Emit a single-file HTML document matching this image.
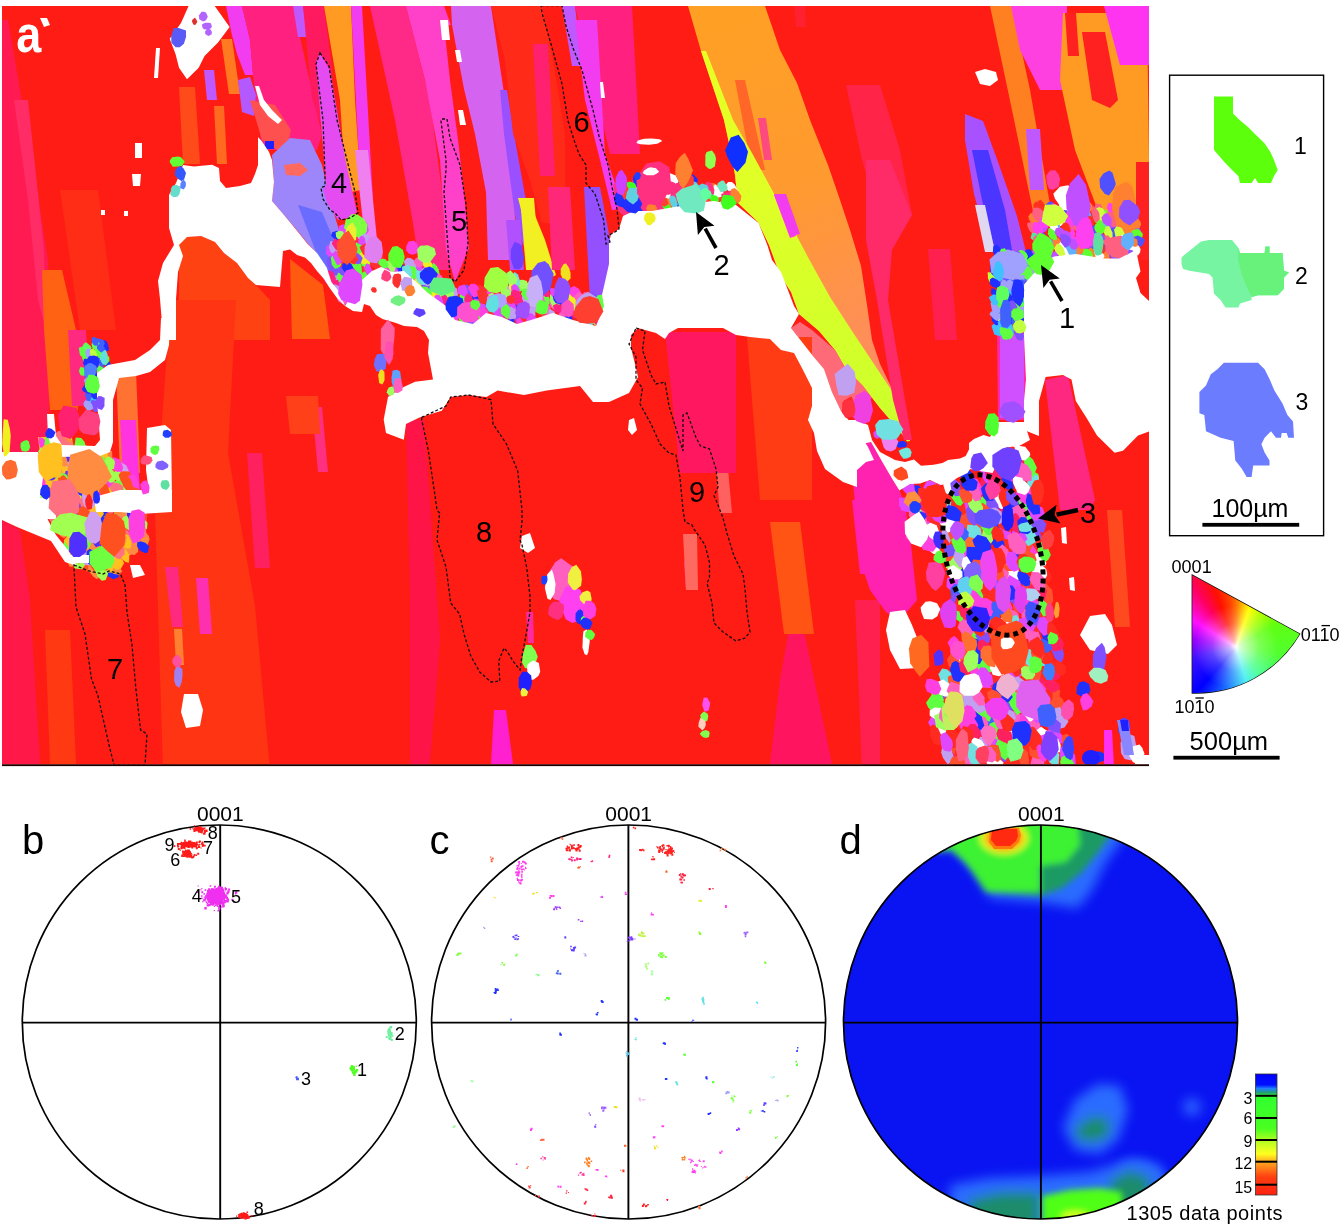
<!DOCTYPE html><html><head><meta charset="utf-8"><title>EBSD figure</title><style>
html,body{margin:0;padding:0;background:#fff;}body{width:1344px;height:1227px;overflow:hidden;position:relative;}
svg{position:absolute;left:0;top:0;}
.t{font-family:"Liberation Sans",Arial,sans-serif;fill:#000;}
#ipf{position:absolute;left:1190px;top:573px;width:112px;height:122px;clip-path:url(#ipfclip);}
</style></head><body>
<svg width="1344" height="1227" viewBox="0 0 1344 1227">
<defs><clipPath id="mapclip"><rect x="2" y="6" width="1147" height="758.5"/></clipPath>
<clipPath id="dclip"><circle cx="1040.5" cy="1022" r="197"/></clipPath>
<filter id="bl6" x="-20%" y="-20%" width="140%" height="140%"><feGaussianBlur stdDeviation="6"/></filter>
<filter id="bl3" x="-20%" y="-20%" width="140%" height="140%"><feGaussianBlur stdDeviation="3"/></filter>
<linearGradient id="gor" gradientUnits="userSpaceOnUse" x1="720" y1="20" x2="880" y2="400"><stop offset="0" stop-color="#ffa024"/><stop offset="0.45" stop-color="#ff9a30"/><stop offset="1" stop-color="#ff8a68"/></linearGradient>
<linearGradient id="gyg" gradientUnits="userSpaceOnUse" x1="710" y1="60" x2="900" y2="440"><stop offset="0" stop-color="#e8ff24"/><stop offset="1" stop-color="#ccff2c"/></linearGradient>
<filter id="bl1"><feGaussianBlur stdDeviation="0.6"/></filter>
</defs>
<g clip-path="url(#mapclip)">
<rect x="2" y="6" width="1147" height="759" fill="#ff1c14"/>
<polygon points="2,20 8,20 20,90 34,170 48,260 50,330 48,470 2,470" fill="#ff1a52"/>
<polygon points="14,100 28,100 44,250 46,330 38,300 28,200" fill="#ff2c66"/>
<polygon points="60,190 98,190 116,330 80,330" fill="#ff2c16"/>
<polygon points="42,270 62,270 76,330 78,410 50,410 44,330" fill="#ff6212"/>
<polygon points="68,330 86,330 90,406 72,406" fill="#ff2a80"/>
<polygon points="116,370 136,370 140,473 120,473" fill="#ff7232"/>
<polygon points="120,420 136,420 140,495 124,495" fill="#ff34e0"/>
<polygon points="38,437 72,437 76,480 44,486" fill="#ffc024"/>
<polygon points="45,473 76,473 80,510 48,512" fill="#ff7080"/>
<polygon points="74,451 112,451 116,510 78,510" fill="#ff8040"/>
<polygon points="179,87 195,87 200,164 183,164" fill="#ff4a1a"/>
<polygon points="214,106 224,106 227,164 217,164" fill="#ff6a20"/>
<polygon points="226,6 242,6 250,40 253,75 245,75 237,54 231.6,33.5" fill="#f23cf0"/>
<polygon points="242,6 293,6 322,135 317,150 262,150 253,75 250,40" fill="#ff2080"/>
<polygon points="293,6 303,6 308,37 298,37" fill="#c058ff"/>
<polygon points="303,6 324,6 332,70 325,135 312,100" fill="#ff1a60"/>
<polygon points="204,70 214,70 217,100 207,100" fill="#c058ff"/>
<polygon points="221,39 232,39 240,94 229,94" fill="#ff7a20"/>
<polygon points="238,80 250,77 256,95 254,116 242,112" fill="#b458ff"/>
<polygon points="250,100 275,105 291,130 285,155 262,140" fill="#ff5050"/>
<polygon points="272,155 290,138 310,140 322,165 330,200 342,240 352,280 345,306 338,291 331,282 327,268 317,253 308,244 296,229 284,215 272,201 274,182" fill="#9c86fa"/>
<polygon points="284,165 300,163 308,170 300,176 286,175" fill="#ff6a60"/>
<polygon points="265,141 274,141 274,149 265,149" fill="#2020ff"/>
<polygon points="298,205 322,212 338,250 346,290 334,285 316,252" fill="#6a6cff"/>
<polygon points="324,6 351,6 355,100 361,190 346,193 340,100" fill="#ff9a22"/>
<polygon points="351,6 362,6 373,200 361,200" fill="#f23cf0"/>
<polygon points="320,53 316,62 326,185 323,190 327,203 338,220 349,218 357,212 346,163 330,70" fill="#e44cf2"/>
<polygon points="355,150 368,150 378,250 366,250" fill="#f080f0"/>
<polygon points="370,6 406,6 430,100 446,223 450,270 420,270 413,223 395,120" fill="#ff2a88"/>
<polygon points="406,6 444,6 451,25 464,89 475,134 486,192 484,223 468,250 455,282 446,250 440,160 425,80" fill="#ff40c8"/>
<polygon points="444,25 452,25 470,100 486,192 488,260 470,260 464,192 458,140 450,80" fill="#ff1c14"/>
<polygon points="451,6 491,6 505,100 513,134 515,223 513,260 488,260 486,192 475,134 464,89 452,25" fill="#d464f0"/>
<polygon points="500,90 507,90 514,134 530,223 542,260 528,260 516,223 504,134" fill="#9a50ff"/>
<polygon points="491,6 542,6 553,60 565,134 565,223 542,223 530,180 513,134 505,60" fill="#ff2a18"/>
<polygon points="518,198 528,198 545,240 556,275 546,280 530,245" fill="#f2f022"/>
<polygon points="533,44 548,44 555,176 540,176" fill="#ff2070"/>
<polygon points="562,6 575,6 582,66 572,66" fill="#c058ff"/>
<polygon points="575,6 632,6 640,154 610,154" fill="#ff2080"/>
<polygon points="575,20 597,20 605,154 624,209 612,210 600,160 585,100" fill="#f23cf0"/>
<polygon points="584,187 600,187 612,250 605,300 590,300" fill="#9450ff"/>
<polygon points="548,187 570,187 575,270 552,270" fill="#ff2878"/>
<polygon points="520,198 534,198 540,270 526,270" fill="#f2f022"/>
<polygon points="506,220 520,220 524,270 510,270" fill="#b050ff"/>
<polygon points="688,6 765,6 780,50 797,83 810,120 828,165 840,200 850,230 861,266 867,305 872,340 880,364 896,397 910,441 899,430 880,408 863,386 846,369 835,350 819,331 799,314 791,292 780,275 769,245 758,222 738,203 735,175 730,148 724,120 701,51" fill="url(#gor)"/>
<polygon points="735,80 745,80 765,170 752,170" fill="#ff6628"/>
<polygon points="758,118 766,118 772,160 764,160" fill="#ff4a80"/>
<polygon points="701,51 706,51 733,120 752,153 771.5,189 791,225 810,261 830,297 852,331 874,364 896,397 907,425 910,441 907,441.5 899,430 880,408 863,386 846,369 835,350 819,331 799,314 791,292 780,275 769,245 758,222 738,203 735,175 730,148 724,120" fill="url(#gyg)"/>
<polygon points="774,195 782,195 796,236 790,238" fill="#ff40e0"/>
<polygon points="846,85 880,85 900,150 912,215 880,222 862,160" fill="#ff2448"/>
<polygon points="866,160 890,160 912,215 892,250 888,300 905,400 912,440 904,440 893,400 877,300 866,240" fill="#ff2a68"/>
<polygon points="928,249 950,249 957,340 935,340" fill="#ff2050"/>
<polygon points="791,328 800,322 812,330 835,350 846,369 863,386 872,398 856,405 841,411 832,392 824,369 813,356 802,342" fill="#ff6a78"/>
<polygon points="794,6 805,6 806,27 796,27" fill="#ff2030"/>
<polygon points="774,194 786,194 800,234 790,236" fill="#f23cf0"/>
<polygon points="990,6 1012,6 1030,90 1052,216 1034,216 1012,110" fill="#ff8020"/>
<polygon points="1011,6 1067,6 1067,90 1040,90 1020,50" fill="#ff40e0"/>
<polygon points="1063,13 1147,13 1149,160 1140,216 1100,216 1075,150 1060,80" fill="#ff9a22"/>
<polygon points="1082,32 1105,32 1118,100 1110,108 1092,100" fill="#ff2020"/>
<polygon points="1065,13 1076,13 1079,56 1068,56" fill="#ff2020"/>
<polygon points="1104,6 1149,6 1149,65 1120,65" fill="#ff34f0"/>
<polygon points="1136,162 1149,162 1149,260 1136,260" fill="#ff2020"/>
<polygon points="1026,129 1040,129 1044,190 1030,190" fill="#c058ff"/>
<polygon points="965,114 983,121 998,162 1017,216 1026,252 990,252 974,194 965,140" fill="#a852ff"/>
<polygon points="972,150 988,150 1005,210 1012,250 995,250 982,200" fill="#4a36ff"/>
<polygon points="975,205 985,205 995,252 985,252" fill="#e0d8f0"/>
<polygon points="997,330 1026,330 1026,420 998,420" fill="#ff26a8"/>
<polygon points="1000,334 1024,334 1024,418 1000,418" fill="#d050ff"/>
<polygon points="2,520 20,530 30,600 40,764 2,764" fill="#ff1848"/>
<polygon points="179,245 187,237 201,236 215,242 224,253 237,263 248,278 256,285 270,300 270,340 179,340" fill="#ff4212"/>
<polygon points="171,300 236,300 228,453 255,606 270,770 163,770 155,511" fill="#ff3412"/>
<polygon points="247,453 262,453 270,568 255,568" fill="#ff2060"/>
<polygon points="312,407 322,407 328,472 318,472" fill="#ff3080"/>
<polygon points="286,396 318,396 320,434 290,434" fill="#ff4018"/>
<polygon points="716,469 728,469 732,513 720,513" fill="#ff6060"/>
<polygon points="684,561 695,561 697,590 686,590" fill="#ff40a0"/>
<polygon points="855,600 880,600 880,770 862,770" fill="#ff2050"/>
<polygon points="45,630 70,630 76,764 50,764" fill="#ff3a12"/>
<polygon points="165,567 178,567 183,627 172,627" fill="#ff2a80"/>
<polygon points="196,578 208,578 212,634 200,634" fill="#ff30b0"/>
<polygon points="174,629 182,629 184,665 176,665" fill="#ff8030"/>
<polygon points="406,420 424,420 440,640 430,764 410,764 410,600" fill="#ff1448"/>
<polygon points="494,710 506,710 513,764 491,764" fill="#ff20d0"/>
<polygon points="526,612 533,612 534,643 528,643" fill="#ff2aa0"/>
<polygon points="683,534 697,534 698,590 686,590" fill="#ff6a60"/>
<polygon points="792,612 800,612 832,764 770,764 780,680" fill="#ff1460"/>
<polygon points="770,522 800,522 814,634 784,634" fill="#ff5414"/>
<polygon points="852,500 880,500 880,574 860,574" fill="#ff22b0"/>
<polygon points="665,332 736,332 736,473 680,473" fill="#ff1860"/>
<polygon points="747,337 812,337 812,500 760,500" fill="#ff3c14"/>
<polygon points="854,459 863.4,443.8 871,442 880.6,459 891.6,478 899.4,490.6 905.6,506 907,520 911,545 917,600 900,620 886,612 870,590 860,560 852,470" fill="#ff22b0"/>
<polygon points="1045,380 1068,375 1095,500 1090,510 1060,510" fill="#ff2880"/>
<polygon points="1107,510 1122,510 1130,627 1115,627" fill="#ff4a20"/>
<polygon points="290,259 323,285 330,339 292,339" fill="#ff5a10"/>
<polygon points="438.647,296.705 436.254,292.106 437.089,286.81 440.084,287.502 443.743,289.007 447.183,294.324 445.916,296.696 441.695,299.403" fill="#a0ff60"/>
<polygon points="462.131,293.036 466.237,296.15 467.569,298.128 467.216,303.012 464.92,303.377 461.493,301.871 459.581,297.311 459.986,293.52" fill="#60ff40"/>
<polygon points="544.799,291.503 548.583,294.853 549.77,299.473 549.753,304.445 545.395,304.565 541.185,300.999 540.22,296.677 541.232,293.476" fill="#60ff40"/>
<polygon points="342.463,261.028 340.661,258.894 338.397,251.854 340.404,249.872 346.136,250.441 347.681,253.156 349.063,258.27 347.045,262.038" fill="#ff2080"/>
<polygon points="492.397,305.258 494.999,300.006 499.764,300.821 501.66,302.687 503.148,308.381 500.73,312.636 497.388,312.054 493.368,309.667" fill="#c0a0f0"/>
<polygon points="350.236,289.834 349.816,285.032 352.332,283.961 358.129,286.211 360.449,290.596 360.107,293.483 357.327,296.287 352.192,294.343" fill="#8050ff"/>
<polygon points="430.443,282.737 427.871,279.619 428.228,274.679 430.454,273.014 434.981,275.064 436.674,278.114 437.578,281.27 434.161,283.44" fill="#60ff40"/>
<polygon points="411.161,286.465 405.756,280.057 404.854,276.733 407.015,272.143 413.624,271.503 416.793,277.46 418.416,284.127 414.815,284.986" fill="#e048ff"/>
<polygon points="534.684,288.381 536.832,287.087 541.903,287.132 545.347,292.449 544.707,294.729 542.033,298.107 537.835,297.306 534.996,292.722" fill="#e048ff"/>
<polygon points="455.317,316.446 452.81,313.701 456.767,308.563 460.719,309.284 464.662,312.633 466.017,315.639 463.695,319.603 460.205,319.49" fill="#ff60c0"/>
<polygon points="413.618,273.213 413.806,265.444 416.642,263.426 421.477,267.51 423.296,270.893 424.172,275.017 420.219,279.76 417.921,277.388" fill="#e048ff"/>
<polygon points="410.237,272.932 406.855,269.549 403.596,261.247 407.35,257.718 410.901,258.216 414.643,260.841 416.462,265.257 415.499,271.289" fill="#c0a0f0"/>
<polygon points="605.476,315.372 603.621,316.78 598.115,315.495 595.653,313.143 594.888,309.989 598.419,306.013 601.312,306.979 604.458,311.722" fill="#c0a0f0"/>
<polygon points="505.528,319.541 507.012,314.826 510.289,314.797 513.304,318.591 514.905,323.288 512.211,326.746 508.396,326.941 506.468,324.585" fill="#2030ff"/>
<polygon points="522.98,290.105 518.989,292.488 514.776,290.538 512.638,283.235 511.809,278.108 515.783,277.457 519.957,280.336 522.273,283.001" fill="#60ff40"/>
<polygon points="602.144,319.308 599.998,322.359 595.959,320.583 590.305,314.183 592.037,309.196 593.869,305.846 600.126,308.304 601.399,311.936" fill="#c0a0f0"/>
<polygon points="400.254,276.57 395.234,270.032 394.431,265.683 396.987,262.549 401.15,261.762 405.42,268.169 405.994,272.934 404.972,276.91" fill="#2030ff"/>
<polygon points="572.442,315.402 571.253,319.331 565.708,317.286 562.889,313.743 562.991,312.078 564.943,308.538 567.613,308.636 570.825,310.952" fill="#ff3030"/>
<polygon points="535.378,315.155 532.733,317.906 530.052,316.153 528.1,313.174 526.293,309.463 529.146,307.395 533.47,308.287 535.452,311.558" fill="#c0a0f0"/>
<polygon points="563.565,321.117 562.905,313.79 563.943,311.465 568.141,312.615 571.819,315.022 573.075,323.083 570.559,325.547 565.502,322.757" fill="#2030ff"/>
<polygon points="350.649,238.128 354.935,236.32 358.793,238.232 360.888,242.903 360.371,249.017 357.602,250.284 353.514,245.927 350.958,242.48" fill="#e048ff"/>
<polygon points="432.327,271.497 431.628,277.059 429.255,278.045 424.109,276.161 420.988,273.49 421.549,269.34 424.894,267.19 428.265,268.788" fill="#c0a0f0"/>
<polygon points="326.487,246.34 328.303,244.824 332.42,247.415 335.26,252.231 334.742,256.437 331.739,259.999 328.755,256.908 325.966,253.398" fill="#e048ff"/>
<polygon points="505.706,292.277 501.807,289.709 499.87,285.818 498.498,280.621 501.131,275.891 504.327,277.224 507.622,284.771 507.8,290.16" fill="#e048ff"/>
<polygon points="343.552,250.658 345.085,246.514 348.346,247.045 351.551,247.865 352.3,250.781 352.436,256.059 350.261,256.505 346.213,255.42" fill="#ff40e0"/>
<polygon points="520.472,302.696 523.733,306.932 523.08,311.025 517.989,313.009 515.51,312.593 513.076,308.251 513.218,302.657 515.012,301.899" fill="#2030ff"/>
<polygon points="582.678,325.811 578.58,321.832 579.376,317.826 580.365,316.523 584.087,315.292 587.737,318.968 587.892,322.359 585.003,325.558" fill="#c0a0f0"/>
<polygon points="374.25,252.123 371.7,255.094 366.006,253.265 363.668,251.019 362.438,247.066 366.373,244.724 372.533,246.422 375.224,248.535" fill="#c0a0f0"/>
<polygon points="344.934,234.923 341.989,233.307 338.577,230.579 338.86,225.919 343.271,224.153 349.54,226.989 351.869,230.25 349.888,232.838" fill="#e048ff"/>
<polygon points="514.434,292.312 518.31,299.827 516.545,303.006 513.308,304.442 510.303,300.829 507.645,295.586 508.063,291.063 510.369,288.328" fill="#60ff40"/>
<polygon points="449.813,318.194 451.232,313.254 453.733,312.564 456.516,314.552 458.531,317.678 458.188,322.465 454.238,322.766 452.289,321.117" fill="#ff40e0"/>
<polygon points="519.94,279.922 522.743,279.735 526.899,280.988 528.244,288.135 528.311,290.486 524.526,293.014 522.082,291.328 518.521,284.693" fill="#a0ff60"/>
<polygon points="563.179,308.458 561.069,302.586 563.514,298.874 567.497,299.129 570.098,301.97 572.604,307.721 571.61,311.958 567.671,312.309" fill="#c0a0f0"/>
<polygon points="559.494,300.765 559.978,295.619 562.365,292.001 567.472,296.12 571.14,301.112 570.949,305.483 566.28,307.67 561.863,305.382" fill="#e048ff"/>
<polygon points="458.935,315.463 456.79,316.901 452.484,312.546 450.947,310.02 452.484,306.8 455.99,305.826 459.676,309.347 460.308,313.054" fill="#e048ff"/>
<polygon points="373.948,258.806 371.93,264.892 368.85,262.64 365.482,258.921 364.88,254.581 367.767,251.813 369.591,251.152 372.757,254.382" fill="#8050ff"/>
<polygon points="550.499,307.026 549.234,301.547 550.078,299.347 553.548,298.61 558.219,303.374 558.451,307.519 556.984,310.344 554.76,310.64" fill="#ff60c0"/>
<polygon points="583.689,310.871 588.045,307.799 591.179,309.458 594.884,315.351 592.843,320.135 591.552,321.411 585.502,320.338 584.021,316.779" fill="#e048ff"/>
<polygon points="564.902,309.404 566.577,315.18 564.897,316.912 561.097,316.469 558.886,314.753 557.451,307.014 560.326,305.87 562.391,305.72" fill="#ff60c0"/>
<polygon points="378.889,268.379 375.687,269.002 369.539,264.931 367.796,261.244 368.774,256.499 370.29,252.63 377.561,257.438 378.595,261.665" fill="#ff3030"/>
<polygon points="513.594,294.521 512.995,298.231 510.017,298.531 504.867,293.343 504.821,289.647 506.537,285.213 509.936,285.93 512.438,289.035" fill="#c0a0f0"/>
<polygon points="348.805,295.675 352.389,298.331 354.198,302.556 351.635,306.479 347.38,306.273 344.392,302.706 343.368,299.085 346.6,296.559" fill="#ff40e0"/>
<polygon points="390.476,273.225 388.565,267.732 389.302,263.114 392.195,262.794 396.103,266.145 398.078,270.481 396.674,275.582 393.447,275.152" fill="#e048ff"/>
<polygon points="349.034,274.308 352.207,271.238 357.513,271.768 360.758,274.783 362.207,280.947 360.232,285.051 356.952,286.423 352.132,282.267" fill="#70e0e0"/>
<polygon points="600.328,321.493 600.307,324.536 597.848,327.288 594.753,324.94 591.436,321.416 592.587,314.141 594.617,314.941 599.083,318.25" fill="#a0ff60"/>
<polygon points="499.769,315.911 501.208,310.029 503.806,309.706 507.08,313.179 509.002,318.64 508.264,322.778 504.19,324.782 502.173,320.946" fill="#ff2080"/>
<polygon points="512.365,313.687 507.604,311.24 505.919,306.099 507.266,302.153 511.862,301.252 514.991,303.142 516.662,309.377 516.225,313.191" fill="#e048ff"/>
<polygon points="517.837,308.814 520.63,312.381 522.129,314.776 521.631,318.657 518.074,318.497 514.525,316.563 512.436,314.166 513.879,309.569" fill="#ff3030"/>
<polygon points="413.748,279.546 408.164,277.211 406.132,272.488 408.164,268.33 411.371,265.937 414.689,266.8 418.637,271.996 417.313,277.253" fill="#60ff40"/>
<polygon points="474.695,327.587 471.582,325.144 468.445,320.33 470.36,317.903 471.761,316.158 477.085,317.118 480.129,323.09 480.033,325.553" fill="#e048ff"/>
<polygon points="349.165,299.287 345.435,295.731 344.703,293.221 347.211,290.235 350.528,288.924 353.927,291.273 356.79,297.074 354.208,298.1" fill="#f0f020"/>
<polygon points="551.621,293.89 557.636,294.787 560.668,301.847 560.229,304.406 556.484,308.154 553.214,307.769 549.665,300.699 550.102,294.309" fill="#a0ff60"/>
<polygon points="421.496,288.334 417.733,289.051 414.364,285.167 414.225,280.619 414.926,279.124 417.534,277.291 421.611,282.22 421.982,284.528" fill="#f0f020"/>
<polygon points="335.962,273.241 338.265,275.549 340.895,279.623 337.115,285.088 334.939,284.149 329.559,280.912 327.945,277.559 330.346,273.683" fill="#c0a0f0"/>
<polygon points="573.824,304.901 578.886,309.716 579.784,314.33 578.648,316.802 574.796,318.557 569.774,315.275 567.599,308.619 570.572,304.972" fill="#ff2080"/>
<polygon points="496.517,302.816 494.768,307.213 491.433,306.844 485.396,303.677 483.92,298.164 484.739,292.822 490.241,291.687 494.667,294.926" fill="#ff3030"/>
<polygon points="548.698,313.866 549.294,317.879 545.446,318.917 540.961,314.159 539.828,309.354 540.84,303.964 544.022,302.862 546.538,306.074" fill="#ff60c0"/>
<polygon points="374.852,267.177 373.596,265.401 373.181,259.692 374.678,256.607 381.304,258.068 384.266,262.456 385.067,265.918 381.811,269.057" fill="#ff3030"/>
<polygon points="464.702,286.062 466.33,284.191 470.266,286.793 472.169,291.092 473.243,296.03 470.488,297.108 465.471,295.163 464.728,292.54" fill="#8050ff"/>
<polygon points="343.369,279.379 347.54,281.668 349.517,285.591 349.455,288.501 345.913,289.02 342.143,288.078 339.936,283.293 340.127,280.84" fill="#f0f020"/>
<polygon points="571.917,310.446 567.019,307.056 566.175,301.722 569.204,298.464 573.537,299.6 577.721,303.331 578.478,308.133 576.254,310.639" fill="#a0ff60"/>
<polygon points="345.298,242.808 345.486,239.891 349.967,237.471 354.012,241.038 356.809,246.452 355.742,250.565 351.875,251.266 348.492,248.309" fill="#c0a0f0"/>
<polygon points="592.625,319.575 592.861,325.506 590.645,326.521 587.541,324.782 585.723,321.682 584.615,317.127 586.782,315.403 590.755,315.08" fill="#70e0e0"/>
<polygon points="564.182,292.66 565.063,295.218 562.058,299.511 559.927,299.243 555.451,297.295 553.007,291.12 554.751,289.7 558.915,289.484" fill="#60ff40"/>
<polygon points="352.759,275.3 354.587,277.493 355.467,281.182 355.22,285.879 350.978,285.581 349.256,283.201 347.887,279.19 348.086,275.021" fill="#ff60c0"/>
<polygon points="355.333,226.406 356.829,234.75 355.011,236.318 353.136,238.68 348.812,234.288 346.755,228.315 349.07,224.188 351.287,223.087" fill="#2030ff"/>
<polygon points="394.099,264.6 392.759,260.106 393.765,256.469 395.898,256.965 399.481,258.782 400.903,263.754 399.125,267.464 397.35,267.806" fill="#c0a0f0"/>
<polygon points="550.682,294.596 549.934,289.942 550.579,287.903 554.917,288.564 559.863,291.759 560.69,296.911 558.21,297.477 553.518,298.124" fill="#e048ff"/>
<polygon points="598.514,328.062 593.662,322.121 593.504,316.413 596.963,313.646 601.467,313.084 604.716,318.686 607.42,323.979 603.64,327.957" fill="#ff2080"/>
<polygon points="578.251,306.563 571.063,306.935 568.669,302.611 567.828,299.658 569.57,294.906 575.035,296.33 576.888,298.201 578.047,302.103" fill="#f0f020"/>
<polygon points="470.615,314.104 471.752,308.879 474.331,306.594 478.97,310.137 481.389,315.87 479.527,318.475 475.263,318.865 472.278,317.225" fill="#60ff40"/>
<polygon points="496.486,309.692 495.729,305.645 497.535,299.69 501.775,300.233 507.337,305.146 508.428,312.285 506.884,315.827 500.713,314.002" fill="#e048ff"/>
<polygon points="605.911,306.867 606.061,310.817 604.267,313.097 600.005,312.996 596.453,310.485 594.26,306.243 597.189,302.284 602.414,302.019" fill="#f0f020"/>
<polygon points="467.778,299.575 474.257,301.658 476.394,305.945 474.989,309.422 470.393,310.266 466.815,308.631 464.139,304.422 464.278,300.067" fill="#e048ff"/>
<polygon points="341.156,239.512 336.914,240.847 334.749,239.724 331.175,235.691 332.257,232.141 337.081,230.712 340.634,233.674 342.318,236.597" fill="#2030ff"/>
<polygon points="377.357,260.161 374.596,256.494 373.679,250.727 375.52,249.164 379.516,249.46 383.006,254.382 383.932,259.16 380.709,262.8" fill="#ff3030"/>
<polygon points="364.994,265.375 368.144,269.995 368.218,272.232 363.209,275.252 359.038,274.618 354.49,268.601 355.622,265.436 361.027,264.433" fill="#ff3030"/>
<polygon points="388.352,276.086 384.462,275.32 382.246,271.248 381.994,266.414 384.649,263.453 386.194,264.017 389.646,269.637 390.148,274.486" fill="#ff40e0"/>
<polygon points="545.319,307.913 546.111,311.175 546.32,315.063 539.667,316.011 537.645,313.084 535.729,308.961 537.94,306.047 541.649,306.607" fill="#ff3030"/>
<polygon points="453.788,303.871 451.079,301.856 449.872,295.954 450.638,292.322 457.319,292.341 458.488,294.909 460.324,301.051 459.152,304.829" fill="#ff3030"/>
<polygon points="367.052,223.333 368.836,230.627 366.454,234.488 361.891,233.508 355.641,227.665 355.963,222.057 359.619,218.741 363.523,220.05" fill="#e048ff"/>
<polygon points="467.353,289.363 467.975,293.661 465.044,296.971 460.809,294.711 458.024,293.746 457.393,288.805 459.112,285.913 464.454,284.6" fill="#e048ff"/>
<polygon points="334.365,269.577 331.869,269.107 327.716,266.822 326.642,262.121 327.871,256.911 331.921,256.215 334.361,260.382 336.704,265.292" fill="#8050ff"/>
<polygon points="415.24,258.565 418.451,257.054 421.971,258.66 424.266,264.246 421.801,266.554 419.258,267.478 416.227,265.967 413.796,262.175" fill="#ff60c0"/>
<polygon points="429.77,291.243 431.249,288.233 434.745,288.171 438.695,290.088 439.457,294.318 437.37,298.602 434.278,298.05 429.778,294.265" fill="#f0f020"/>
<polygon points="507.9,285.145 502.933,283.199 500.711,279.149 500.488,274.518 504.418,272.396 509.077,273.893 511.787,280.829 511.217,286.007" fill="#2030ff"/>
<polygon points="361.214,240.799 361.039,244.536 358.057,243.739 353.932,240.219 352.57,233.062 354.777,230.018 358.011,232.098 359.859,233.586" fill="#ff3030"/>
<polygon points="357.656,235.117 359.534,228.897 362.254,228.995 367.806,235.795 367.974,239.842 366.702,244.069 362.589,242.938 358.149,238.441" fill="#c0a0f0"/>
<polygon points="351.306,290.236 345.355,289.241 342.675,284.928 342.309,282.436 346.293,280.21 351.637,279.943 354.26,284.18 354.503,290.036" fill="#2030ff"/>
<polygon points="349.038,287.185 350.413,293.55 349.321,296.818 343.778,296.135 341.437,293.424 340.893,287.565 342.465,283.388 346.114,282.901" fill="#8050ff"/>
<polygon points="368.04,245.785 364.955,248.583 360.419,246.629 358.056,242.005 359.127,238.821 360.598,235.952 363.126,236.099 366.464,240.514" fill="#e048ff"/>
<polygon points="394.488,271.443 391.507,272.259 388.378,268.096 386.916,265.551 386.545,261.412 390.293,259.516 394.023,263.143 395.85,266.773" fill="#a0ff60"/>
<polygon points="508.899,288.572 508.747,282.035 511.949,280.316 514.357,280.641 517.241,285.069 517.442,289.003 515.6,292.876 510.397,290.422" fill="#f0f020"/>
<polygon points="344.147,271.539 341.089,268.565 338.636,262.035 338.755,258.784 341.076,256.52 345.555,262.29 347.4,265.571 346.995,270.376" fill="#ff3030"/>
<polygon points="338.866,240.334 336.078,236.663 335.668,232.566 339.411,230.818 342.978,231.612 344.134,233.796 345.534,239.899 343.139,241.613" fill="#a0ff60"/>
<polygon points="588.812,295.979 590.767,293.042 592.408,291.89 595.897,294.299 598.029,298.639 596.857,303.186 595.459,306.03 590.285,301.257" fill="#8050ff"/>
<polygon points="364.455,267.326 361.805,265.235 360.062,261.611 362.162,258.684 365.265,257.441 370.15,261.518 370.16,263.625 368.343,266.909" fill="#60ff40"/>
<polygon points="430.789,266.747 433.585,262.654 436.603,265.679 438.651,269.398 439.812,274.821 437.704,279.351 433.966,276.992 430.322,271.66" fill="#60ff40"/>
<polygon points="528.558,281.74 532.874,281.967 535.654,283.518 536.203,287.96 533.091,291.428 529.853,290.284 526.133,287.719 526.33,284.107" fill="#a0ff60"/>
<polygon points="556.506,303.693 559.975,305.022 562.477,306.715 561.551,311.349 559.564,313.471 555.339,311.757 553.907,309.114 552.813,305.452" fill="#ff2080"/>
<polygon points="454.874,310.207 452.892,312.125 449.455,312.326 446.821,310.395 444.869,305.48 446.561,300.894 450.767,301.636 452.568,303.815" fill="#ff40e0"/>
<polygon points="336.856,267.887 338.894,269.778 338.277,274.825 335.125,275.801 331.388,274.233 328.837,271.592 329.412,266.033 332.651,265.428" fill="#8050ff"/>
<polygon points="533.677,309.997 532.079,301.368 533.575,299.325 537.898,299.329 540.793,304.905 541.197,309.737 540.852,312.528 537.403,313.324" fill="#60ff40"/>
<polygon points="360.176,276.118 357.397,274.296 354.641,268.988 354.526,263.813 356.013,261.596 359.728,263.893 361.681,267.828 362.186,275.382" fill="#60ff40"/>
<polygon points="346.952,299.986 345.434,302.995 343.093,304.187 338.03,301.193 337.069,298.348 337.822,292.199 339.598,290.991 344.441,292.865" fill="#ff60c0"/>
<polygon points="495.359,293.681 488.501,288.209 489.148,282.959 491.746,279.56 496.764,278.855 501.09,283.614 502.287,289.307 498.717,292.972" fill="#e048ff"/>
<polygon points="447.41,295.329 448.836,297.205 451.666,302.933 448.782,307.699 447.016,307.314 443.154,304.17 441.204,296.581 443.015,293.989" fill="#ff2080"/>
<polygon points="346.283,256.909 349.623,255.854 354.172,259.579 355.041,264.712 353.312,267.341 350.043,267.8 346.046,266.195 343.8,260.16" fill="#ff3030"/>
<polygon points="536.591,310.481 533.835,310.744 529.766,307.008 529.493,301.663 531.501,299.32 533.77,300.159 536.275,301.51 537.248,305.824" fill="#c0a0f0"/>
<polygon points="356.381,242.544 362.411,245.679 363.691,249.327 362.581,254.571 357.607,254.837 353.37,252.251 351.152,246.86 352.876,242.404" fill="#60ff40"/>
<polygon points="358.636,260.821 357.288,255.495 361.544,251.92 366.331,253.273 371.429,257.762 370.209,262.05 368.681,264.068 362.929,264.127" fill="#f0f020"/>
<polygon points="590.363,313.012 584.396,311.282 581.674,307.553 583.514,303.101 587.916,302.817 590.669,303.428 594.431,308.111 591.792,311.229" fill="#2030ff"/>
<polygon points="340.98,283.824 338.829,281.276 336.851,277.474 337.818,272.626 341.476,273.197 344.214,276.423 345.653,281.544 344.889,284.064" fill="#60ff40"/>
<polygon points="496.841,292.951 500.464,291.242 502.898,293.018 506.965,296.852 506.846,301.832 503.268,304.09 501.802,303.308 497.465,300.366" fill="#ff60c0"/>
<polygon points="520.004,284.376 517.499,287.346 514.577,284.643 512.609,280.567 511.41,277.059 514.49,272.061 517.966,274.433 519.437,279.267" fill="#70e0e0"/>
<polygon points="585.153,311.466 581.072,310.713 578.799,310.741 575.864,304.627 575.979,296.312 579.555,295.185 582.123,297.601 584.959,302.645" fill="#2030ff"/>
<polygon points="441.489,287.933 439.859,281.303 443.94,278.582 446.552,279.791 450.279,284.425 451.201,289.896 449.494,292.236 444.277,290.715" fill="#2030ff"/>
<polygon points="500.08,296.246 498.302,293.9 500.322,288.124 504.083,287.671 510.809,290.725 512.281,294.34 509.41,298.992 505.441,299.625" fill="#a0ff60"/>
<polygon points="339.218,267.669 334.806,268.635 331.907,264.854 330.759,257.564 332.241,256.001 337.298,256.029 339.353,258.716 341.488,263.913" fill="#60ff40"/>
<polygon points="496.869,305.437 490.827,300.74 488.243,294.953 488.851,292.919 493.39,291.269 499.929,294.14 500.458,297.428 500.305,303.336" fill="#a0ff60"/>
<polygon points="540.012,281.794 542.689,287.862 542.117,291.1 538.856,292.606 534.718,290.43 532.306,286.961 533.207,282.245 537.427,280.908" fill="#ff3030"/>
<polygon points="354.699,244.974 350.483,243.687 347.472,240.693 346.209,232.062 348.579,230.146 352.354,230.274 356.483,236.754 357.113,239.418" fill="#ff2080"/>
<polygon points="473.065,322.95 469.623,326.875 463.747,323.025 463.487,319.681 462.579,313.329 465.01,311.296 469.911,311.624 472.913,317.747" fill="#8050ff"/>
<polygon points="539.468,309.456 539.51,305.267 541.323,299.531 546.44,302.012 549.805,306.06 551.638,311.722 549.642,314.811 544.001,314.294" fill="#ff60c0"/>
<polygon points="484.261,311.966 480.618,311.992 477.21,308.751 476.84,304.381 479.099,302.126 482.228,301.923 485.157,304.768 486.751,310.817" fill="#e048ff"/>
<polygon points="364.032,282.658 360.553,279.053 359.955,276.576 362.432,272.415 364.765,271.217 367.471,274.78 368.439,279.406 367.112,283.449" fill="#60ff40"/>
<polygon points="366.559,246.743 365.228,241.398 365.839,235.711 368.103,234.759 371.322,239.234 373.129,244.033 373.805,249.591 370.457,251.542" fill="#c0a0f0"/>
<polygon points="515.456,275.872 517.587,278.629 516.248,284.571 512.504,285.004 507.84,282.275 506.096,274.889 507.775,272.325 510.41,270.342" fill="#a0ff60"/>
<polygon points="434.7,290.372 430.528,287.564 429.231,284.07 430.809,281.619 435.182,281.301 437.352,283.365 438.34,287.25 436.07,290.228" fill="#ff3030"/>
<polygon points="471.835,308.165 469.731,308.515 465.199,302.437 464.099,298.382 466.952,293.337 468.708,294.063 472.626,298.124 474.278,306.499" fill="#ff2080"/>
<polygon points="523.981,290.763 526.11,291.607 529.995,297.741 529.803,300.999 528.503,305.244 525.755,304.564 522.069,300.057 521.485,292.404" fill="#c0a0f0"/>
<polygon points="456.753,288.538 457.946,294.419 456.87,297.089 452.191,297.261 450.487,294.75 448.954,288.861 450.145,284.921 452.394,285.456" fill="#c0a0f0"/>
<polygon points="480.496,301.722 475.567,301.932 472.157,298.071 472.773,294.289 475.847,291.213 479.67,292.264 481.963,295.587 482.857,299.797" fill="#2030ff"/>
<polygon points="589.277,302.604 584.364,299.25 582.541,295.813 583.816,292.175 589.034,292.569 592.329,294.724 595.046,298.234 593.277,301.452" fill="#ff60c0"/>
<polygon points="491.494,317.215 487.773,318.504 484.942,316.353 483.898,311.103 486.102,307.088 488.683,307.22 492.016,311.537 493.333,314.09" fill="#ff3030"/>
<polygon points="432.925,274.577 438.205,273.473 441.249,275.309 443.904,280.021 444.94,283.758 442.134,286.007 436.002,284.17 434.057,280.326" fill="#ff60c0"/>
<polygon points="362.762,254.026 359.417,247.269 362.173,245.071 365.247,243.549 370.405,245.912 371.654,251.181 371.482,256.669 365.641,256.725" fill="#ff3030"/>
<polygon points="517.243,324.582 513.526,317.65 514.594,315.184 519.668,313.302 522.432,313.185 526.538,320.824 525.357,323.891 520.53,324.963" fill="#8050ff"/>
<polygon points="356.104,277.72 361.218,280.191 363.051,284.78 361.589,287.491 356.762,288.295 351.99,284.922 349.803,282.515 352.847,276.709" fill="#8050ff"/>
<polygon points="528.613,315.845 532.2,320.663 531.807,327.547 526.18,328.407 521.103,324.524 520.51,319.995 520.526,316.138 523.165,313.347" fill="#ff3030"/>
<polygon points="565.958,287.132 568.657,287.54 573.191,293.412 572.896,297.706 570.671,299.481 565.404,297.929 563.799,295.701 563.062,288.602" fill="#f0f020"/>
<polygon points="361.663,265.795 360.274,270.207 356.851,269.704 353.174,268.611 350.259,262.75 350.646,258.442 353.927,256.633 359.55,260.631" fill="#60ff40"/>
<polygon points="325.059,282.482 322.259,276.455 323.823,273.488 328.254,270.191 333.22,271.919 335.803,278.365 335.626,283.66 330.187,285.22" fill="#ff2080"/>
<polygon points="553.087,296.426 556.657,293.049 560.692,295.501 562.329,298.299 562.694,302.545 560.372,304.704 555.608,303.078 553.365,299.862" fill="#2030ff"/>
<polygon points="333.407,253.462 330.643,252.272 328.996,247.318 330.243,240.984 333.295,241.834 337.623,244.013 338.673,249.424 337.522,254.65" fill="#c0a0f0"/>
<polygon points="335.617,246.38 336.158,242.251 338.517,238.637 341.812,239.837 346.299,244.696 346.105,247.406 343.075,250.161 337.61,249.89" fill="#ff3030"/>
<polygon points="354.216,233.374 352.359,232.374 349.573,226.722 349.761,222.919 354.595,221.79 358.983,222.935 361.334,230.651 359.369,233.816" fill="#ff3030"/>
<polygon points="408.881,277.032 405.34,274.882 402.151,271.148 402.013,266.67 405.965,265.329 408.955,265.096 411.592,270.729 412.259,275.743" fill="#70e0e0"/>
<polygon points="339.596,264.764 336.953,265.112 333.096,257.301 333.185,253.16 335.139,250.625 338.855,252.205 342.445,256.759 342.179,261.305" fill="#e048ff"/>
<polygon points="549.697,294.352 549.033,296.702 545.009,297.012 542.703,293.089 540.997,288.39 543.268,286.548 547.317,286.565 548.514,288.821" fill="#ff2080"/>
<polygon points="492.838,292.123 489.977,293.989 488.5,294.558 485.013,292.464 482.498,288.906 484.134,285.973 487.967,284.891 490.817,286.372" fill="#ff40e0"/>
<polygon points="484.561,298.972 479.957,298.523 476.917,293.804 475.343,287.239 479.567,284.805 484.87,287.258 486.989,289.861 486.626,295.061" fill="#ff3030"/>
<polygon points="340.661,274.725 339.277,272.266 338.421,267.057 344.126,267.004 347.627,268.315 349.761,272.001 348.904,276.855 346.743,277.195" fill="#8050ff"/>
<polygon points="498.963,308.107 501.553,310.091 503.297,315.437 502.888,317.527 496.774,318.598 494.879,316.283 491.863,310.748 495.096,308.861" fill="#e048ff"/>
<polygon points="335.402,238.142 338.111,240.642 340.286,244.197 340.922,249.966 338.018,250.771 335.626,249.611 331.685,243.385 333.81,240.104" fill="#ff2080"/>
<polygon points="442.954,289.39 445.882,286.315 448.034,287.296 453.554,291.576 453.858,294.864 451.768,298.917 447.642,297.426 444.99,294.021" fill="#a0ff60"/>
<polygon points="478.659,299.534 481.759,303.832 481.897,308.741 479.19,310.346 476.572,310.295 471.532,304.57 471.958,301.566 474.735,298.55" fill="#e048ff"/>
<polygon points="434.366,296.578 436.534,294.416 439.799,295.145 442.807,300.063 443.491,303.374 441.778,308.208 439.325,308.862 434.66,301.223" fill="#e048ff"/>
<polygon points="489.292,318.513 486.168,320.99 482.359,320.152 479.757,316.908 478.06,309.878 479.033,307.789 485.153,308.31 487.729,310.647" fill="#ff40e0"/>
<polygon points="387.031,268.17 382.84,268.218 378.109,263.514 379.099,260.149 380.928,258.801 385.317,258.895 387.255,261.424 388.625,264.916" fill="#60ff40"/>
<polygon points="464.044,313.356 467.153,317.707 467.719,321.813 465.02,324.728 462.392,324.355 459.716,321.38 458.353,316.921 460.029,314.254" fill="#60ff40"/>
<polygon points="421.962,279.396 423.532,277.049 430.592,280.567 433.38,283.942 433.015,286.321 430.972,290.52 425.967,288.725 421.237,285.915" fill="#8050ff"/>
<polygon points="523.096,321.803 523.822,327.258 522.376,331.778 519.263,329.693 517.518,327.779 516.347,321.162 516.505,318.882 519.982,317.443" fill="#ff40e0"/>
<polygon points="424.947,267.427 423.195,265.399 422.794,261.661 425.364,258.105 428.722,259.406 432.45,264.093 431.958,267.119 429.599,268.651" fill="#f0f020"/>
<polygon points="357.362,253.122 360.04,254.66 362.693,257.961 360.608,263.378 357.281,264.322 354.059,263.033 352.013,257.603 352.383,255.263" fill="#8050ff"/>
<polygon points="462.565,314.124 462.973,310.399 464.464,305.939 470.478,310.936 472.167,316.821 470.642,319.698 468.527,321.836 464.62,319.253" fill="#ff3030"/>
<polygon points="535.948,317.229 536.05,320.192 534.145,324.78 530.421,324.14 526.487,321.208 526.394,317.466 529.099,313.19 531.879,313.279" fill="#e048ff"/>
<polygon points="339.116,282.844 341.406,290.447 339.477,290.458 335.05,290.888 332.798,287.199 331.815,281.174 333.56,280.617 338.095,279.68" fill="#ff2080"/>
<polygon points="536.995,292.977 539.526,291.554 543.207,295.729 544.926,300.948 544.931,303.163 543.293,308.158 539.598,304.727 537.153,298.954" fill="#ff60c0"/>
<polygon points="577.303,308.306 582.975,308.453 585.449,309.728 588.664,315.106 585.65,319.199 583.204,321.181 577.683,318.304 576.377,312.957" fill="#a0ff60"/>
<polygon points="515.71,309.175 516.292,316.362 515.682,318.443 509.506,319.619 505.554,315.179 505.565,309.625 507.592,306.398 510.743,306.696" fill="#c0a0f0"/>
<polygon points="352.43,250.258 355.796,254.325 358.199,259.618 354.639,264.551 350.845,263.163 348.662,260.432 346.002,253.917 347.85,250.631" fill="#ff3030"/>
<polygon points="510.42,311.051 508.714,317.209 507.35,319.326 500.877,313.444 500.816,308.868 501.25,303.167 505.207,302.739 508.642,305.795" fill="#60ff40"/>
<polygon points="345.574,259.086 340.022,254.01 339.992,250.632 341.17,245.982 344.73,245.327 348.227,247.931 350.407,255.689 348.248,259.411" fill="#ff40e0"/>
<polygon points="470.67,284.079 475.001,283.653 477.587,285.718 480.688,292.721 479.163,295.981 473.681,297.564 471.547,294.898 467.973,288.112" fill="#ff40e0"/>
<polygon points="570.246,287.933 574.212,286.057 578.852,288.656 582.349,294.655 580.421,298.385 576.366,298.99 572.091,296.578 568.59,292.905" fill="#ff40e0"/>
<polygon points="480.12,302.744 478.32,298.863 476.918,290.95 478.939,289.487 482.755,291.478 485.681,297.137 485.422,303.03 483.021,304.22" fill="#ff3030"/>
<polygon points="420.938,283.306 419.126,279.844 422.315,276.143 426.008,274.946 431.651,277.453 432.74,281.672 431.066,285.295 427.24,286.265" fill="#c0a0f0"/>
<polygon points="446.669,285.537 447,290.996 444.812,292.526 440.857,290.458 439.23,288.779 438.537,282.937 440.798,279.389 444.612,281.91" fill="#ff40e0"/>
<polygon points="499.81,296.675 496.016,297.151 493.936,294.211 493.252,287.804 493.621,284.791 496.893,284.657 500.268,290.566 501.163,293.466" fill="#ff3030"/>
<polygon points="599.291,300.914 602.573,304.855 603.085,309.703 600.288,311.878 596.289,311.065 591.241,306.71 590.735,301.432 594.917,298.65" fill="#60ff40"/>
<polygon points="582.424,294.055 585.693,295.463 585.933,301.762 583.439,303.923 578.61,304.102 575.625,299.635 573.671,296.533 578.627,291.92" fill="#ff60c0"/>
<polygon points="528.219,305.757 524.838,301.09 523.615,295.577 527.611,293.756 533.015,295.402 536.273,300.998 534.391,304.223 531.868,307.904" fill="#c0a0f0"/>
<polygon points="556.24,315.658 556.724,319.205 553.27,320.865 549.862,318.748 548.269,314.071 548.737,309.698 550.499,309.193 554.597,311.85" fill="#c0a0f0"/>
<polygon points="519.671,289.612 519.46,293.502 517.445,295.761 512.317,293.631 511.229,290.085 511.212,286.131 514.42,283.823 517.77,286.029" fill="#e048ff"/>
<polygon points="536.458,291.631 535.58,295.376 532.7,294.241 528.965,291.401 528.493,286.565 529.736,283.933 533.502,284.124 535.884,286.874" fill="#60ff40"/>
<polygon points="427.295,281.954 424.12,284.9 420.224,284.44 416.863,281.132 415.716,273.892 415.924,270.128 422.845,270.925 425.159,274.292" fill="#70e0e0"/>
<polygon points="456.919,298.466 461.57,299.777 465.314,305.159 465.261,312.911 462.425,315.154 457.247,311.307 454.44,305.99 454.837,302.807" fill="#2030ff"/>
<polygon points="421.115,286.528 427.082,286.627 429.233,289.056 432.283,293.465 428.852,296.806 425.657,295.707 421.388,294.334 420.28,290.019" fill="#60ff40"/>
<polygon points="519.643,291.376 521.561,296.444 523.252,303.093 518.49,304.29 516.254,305.473 510.262,299.573 511.018,292.107 513.732,289.565" fill="#ff2080"/>
<polygon points="526.556,317.767 523.186,319.098 520.138,317.082 517.735,312.856 518.557,308.997 522.997,307.405 526.475,309.812 528.199,315.908" fill="#ff3030"/>
<polygon points="352.976,272.96 350.164,276.676 346.161,274.522 341.612,267.708 342.584,264.127 346.147,260.133 351.692,264.574 354.025,269.292" fill="#2030ff"/>
<polygon points="341.963,289.471 342.102,293.985 338.418,297.612 335.591,295.731 332.333,290.399 333.108,285.998 334.885,284.333 339.374,286.337" fill="#c0a0f0"/>
<polygon points="531.409,295.163 530.052,299.332 525.987,300.271 523.877,297.663 521.044,294.343 522.811,288.957 526.378,288.382 529.536,291.467" fill="#60ff40"/>
<polygon points="486.317,308.223 484.999,304.84 488.216,300.25 492.03,301.035 493.541,303.771 495.517,306.978 493.578,312.25 489.689,311.485" fill="#8050ff"/>
<polygon points="529.512,308.893 527.239,312.824 523.892,312.188 520.82,308.966 520.62,306.698 522.288,303.735 526.177,303.418 527.873,304.857" fill="#e048ff"/>
<polygon points="492.485,279.375 496.296,284.384 497.524,289.375 497.28,292.984 493.051,293.54 487.034,290.624 484.456,283.755 488.135,279.403" fill="#ff2080"/>
<polygon points="605.403,307.387 601.555,309.503 596.343,302.971 595.184,298.715 597.75,295.135 602.956,294.511 607.451,300.426 607.093,303.838" fill="#60ff40"/>
<polygon points="366.85,263.306 369.527,264.714 372.409,270.644 373.019,274.239 369.547,275.8 366.764,274.214 363.941,268.176 365.718,264.786" fill="#e048ff"/>
<polygon points="460.079,311.759 454.1,310.485 452.888,308.275 451.408,304.033 455.007,301.784 457.095,302.292 461.028,303.464 461.219,309.199" fill="#70e0e0"/>
<polygon points="623.64,215.664 618.239,210.908 617.554,204.295 619.742,202.446 626.526,202.817 628.669,207.778 630.34,213.114 626.372,216.323" fill="#ff3080"/>
<polygon points="692.718,189.57 695.975,187.789 700.501,191.798 701.085,195.547 701.497,199.602 697.956,201.465 693.365,198.582 691.223,192.908" fill="#70e8c0"/>
<polygon points="689.956,202.055 685.316,205.808 681.496,204.976 678.461,203.629 675.643,197.131 678.3,191.429 683.418,191.268 687.511,197.238" fill="#ff4030"/>
<polygon points="640.515,190.141 634.627,190.437 632.44,188.776 630.95,182.999 633.068,179.634 638.368,180.397 641.502,183.617 642.114,187.981" fill="#ff3080"/>
<polygon points="682.033,187.113 679.424,186.25 676.966,181.012 676.226,176.215 679.84,174.901 684.604,177.49 685.617,181.869 685.62,185.946" fill="#2030ff"/>
<polygon points="618.617,181.573 623.101,187.631 624.037,193.142 620.638,196.348 617.279,194.61 614.088,189.806 613.42,185.156 615.342,182.457" fill="#ff3080"/>
<polygon points="632.479,192.447 632.271,186.11 638.751,186.776 642.343,187.408 643.41,192.89 643.977,199.125 639.318,200.548 634.655,197.946" fill="#70e8c0"/>
<polygon points="720.866,196.21 722.847,196.406 728.395,199.659 728.923,203.051 728.713,208.5 726.012,208.22 723.036,206.794 720.011,201.219" fill="#70e8c0"/>
<polygon points="673.023,209.848 671.545,205.731 672.15,202.649 675.688,202.693 678.843,204.232 680.167,209.2 678.448,212.25 675.311,211.741" fill="#70e8c0"/>
<polygon points="658.24,188.543 659.635,187.271 662.517,188.415 664.729,191.309 664.582,195.223 663.462,198.391 658.35,196.349 656.43,191.577" fill="#ff3080"/>
<polygon points="690.05,183.951 688.864,180.069 688.703,175.443 693.403,174.479 697.05,178.191 697.995,179.962 696.755,184.37 693.166,185.388" fill="#2030ff"/>
<polygon points="734.708,184.603 738.179,190.983 735.611,193.43 732.582,193.599 728.912,191.721 724.806,186.363 728.113,181.923 731.85,181.949" fill="#ffffff"/>
<polygon points="695.651,193.074 690.577,190.512 689.22,187.948 688.908,182.527 692.182,181.066 696.359,182.214 699.876,187.26 699.427,190.121" fill="#60d0e0"/>
<polygon points="681.351,203.412 682.836,204.519 684.723,209.449 681.97,213.01 679.843,211.953 677.584,209.702 675.371,203.455 677.418,202.467" fill="#2030ff"/>
<polygon points="666.734,186.984 662.345,184.272 660.45,180.459 662.457,176.653 666.552,174.658 668.43,176.824 671.214,182.423 669.934,184.251" fill="#ff3080"/>
<polygon points="623.37,198.939 620.402,201.016 615.494,199.078 613.518,192.712 614.728,189.523 617.257,187.195 623.153,191.893 623.597,195.879" fill="#ff3080"/>
<polygon points="650.938,193.426 650.173,200.144 647.407,200.055 640.841,199.458 638.362,195.955 639.577,191.147 641.578,189.399 646.449,188.373" fill="#2030ff"/>
<polygon points="647.76,195.573 650.666,201.686 648.853,205.75 644.383,205.56 641.283,201.253 639.969,196.093 639.979,192.798 643.881,192.045" fill="#ff3080"/>
<polygon points="716.401,206.179 713.006,207.379 709.162,206.784 705.546,202.507 706.916,198.342 710.475,196.908 714.472,197.625 717.27,202.658" fill="#ff4030"/>
<polygon points="705.065,192.728 705.884,197.875 704.421,200.688 701.633,199.984 697.91,196.007 697.283,193.241 699.406,189.817 703.164,190.995" fill="#ff4030"/>
<polygon points="668.755,208.171 665.064,206.396 663.269,201.678 663.766,197.473 666.736,195.61 669.465,196.697 672.528,203.07 671.331,206.894" fill="#ff8030"/>
<polygon points="640.505,203.252 643.18,207.009 644.62,210.404 641.46,214.863 639.36,214.332 635.837,209.704 634.446,205.884 636.42,203.142" fill="#2030ff"/>
<polygon points="666.221,215.536 662.149,213.6 660.325,209.095 660.14,203.228 664,199.571 668.202,203.763 672.115,209.233 669.815,214.036" fill="#40ff20"/>
<polygon points="649.952,196.012 652.007,193.335 655.683,196.395 657.872,200.824 656.946,205.518 653.649,206.543 650.511,204.371 648.172,197.411" fill="#60d0e0"/>
<polygon points="656.17,179.498 655.889,176.967 659.563,174.744 662.722,176.374 665.88,180.943 665.524,184.617 662.977,187.275 659.615,185.435" fill="#ff3080"/>
<polygon points="656.871,196.775 659.455,194.028 663.625,194.652 667.07,199.263 668.768,204.098 664.559,206.828 659.348,204.691 656.247,202.377" fill="#ff4030"/>
<polygon points="677.085,196.68 675.668,200.575 673.211,199.902 669.832,196.417 668.53,191.098 669.677,187.136 673.025,189.069 676.375,191.792" fill="#ff3080"/>
<polygon points="677.147,190.794 679.276,186.851 684.432,188.184 686.692,191.401 687.779,197.014 685.827,202.154 682.734,200.836 678.452,197.821" fill="#60d0e0"/>
<polygon points="710.061,191.278 707.587,187.367 709.803,183.093 714.868,183.559 719.196,186.015 719.743,188.632 718.708,193.199 716.021,194.236" fill="#ff8030"/>
<polygon points="664.197,208.893 665.293,213.404 661.198,217.099 656.686,215.494 652.535,208.019 653.734,203.518 657.035,202.258 660.233,203.351" fill="#ff3080"/>
<polygon points="678.729,181.018 676.239,186.631 673.289,187.133 667.522,184.653 664.487,180.35 668.04,175.33 670.256,173.331 675.776,175.557" fill="#ffffff"/>
<polygon points="633.131,176.682 636.366,174.022 640.823,176.368 643.624,181.615 642.312,186.697 637.426,186.727 634.877,186.811 632.992,180.196" fill="#2030ff"/>
<polygon points="698.61,208.193 694.328,208.354 692.211,205.455 691,198.922 693.33,194.932 696.29,195.184 699.833,201.547 701.397,205.839" fill="#ff3080"/>
<polygon points="639.279,202.483 641.02,199.05 643.194,198.567 647.591,202.21 649.048,209.682 647.309,212.545 644.247,212.599 638.943,206.09" fill="#ff3080"/>
<polygon points="670.049,198.346 667.735,198.554 661.186,195.217 660.973,192.632 661.448,186.251 664.606,185.787 668.107,186.81 670.803,192.597" fill="#ffffff"/>
<polygon points="670.023,190.287 667.951,188.044 667.569,183.182 670.737,181.261 674.099,182.483 676.926,184.638 676.845,191.421 675.288,192.168" fill="#ff3080"/>
<polygon points="725.732,193.096 727.512,199.808 724.637,203.724 719.035,200.625 715.85,195.652 716.204,192.549 717.608,187.821 722.739,189.789" fill="#ff4030"/>
<polygon points="731.884,190.668 734.836,194.042 736.045,198.466 735.511,202.115 731.682,201.964 726.402,198.918 725.459,195.461 727.687,190.655" fill="#ff3080"/>
<polygon points="622.211,196.213 624.029,194.564 629.108,197.953 630.93,200.404 630.904,205.035 625.725,205.576 622.978,203.703 620.432,200.699" fill="#ff4030"/>
<polygon points="684.014,179.212 686.497,172.665 690.804,173.666 693.633,177.542 693.931,182.462 692.966,186.445 688.019,186.624 685.393,183.082" fill="#ff4030"/>
<polygon points="650.53,181.353 653.447,180.681 656.698,187.656 656.423,193.873 652.964,195.313 649.272,193.419 643.91,187.634 645.686,180.711" fill="#60d0e0"/>
<polygon points="712.869,187.709 714.944,184.54 722.124,189.164 723.677,193.184 721.504,196.822 717.555,197.629 713.386,195.82 711.123,189.906" fill="#ffffff"/>
<polygon points="624.828,208.497 625.756,204.03 630.65,202.061 633.415,203.622 636.178,209.771 635.074,215.357 632.493,216.169 629.263,214.627" fill="#ff3080"/>
<polygon points="630.55,201.498 628.033,198.622 626.312,196.324 627.129,192.439 629.728,189.693 632.397,192.352 634.473,197.305 633.686,199.946" fill="#ff4030"/>
<polygon points="737.614,203.43 733.367,199.797 729.56,195.594 731.437,188.903 734.742,188.107 738.122,191.054 741.438,195.963 740.509,201.03" fill="#ff8030"/>
<polygon points="727.642,186.876 726.898,190.946 723.375,191.747 720.692,192.261 717.001,186.161 717.895,183.097 721.841,180.533 723.841,180.629" fill="#70e8c0"/>
<polygon points="707.911,197.754 703.971,190.765 705.249,187.213 706.919,185.345 711.172,187.48 714.196,193.553 713.988,195.429 711.044,199.513" fill="#70e8c0"/>
<polygon points="647.526,186.522 644.638,183.534 642.723,180.851 645.122,177.443 649.28,177.346 651.7,180.187 654.132,185.183 650.597,187.791" fill="#ff3080"/>
<polygon points="616.381,192.344 622.252,195.723 624.691,200.648 624.299,205.154 621.581,207.307 616.161,205.082 613.995,200.491 614.617,196.121" fill="#2030ff"/>
<polygon points="675.859,183.285 679.625,182.177 682.932,185.523 684.272,189.049 684.191,194.802 681.921,195.614 677.228,192.554 675.104,187.563" fill="#ff3080"/>
<polygon points="709.336,196.803 711.232,194.448 716.392,195.679 718.352,197.54 718.876,200.788 717.611,204.439 714.383,204.725 710.843,201.117" fill="#40ff20"/>
<polygon points="663.748,180.01 667.606,180.38 671.198,187.774 671.714,193.202 668.3,195.087 664.864,193.476 661.189,185.971 661.333,182.262" fill="#ff3080"/>
<polygon points="634.83,196.31 638.125,199.261 638.015,202.528 636.095,206.114 632.583,204.572 629.455,200.88 628.758,197.385 630.838,195.788" fill="#ffffff"/>
<polygon points="633.221,199.99 636.017,195.771 638.716,195.746 642.648,199.372 642.646,204.466 641.621,207.802 638.553,206.792 635.534,205.558" fill="#ff3080"/>
<polygon points="657.15,181.805 662.101,179.303 667.741,183.827 668.238,187.589 666.269,193.736 662.135,192.236 657.271,189.298 656.308,185.057" fill="#ff4030"/>
<polygon points="631.643,191.954 630.021,191.654 626.387,185.19 626.949,182.436 629.931,181.56 634.663,183.145 636.132,185.783 635.606,189.375" fill="#40ff20"/>
<polygon points="656.867,212.526 651.645,215.328 647.473,211.937 646.147,208.53 647.547,204.884 652.113,203.274 655.791,204.931 657.982,210.953" fill="#ff8030"/>
<polygon points="707.535,181.378 712.388,183.97 714.41,189.77 713.974,193.309 712.03,195.577 706.799,192.937 705.188,189.218 705.321,183.147" fill="#ff3080"/>
<polygon points="729.786,193.254 734.192,199.986 733.561,204.879 728.763,206.898 725.887,206.112 721.993,198.096 721.18,193.92 726.237,192.285" fill="#ff3080"/>
<polygon points="650.46,190.39 654.026,189.918 656.976,191.37 659.625,198.126 658.093,200.86 654.097,201.573 650.325,198.466 649.088,194.92" fill="#ff8030"/>
<polygon points="687.788,177.673 691.889,184.045 693.414,189.308 692.682,192.003 689.951,192.722 687.638,190.935 685.223,185.259 684.5,179.971" fill="#ff4030"/>
<polygon points="694.962,197.143 696.658,195.374 699.374,193.238 705.59,195.489 706.683,199.862 705.161,203.008 701.203,204.939 697.278,203.042" fill="#ffffff"/>
<polygon points="698.971,189.196 698.049,185.743 702.225,183.514 707.263,185.208 708.711,188.59 707.529,192.52 704.032,192.9 700.515,191.852" fill="#60d0e0"/>
<polygon points="681.516,191.328 683.227,188.648 687.891,188.668 691.308,193.23 691.495,199.063 690.141,200.165 685.596,200.214 681.829,194.462" fill="#ff8030"/>
<polygon points="626.525,197.838 622.326,195.518 619.881,194.291 620.004,188.465 623.612,187.496 628.617,189.033 630.058,192.846 630.542,195.364" fill="#ff4030"/>
<polygon points="623.576,194.111 621.12,192.004 619.416,184.363 619.327,181.565 623.519,180.158 626.56,184.284 627.772,189.119 627.369,193.05" fill="#ff4030"/>
<polygon points="640.451,186.072 641.087,180.368 643.299,179.588 647.64,181.153 649.847,187.866 649.958,190.41 648.228,193.522 645.171,193.4" fill="#2030ff"/>
<polygon points="684.405,203.407 681.682,198.871 682.466,195.404 684.304,194.336 688.137,196.984 689.522,200.28 688.925,204.016 686.245,204.543" fill="#60d0e0"/>
<polygon points="669.68,196.207 673.66,195.452 676.089,198.314 677.768,204.263 676.851,207.111 673.461,207.966 671.428,205.777 669.334,200.379" fill="#60d0e0"/>
<polygon points="1044.4,203.897 1047.6,211.628 1044.92,213.716 1042.09,215.31 1037.13,209.532 1036.17,206.065 1037.78,201 1040.9,199.672" fill="#ff3020"/>
<polygon points="1106.96,220.521 1102.86,218.362 1101.1,216.186 1101.51,211.4 1104,209.66 1106.72,210.327 1109.17,214.938 1109.14,217.807" fill="#60ff30"/>
<polygon points="1087.16,222.873 1091.29,227.865 1091.44,230.473 1090.11,234.486 1087.2,235.282 1082.32,231.636 1081.18,227.523 1082.81,222.984" fill="#9050ff"/>
<polygon points="1078.91,216.773 1082.69,220.025 1083.69,223.3 1082.91,226.669 1078.55,228.568 1076.9,226.93 1073.2,222.098 1074.92,216.894" fill="#d0ff40"/>
<polygon points="1111.92,254.538 1109.96,257.157 1107.15,259.465 1102.52,256.756 1099.09,248.802 1100.62,242.749 1105.31,242.738 1108.07,245.752" fill="#9050ff"/>
<polygon points="1136.17,238.102 1133.25,234.803 1130.18,228.637 1131.14,224.581 1134.44,222.384 1138.83,225.526 1141.54,233.108 1140.27,235.777" fill="#9050ff"/>
<polygon points="1126.78,220.264 1130.42,222.827 1135.11,227.577 1135.5,234.345 1132.06,236.21 1126.84,234.327 1124.42,230.777 1123.36,223.59" fill="#ff8030"/>
<polygon points="1051.56,218.066 1046.52,216.343 1043.47,212.426 1045.41,208.909 1046.39,207.304 1052.13,208.302 1054.65,212.438 1054.4,215.825" fill="#c050ff"/>
<polygon points="1050.86,216.666 1054.04,221.047 1054.4,224.582 1052.39,227.202 1048.25,225.273 1046.16,224.086 1045.72,217.734 1048.68,217.193" fill="#ff6080"/>
<polygon points="1038.25,232.937 1041.73,230.348 1043.59,232.041 1047.18,237.466 1047,240.99 1044.32,241.099 1040.29,240.971 1037.67,237.081" fill="#5050ff"/>
<polygon points="1064.73,258.635 1062.57,254.761 1062.68,250.262 1066.73,250.062 1072.02,252.809 1071.73,256.077 1071.66,260.494 1067.25,259.529" fill="#60e0a0"/>
<polygon points="1089.34,256.281 1087.08,251.969 1085.55,248.654 1089.17,243.202 1091.36,243.858 1095.27,247.678 1097.21,254.413 1095.44,256.344" fill="#5050ff"/>
<polygon points="1087.72,207.965 1089.8,211.151 1091.65,216.195 1090.28,219.699 1087.72,220.318 1084.6,217.898 1082.41,212.796 1084.31,208.084" fill="#60b0ff"/>
<polygon points="1046.39,247.831 1044.38,244.795 1044.41,239.695 1045.93,238.176 1051.57,239.13 1053.79,242.111 1053.63,246.02 1051.5,249.237" fill="#60b0ff"/>
<polygon points="1103.1,251.597 1096.21,248.119 1094.91,245.294 1094.65,239.378 1096.1,236.648 1102.64,239.999 1104.76,244.698 1104.82,247.209" fill="#5050ff"/>
<polygon points="1053.97,235.861 1058.81,238.358 1063.04,243.292 1063.1,247.486 1059.55,250.33 1056.45,251.302 1053.02,246.559 1052.78,239.368" fill="#ff8030"/>
<polygon points="1071.33,223.771 1075.16,227.478 1073.42,232.858 1072.83,235.458 1066.2,231.323 1065.09,228.116 1065.32,224.147 1068.68,222.602" fill="#ff6080"/>
<polygon points="1117.19,214.107 1120.83,213.138 1127.06,219.496 1127.25,224.161 1123.82,226.088 1119.35,226.586 1114.45,220.818 1113.72,215.013" fill="#ffffff"/>
<polygon points="1068.41,239.883 1066.81,234.999 1066.15,230.537 1069.14,228.64 1072.98,228.749 1076.66,234.685 1076.05,239.75 1073.83,241.532" fill="#ff40f0"/>
<polygon points="1076.54,260.765 1072.9,254.912 1073.73,249.685 1077.44,249.062 1083.62,253.648 1084.1,255.891 1082.04,261.798 1080.2,263.611" fill="#60b0ff"/>
<polygon points="1091.25,248.479 1093.55,248.942 1098.57,253.193 1097.65,256.693 1095.73,259.425 1090.1,257.88 1088.08,255.103 1086.62,251.402" fill="#ff8030"/>
<polygon points="1118.15,221.68 1112.14,220.43 1110.05,218.591 1109.44,211.926 1111.54,209.635 1116.98,210.938 1120.05,212.868 1119.73,218.44" fill="#ff8030"/>
<polygon points="1110.94,214.318 1108.19,211.589 1106.88,207.015 1108.74,202.381 1112.52,203.807 1114.99,207.119 1115.73,211.607 1115.62,213.95" fill="#ff40f0"/>
<polygon points="1062.99,213.319 1060.03,209.625 1059.1,205.173 1060.48,200.998 1065.27,203.594 1067.98,207.985 1068.57,212.069 1066.24,214.066" fill="#ffffff"/>
<polygon points="1035.7,201.577 1040.88,204.074 1043.86,207.388 1043.96,212.43 1039.95,214.883 1036.85,213.974 1033.71,209.339 1033.28,204.761" fill="#ff3020"/>
<polygon points="1093.02,229.717 1095.07,231.949 1097.14,237.168 1096.25,238.759 1092.61,240.091 1089.11,237.428 1087.76,232.5 1089.16,228.463" fill="#9050ff"/>
<polygon points="1036.62,214.552 1040.12,219 1041.23,225.766 1039.36,226.919 1034.02,225.532 1028.91,219.807 1028.45,216.174 1030.7,212.997" fill="#ff8030"/>
<polygon points="1054.1,219.311 1055.43,213.53 1057.97,213.007 1061.11,214.78 1065,221.296 1063.23,223.668 1060.63,226.345 1056.95,223.242" fill="#ffffff"/>
<polygon points="1066.79,215.478 1068.22,221.165 1068.32,224.606 1064.31,225.251 1061.4,221.749 1059.79,217.636 1060.7,213.958 1064.62,213.801" fill="#ff40f0"/>
<polygon points="1110.16,232.832 1104.99,232.605 1101.63,230.884 1100.07,226.82 1100.23,221.548 1105.64,221.359 1108.54,221.452 1111.24,227.658" fill="#60e0a0"/>
<polygon points="1032.95,244.158 1035.26,239.722 1039.56,241.277 1045.05,247.214 1044.75,253.468 1040.45,254.971 1036.8,254.228 1034.54,249.301" fill="#d0ff40"/>
<polygon points="1136.88,214.301 1137.09,221.934 1134.02,221.978 1130.7,217.576 1129.33,212.207 1128.53,208.869 1132.27,206.615 1134.79,208.432" fill="#60ff30"/>
<polygon points="1040.78,257.325 1041.24,251.704 1044.67,252.281 1046.51,254.01 1048.43,258.017 1048.25,263.461 1045.32,264.896 1043.36,262.852" fill="#9050ff"/>
<polygon points="1082.25,242.362 1084.34,241.265 1091.43,245.26 1092.13,250.521 1092.56,255.519 1088.71,256.213 1082.37,252.757 1081.02,248.39" fill="#ff8030"/>
<polygon points="1118.03,239.621 1120.13,245.13 1119.55,250.695 1117.11,251.061 1113.88,247.75 1111.36,242.231 1111.5,238.157 1115.9,237.49" fill="#ff8030"/>
<polygon points="1093.59,224.594 1098.05,227.57 1099.03,231.915 1096.45,233.865 1093.62,234.394 1088.46,231.511 1087.14,227.899 1089.84,226.033" fill="#5050ff"/>
<polygon points="1102.8,250.749 1105.54,250.794 1108.98,254.31 1109.81,262.193 1108.39,263.943 1103.41,263.287 1100.33,258.58 1099.17,254.778" fill="#ff8030"/>
<polygon points="1078.29,207.23 1082.77,210.549 1084.02,214.448 1084.34,218.222 1081.32,221.71 1078.27,219.619 1074.35,213.509 1075.69,209.468" fill="#9050ff"/>
<polygon points="1038.86,221.177 1043.97,221.985 1047,223.664 1048.05,227.743 1045.97,231.57 1041.83,232.83 1035.89,228.033 1034.8,224.839" fill="#c050ff"/>
<polygon points="1108.75,229.488 1108.84,226.184 1111.24,221.829 1115.87,222.445 1117.62,223.909 1120.19,230.509 1117.37,233.862 1113.56,232.344" fill="#c050ff"/>
<polygon points="1125.51,206.975 1128.56,214.372 1127.12,218.04 1123.27,219.81 1119.75,217.017 1116.7,211.537 1118.29,205.294 1123.06,205.3" fill="#ff8030"/>
<polygon points="1093.76,218.646 1094.46,221.092 1093.84,225.564 1091.49,226.394 1088.98,224.584 1085.89,218.768 1086.9,216.153 1090.78,215.793" fill="#ff3020"/>
<polygon points="1102.89,221.926 1101.96,225.189 1098.88,224.91 1094.99,221.977 1093.88,218.746 1093.23,213.659 1097.03,211.679 1102.32,215.721" fill="#60ff30"/>
<polygon points="1075.83,232.575 1079.13,229.154 1084.13,231.221 1086.02,232.717 1085.9,238.221 1082.93,240.258 1079.13,240.426 1074.46,235.879" fill="#ff3020"/>
<polygon points="1070.68,250.343 1069.21,256.555 1065.2,256.593 1061.18,255.781 1056.57,247.318 1058.54,244.018 1061.84,241.029 1066.19,244.363" fill="#ffffff"/>
<polygon points="1080.43,254.785 1077.91,255.165 1074.03,253.699 1072.26,249.221 1073.3,245.415 1077.25,245.551 1081.1,246.553 1083.38,252.144" fill="#ff8030"/>
<polygon points="1044.1,269.453 1039.85,266.656 1036.85,259.951 1037.76,255.47 1041.64,255.794 1045.87,258.877 1048.27,265.869 1046.56,267.904" fill="#5050ff"/>
<polygon points="1042.95,210.445 1046.75,211.192 1050.84,215.585 1051.05,220.885 1047.38,222.399 1042.49,219.431 1041.4,217.54 1040.5,212.938" fill="#ff6080"/>
<polygon points="1132.36,241.403 1137.12,243.121 1140.56,249.015 1140.04,252.621 1137.97,255.599 1131.87,252.863 1129.19,248.705 1129.87,245.866" fill="#ffffff"/>
<polygon points="1060.84,208.184 1063.2,212.715 1063.04,218.118 1056.96,218.323 1053.84,215.3 1052.83,212.173 1053.72,208.01 1057.6,206.247" fill="#ff8030"/>
<polygon points="1124.25,230.84 1122.56,233.924 1118.14,230.313 1115.39,222.785 1115.77,219.424 1119.97,217.963 1123.58,220.735 1124.75,227.266" fill="#ff8030"/>
<polygon points="1131.41,231.09 1136.58,228.889 1139.11,229.427 1142.96,234.003 1142.07,238.078 1139.3,239.777 1135.59,239.749 1131.6,234.355" fill="#60ff30"/>
<polygon points="1100.43,214.169 1097.01,212.652 1094.79,207.257 1095.64,203.529 1097.87,203.708 1101.19,204.501 1102.55,208.736 1102.57,211.935" fill="#ff6080"/>
<polygon points="1094.57,212.913 1095.22,208.903 1099.2,206.986 1103.04,208.445 1105.66,212.949 1106.86,216.536 1101.78,220.812 1096.34,218.415" fill="#d0ff40"/>
<polygon points="1134.12,236.76 1137.97,235.388 1142.93,237.917 1145.11,239.907 1143.06,244.801 1141.74,246.538 1136.74,245.097 1134.71,240.565" fill="#5050ff"/>
<polygon points="1041.19,235.242 1047.9,238.96 1051.09,245.567 1049.52,250.585 1047.41,252.684 1041.91,249.88 1039.22,244.467 1038.99,238.315" fill="#ff8030"/>
<polygon points="1045.54,204.629 1048.53,202.069 1052.13,201.546 1055.45,205.654 1057.44,210.541 1054.2,214.791 1051.28,214.31 1047.4,209.782" fill="#5050ff"/>
<polygon points="1062.96,262.523 1060.18,264.052 1055.59,261.16 1053.63,255.306 1054.04,251.788 1056.86,250.619 1060.22,250.101 1063.37,258.397" fill="#c050ff"/>
<polygon points="1117.02,225.031 1114.29,228.061 1109.52,223.669 1105.9,217.945 1106.67,212.409 1111.81,212.267 1115.88,213.971 1119.2,221.44" fill="#ff6080"/>
<polygon points="1091.37,209.683 1093.26,205.682 1097.8,210.481 1099.35,212.885 1099.77,219.299 1096.83,222.482 1093.79,220.242 1091.4,212.835" fill="#ff6080"/>
<polygon points="1126.68,243.596 1130.32,243.858 1133.85,245.582 1134.1,250.634 1132.64,254.163 1129.83,254.855 1127.54,251.288 1125.56,246.526" fill="#ffffff"/>
<polygon points="1050.72,207.217 1052.76,203.224 1055.86,204.306 1060.57,208.263 1060.19,212.766 1057.31,214.837 1055.19,214.832 1050.48,209.259" fill="#ff40f0"/>
<polygon points="1068.93,216.111 1069.85,218.775 1065.28,220.915 1062.68,218.935 1060.31,216.462 1060.45,211.671 1064.21,209.995 1066.81,210.139" fill="#5050ff"/>
<polygon points="1126.05,258.732 1122.22,253.75 1121.86,250.843 1127.56,249.214 1132.47,250.285 1134.34,253.54 1135.3,257.522 1130.12,259.339" fill="#9050ff"/>
<polygon points="1033.98,264.335 1033.53,258.079 1036.43,256.978 1041.64,258.622 1043.83,260.489 1043.81,266.943 1042.76,269.753 1036.78,267.421" fill="#ff3020"/>
<polygon points="1060.37,227.684 1060.33,233.334 1057.51,234.08 1053.02,231.2 1051.15,228.35 1051.28,222.83 1055.74,220.555 1059.38,223.876" fill="#60b0ff"/>
<polygon points="1033.94,218.778 1031.94,213.999 1033.2,208.095 1037.38,207.567 1041.54,209.251 1043.45,215.479 1043.49,218.878 1039.82,222.904" fill="#ff6080"/>
<polygon points="1122.73,234.356 1123.38,228.956 1126.84,227.025 1129.92,229.505 1133.97,235.707 1131.48,238.683 1129.01,240.798 1122.94,236.815" fill="#ff8030"/>
<polygon points="1083.71,238.513 1087.85,239.229 1091.12,243.018 1091.97,246.877 1086.77,249.613 1082.86,247.736 1080.36,244.234 1079.4,240.951" fill="#5050ff"/>
<polygon points="1127.09,249.473 1127.41,252.907 1125.58,258.678 1122.11,257.638 1117.21,250.955 1116.19,246.596 1119.38,244.568 1122.81,244.821" fill="#ffffff"/>
<polygon points="1076.55,217.002 1076.75,222.846 1075.07,227.262 1070.36,226.854 1066.81,221.191 1065.94,213.839 1067.31,211.04 1072.99,212.492" fill="#ff40f0"/>
<polygon points="1119.15,238.692 1116.09,240.678 1112.39,237.069 1111.09,231.658 1111.08,227.893 1115.53,226.962 1118.5,230.879 1120.69,235.587" fill="#5050ff"/>
<polygon points="1050.43,238.537 1047.71,233.976 1048.51,228.588 1051.06,227.182 1053.79,230.504 1056.53,235.415 1057.19,239.231 1054.06,240.195" fill="#60ff30"/>
<polygon points="1096.48,243.21 1095.34,246.043 1091.88,246.66 1088.93,242.41 1087.7,238.179 1088.7,233.438 1092.88,233.747 1095.52,237.839" fill="#c050ff"/>
<polygon points="1122.05,239.155 1124.23,236.271 1125.8,235.035 1130.08,237.597 1132.15,244.113 1129.33,248.721 1125.52,247.037 1122.74,244.453" fill="#60b0ff"/>
<polygon points="1131.1,223.201 1131.29,219.067 1133.4,214.903 1136.96,216.698 1140.71,222.169 1141.14,224.851 1139.05,228.379 1134.55,228.577" fill="#ff8030"/>
<polygon points="1039.1,250.622 1041.15,253.317 1041.23,259.316 1037.03,261.04 1033.86,261.626 1030.48,258.298 1030.99,252.443 1032.36,250.18" fill="#c050ff"/>
<polygon points="1042.14,240.678 1039.17,243.566 1033.98,241.094 1030.56,237.961 1032.17,231.916 1036.17,230.627 1039.56,230.4 1042.75,237.467" fill="#60e0a0"/>
<polygon points="1041.4,245.999 1046.11,247.575 1047.91,250.734 1046.71,255.345 1042.92,256.539 1041.45,254.74 1037.88,249.987 1037.82,247.211" fill="#ff8030"/>
<polygon points="1107.3,239.538 1103.76,232.475 1104.03,229.36 1106.02,226.523 1109.29,226.367 1112.47,232.393 1112.66,236.422 1110.42,239.649" fill="#d0ff40"/>
<polygon points="1052.27,244.051 1054.25,248.421 1052.23,253.861 1049.25,254.035 1044.92,248.787 1043.97,245.521 1044.13,240.613 1048.22,240.633" fill="#ff8030"/>
<polygon points="1104.16,235.392 1108.31,235.458 1111.76,240.094 1111.72,244.029 1109.27,247.238 1106.06,246.594 1103.09,242.922 1102.13,236.75" fill="#ff6080"/>
<polygon points="1078.19,210.598 1078.6,215.722 1076.9,219.22 1072.29,217.914 1069.49,216.303 1067.76,209.793 1069.23,205.825 1073.6,205.009" fill="#9050ff"/>
<polygon points="1097.11,258.668 1095.69,257.391 1094.17,251.656 1095.62,249.449 1099.62,249.652 1102.39,252.071 1104.58,256.324 1102.43,260.029" fill="#ffffff"/>
<polygon points="1054.7,231.023 1050.56,228.197 1048.84,225.306 1048.31,222.265 1052.88,220.905 1055.97,222.937 1058.14,226.413 1056.76,229.647" fill="#ffffff"/>
<polygon points="1056.98,243.874 1060.3,244.246 1063.41,248.072 1065.5,254.625 1062.87,257.45 1060.89,257.529 1055.71,253.029 1054.18,248.348" fill="#d0ff40"/>
<polygon points="1118.28,241.067 1115.82,238.424 1114.04,229.571 1116.57,226.244 1121.29,227.074 1124.69,233.695 1124.89,239.008 1123.3,241.623" fill="#d0ff40"/>
<polygon points="1094.19,238.988 1093.05,233.97 1096.39,231.927 1099.81,231.161 1103.43,233.877 1105.55,239.132 1101.07,240.778 1098.33,241.01" fill="#9050ff"/>
<polygon points="1123.29,208.427 1123.34,206.15 1125.63,202.746 1130.38,203.309 1132.36,204.715 1133.27,211.007 1130.09,212.77 1126.04,211.957" fill="#5050ff"/>
<polygon points="1123.12,255.769 1124.39,260.406 1123.08,264.514 1120.07,263.283 1117.35,261.534 1114.67,255.85 1116.46,252.66 1118.53,251.708" fill="#ff6080"/>
<polygon points="1033.48,237.252 1036.14,235.13 1039.53,236.861 1041.5,240.421 1041.69,244.684 1040.09,245.984 1036.82,244.651 1033.46,241.224" fill="#ff6080"/>
<polygon points="1036.96,228.906 1036.9,233.336 1031.56,232.765 1029.66,231.026 1027.59,226.556 1027.09,223.148 1031.84,221.404 1034.66,224.253" fill="#ff6080"/>
<polygon points="1074.6,212.093 1071.93,211.395 1068.15,207.169 1066.67,199.209 1068.18,198.367 1071.62,197.7 1075.67,202.837 1075.7,208.975" fill="#ffffff"/>
<polygon points="1095.35,224.074 1098.2,222.626 1103.49,224.933 1104.84,228.106 1104.09,232.311 1099.54,235.151 1095.57,231.512 1094.19,227.812" fill="#60ff30"/>
<polygon points="1092.96,208.748 1089.5,212.273 1084.61,212.371 1080.68,207.1 1081.14,204.196 1085.48,200.902 1088.97,201.408 1092.26,204.837" fill="#ff8030"/>
<polygon points="1062.29,228.206 1062.89,223.512 1065.81,222.497 1068.43,223.731 1070.43,228.558 1070.78,231.438 1068.29,233.494 1065.25,231.253" fill="#ff3020"/>
<polygon points="1032.49,229.578 1032.82,225.719 1034.31,221.753 1039.3,223.36 1042.69,227.473 1043.17,232.729 1039.2,236.466 1034.56,232.102" fill="#ff40f0"/>
<polygon points="1105.75,250.028 1103.94,253.343 1099.45,253.239 1094.51,249.282 1094.01,246.284 1097.92,242.92 1101.87,243.414 1104.37,244.716" fill="#ff3020"/>
<polygon points="1058.5,255.344 1058.31,259.196 1055.37,263.159 1051.43,263.145 1047.37,257.96 1045.81,253.283 1048.67,252.45 1055.47,251.479" fill="#c050ff"/>
<polygon points="1064.36,230.272 1067.78,231.185 1070.87,234.028 1071.68,240.788 1068.14,241.998 1062.77,240.8 1059.21,236.24 1060.03,230.862" fill="#c050ff"/>
<polygon points="1120.07,257.847 1119.23,262.742 1114.15,261.693 1110.89,258.097 1109.81,251.765 1110.7,250.244 1113.89,248.791 1117.69,250.853" fill="#9050ff"/>
<polygon points="1086.19,247.466 1082.47,249.97 1078.25,246.403 1075.6,242.214 1076.39,239.883 1079.14,236.928 1083.23,239.111 1086.44,244.704" fill="#ff8030"/>
<polygon points="1121.06,221.098 1120.93,217.229 1122.08,214.147 1127.83,214.917 1131.08,217.976 1131.34,222.314 1129.09,224.159 1123.48,224.686" fill="#ff6080"/>
<polygon points="1129.19,241.879 1129.71,237.251 1131.68,236.127 1136.47,239.271 1137.59,240.969 1137.49,246.356 1134.65,246.99 1130,244.238" fill="#ff8030"/>
<polygon points="1090.18,222.734 1088.37,228.306 1084.49,226.575 1080.22,222.835 1080.06,219.941 1081.54,214.769 1084.12,213.219 1088.03,216.577" fill="#ff3020"/>
<polygon points="1076.41,256.451 1072.66,256.095 1068.98,254.557 1065.67,247.33 1067.65,242.526 1070.31,240.692 1073.93,243.623 1076.66,248.886" fill="#60b0ff"/>
<polygon points="1075.21,249.989 1071.31,248.82 1068.58,244.53 1067.65,240.44 1070.17,238.736 1076.46,239.017 1077.87,241.43 1078.23,247.104" fill="#c050ff"/>
<polygon points="1047.75,227.234 1044.14,228.089 1039.93,224.312 1039.51,220.47 1041.97,216.808 1046.4,218.234 1049.84,221.164 1050.14,224.934" fill="#ff40f0"/>
<polygon points="1093.14,254.863 1091.1,261.835 1087.7,261.101 1084.7,259.025 1082.14,254.457 1084.21,248.854 1087.28,248.5 1091.12,251.167" fill="#60ff30"/>
<polygon points="1124.44,248.401 1118.77,244.245 1115.98,240.168 1118.91,235.914 1121.53,235.113 1127.09,237.047 1128.78,242.857 1126.9,245.734" fill="#ffffff"/>
<polygon points="1056.63,227.892 1061.83,227.687 1065.82,232.215 1066.28,235.227 1063.4,237.526 1059.12,238.114 1054.84,233.618 1055.54,228.864" fill="#c050ff"/>
<polygon points="1126.38,205.839 1130.05,206.584 1132.94,208.701 1134.05,214.181 1134.18,219.125 1130.26,218.941 1127.55,214.761 1126.14,209.685" fill="#60b0ff"/>
<polygon points="1084.9,226.848 1086.17,230.613 1080.9,232.977 1076.34,231.534 1072.64,228.111 1074.48,222.816 1075.96,221.442 1082.3,221.296" fill="#ff6080"/>
<polygon points="1087.21,231.599 1091.73,233.016 1092.84,237.597 1091.33,241.805 1088.58,241.758 1084.14,240.166 1081.7,235.217 1083.87,232.154" fill="#5050ff"/>
<polygon points="1118.5,247.663 1121.22,254.049 1119.23,257.437 1114.11,257.222 1111.31,256.57 1109.42,249.687 1110.82,244.167 1114.72,245.245" fill="#ff8030"/>
<polygon points="1104.22,213.808 1107.44,212.905 1111.37,218.341 1111.57,222.963 1110.4,225.951 1106.68,225.761 1103.13,223.053 1101.31,217.641" fill="#c050ff"/>
<polygon points="1071.1,241.277 1068.58,246.04 1065.04,247.867 1061.01,242.485 1060.19,237.802 1060.48,234.006 1065.14,234.032 1069.86,237.11" fill="#9050ff"/>
<polygon points="1074.93,211.209 1072.28,206.895 1071.94,200.296 1074.7,198.493 1078.33,200.886 1081.44,206.036 1079.91,210.393 1079.05,212.121" fill="#ffffff"/>
<polygon points="1001.41,306.941 1005.54,309.798 1008.33,316.892 1005.5,319.926 1002.87,321.977 998.66,317.787 996.461,309.895 998.361,307.649" fill="#4060ff"/>
<polygon points="999.002,313.141 994.361,311.63 992.021,310.613 990.629,303.485 992.199,300.837 995.924,298.842 999.33,302.838 1002.22,310.282" fill="#a0a0ff"/>
<polygon points="1030.52,249.303 1035.16,257.681 1035.79,260.793 1032.64,265.45 1026.71,261.877 1025.19,255.581 1025.28,251.008 1026.74,249.3" fill="#2030ff"/>
<polygon points="994.328,334.472 991.463,325.924 993.382,324.367 997.54,322.866 1001.89,326.271 1003.04,329.479 1001.74,334.98 999.62,336.13" fill="#40c0ff"/>
<polygon points="1003.99,252.69 1006.71,249.509 1009.39,249.736 1013.08,253.646 1014.29,261.319 1013.48,264.079 1008.17,261.883 1005.53,257.329" fill="#a0a0ff"/>
<polygon points="1022.26,249.973 1026.29,252.742 1028,256.248 1026.51,260.707 1023.15,261.153 1019.14,258.866 1017.07,254.813 1019.35,250.312" fill="#60ff40"/>
<polygon points="1034.54,270.66 1031.65,273.032 1029.2,272.282 1025.51,265.221 1025.82,261.53 1027.96,258.422 1031.7,260.239 1034.88,263.733" fill="#2030ff"/>
<polygon points="1010.36,289.862 1010.47,296.752 1007.48,296.567 1003.81,294.477 1000.47,286.734 1001.18,284.365 1003.94,281.921 1008.11,284.337" fill="#c0ff40"/>
<polygon points="1019.61,251.982 1024.16,257.576 1023.41,261.455 1020.02,264.209 1017.15,264.148 1013.33,258.874 1013.15,254.978 1014.52,251.017" fill="#8050ff"/>
<polygon points="1000.23,322.395 997.007,325.529 994.761,324.593 992.006,321.065 991.262,316.071 992.747,311.895 995.631,313.66 998.822,318.078" fill="#2030ff"/>
<polygon points="1007.93,274.514 1005.51,276.778 1002.13,275.582 999.077,272.089 998.877,264.296 1001.78,261.844 1004.06,262.354 1007.4,268.278" fill="#2030ff"/>
<polygon points="994.333,298.423 992.844,297.044 990.835,292.375 991.456,288.13 994.024,288.462 998.427,291.659 1000.12,294.662 997.409,298.689" fill="#2030ff"/>
<polygon points="1005.12,273.098 1008.57,272.095 1012.57,273.977 1015.96,281.495 1016.07,284.347 1011.69,286.234 1006.61,282.709 1004.89,279.085" fill="#4060ff"/>
<polygon points="1027.78,302.68 1029.88,308.687 1027.55,312.901 1022.17,309.17 1020.34,304.291 1019.15,301.166 1021.63,297.538 1025.6,297.678" fill="#60ff40"/>
<polygon points="998.772,314.605 1000.93,312.131 1005.82,314.439 1009.18,319.892 1006.16,322.354 1003.26,322.953 997.772,321.088 996.629,318.064" fill="#c0ff40"/>
<polygon points="1014.52,289.935 1015.75,284.604 1020.32,285.588 1023.73,288.4 1025.23,293.587 1024.39,295.499 1020.17,296.776 1016.61,294.363" fill="#4060ff"/>
<polygon points="1018.55,324.453 1018.55,322.201 1022.45,318.677 1026.24,320.41 1030.93,326.96 1029.92,331.24 1025.49,332.214 1023.15,331.535" fill="#60ff60"/>
<polygon points="1020.18,273.596 1021.64,271.45 1026.26,273.931 1028.37,277.361 1028.18,280.407 1024.76,282.146 1021.99,281.285 1020.15,278.476" fill="#4060ff"/>
<polygon points="1033.55,273.798 1035.65,278.513 1035.14,283.188 1031.59,284.646 1026.93,281.451 1025.43,276.606 1026.04,272.311 1028.32,270.426" fill="#a0a0ff"/>
<polygon points="1005.47,320.784 1008.87,322.153 1012.15,324.568 1013.63,328.832 1013.95,334.361 1010.26,334.938 1006.41,332.961 1004.41,326.046" fill="#40c0ff"/>
<polygon points="1015.06,319.567 1013.87,323.962 1010.68,324.212 1007.8,322.821 1005.39,318.671 1006.49,315.568 1009.42,314.447 1011.78,315.262" fill="#2030ff"/>
<polygon points="1001.35,267.891 1000.93,273.059 996.629,273.847 993.574,271.342 989.821,266.888 990.998,263.089 995.56,258.923 999.736,261.323" fill="#2030ff"/>
<polygon points="1004.6,292.746 1005.52,289.371 1007.03,288.717 1012.51,289.947 1015.27,292.171 1015.8,296.591 1011.07,297.312 1007.63,296.736" fill="#40c0ff"/>
<polygon points="1012.08,314.645 1010.38,310.051 1013.06,307.532 1017.49,306.43 1021.25,311.879 1020.9,314.792 1019.91,317.578 1013.96,316.809" fill="#a0a0ff"/>
<polygon points="998.178,272.85 1002.42,276.815 1003.91,281.551 1002.65,286.204 1000.05,287.945 994.569,283.752 991.477,276.942 993.62,274.424" fill="#60ff40"/>
<polygon points="1005.9,276.881 1007.1,283.184 1001.2,285.15 998.313,281.318 996.798,276.445 997.381,271.744 1001.37,269.689 1004.71,271.832" fill="#8050ff"/>
<polygon points="993.227,246.227 996.592,244.439 999.616,247.602 1002.45,254.886 1002.48,258.195 998.18,258.309 994.628,256.118 992.868,251.853" fill="#2030ff"/>
<polygon points="1032.28,266.177 1034.1,270.827 1036.69,277.286 1034.27,279.796 1029.6,278.905 1026.36,273.123 1024.54,269.695 1027.19,266.677" fill="#a0a0ff"/>
<polygon points="990.871,301.772 988.759,297.262 993.62,294.182 998.069,295.378 1000.13,299.149 1000.7,303.543 997.633,305.26 992.8,304.792" fill="#40c0ff"/>
<polygon points="1016.52,299.1 1021.69,299.047 1024.26,303.345 1025.71,307.136 1022.52,313.21 1018.29,311.059 1014,306.326 1014.02,302.657" fill="#60ff40"/>
<polygon points="1012.11,319.156 1017.07,318.268 1020.78,321.595 1023.33,323.933 1022.33,329.078 1019.86,331.456 1014.4,328.066 1012.8,325.01" fill="#60ff40"/>
<polygon points="1008.07,302.655 1010.31,309.698 1007.05,312.737 1003.75,314.099 1001.06,309.929 997.314,304.679 1000.33,299.499 1004.62,300.177" fill="#60ff40"/>
<polygon points="1018.66,265.766 1016.96,261.642 1018.9,256.74 1021.92,255.721 1027.94,260.143 1028.49,261.812 1026.28,267.05 1024.34,268.653" fill="#60ff60"/>
<polygon points="1020.06,297.333 1020.98,293.838 1024.44,293.998 1026.33,295.791 1028.57,298.259 1026.84,303.321 1024.35,303.49 1021.91,301.235" fill="#40c0ff"/>
<polygon points="1019.36,264.594 1017.65,268.984 1013.51,268.78 1008.06,266 1007.15,261.115 1007.41,257.239 1011.79,255.933 1016.98,258.561" fill="#a0a0ff"/>
<polygon points="1013.54,296.812 1014.09,303.039 1010.63,307.134 1007.33,306.252 1004.06,301.829 1003.68,293.157 1005.53,292.787 1009.28,293.187" fill="#2030ff"/>
<polygon points="1008.37,307.675 1014.73,307.716 1018.14,312.061 1018.85,315.981 1015.42,319.519 1012.47,317.935 1006.07,313.82 1006.37,311.862" fill="#60ff40"/>
<polygon points="995.181,280.28 995.526,282.81 992.215,284.071 989.35,281.767 987.989,278.337 987.638,272.321 990.988,272.562 993.446,273.258" fill="#c0ff40"/>
<polygon points="1021.77,322.657 1020.6,317.362 1021.86,313.554 1025.55,313.979 1029.7,316.517 1031.05,323.911 1028.38,328.699 1025.66,327.88" fill="#2030ff"/>
<polygon points="1000.71,316.501 999.335,319.717 996.265,320.69 993.765,318.963 989.351,314.132 990.824,311.827 994.924,309.796 998.406,312.529" fill="#a0a0ff"/>
<polygon points="1004.76,329.471 1001.98,330.23 998.516,327.296 997.851,322.452 999.462,320.095 1001.29,319.903 1005.46,321.732 1006.75,325.811" fill="#40c0ff"/>
<polygon points="1015.9,315.065 1019.56,317.442 1022.4,322.58 1021.27,327.807 1018.66,327.037 1014.41,327.204 1011.54,321.181 1012.13,316.476" fill="#4060ff"/>
<polygon points="992.76,277.558 998.175,279.88 1000.7,283.168 1000.86,284.898 997.067,288.232 992.502,286.636 989.705,284.054 989.946,279.294" fill="#2030ff"/>
<polygon points="1004.44,291.316 1008.09,295.102 1007.94,301.163 1004.76,303.486 1002.2,304.067 995.928,298.115 996.158,293.087 999.797,290.595" fill="#4060ff"/>
<polygon points="1006.83,251.202 1009.47,258.736 1008.94,261.55 1003.39,261.027 1001.18,258.469 1000.03,250.948 1001.05,248.97 1004.8,248.303" fill="#60ff40"/>
<polygon points="1012.2,260.166 1015.48,257.778 1019.69,260.835 1022.34,264.464 1021.58,268.306 1018.81,270.302 1015.12,268.628 1012.83,264.909" fill="#c0ff40"/>
<polygon points="1004.5,335.341 1003.95,332.878 1005.52,329.133 1010.04,328.373 1012.55,332.126 1013.47,335.051 1011.68,338.09 1009.37,339.429" fill="#60ff40"/>
<polygon points="1018.37,303.398 1012.79,299.305 1011.93,295.2 1014.23,291.681 1017.61,290.804 1021.62,294.5 1024.53,300.497 1021.7,302.258" fill="#60ff40"/>
<polygon points="1010.72,311.124 1008.19,307.975 1007.09,303.691 1010.87,300.568 1013.88,300.629 1017.16,306.439 1017.42,310.629 1014.45,312.439" fill="#8050ff"/>
<polygon points="1015.06,287.18 1014.96,291.229 1011.92,292.86 1009.15,289.524 1006.31,284.878 1007.28,280.469 1009.77,279.251 1013.66,282.124" fill="#a0a0ff"/>
<polygon points="1031.62,269.998 1033.55,274.928 1030.89,279.918 1026.12,279.244 1022.19,277.149 1019.82,269.971 1022.33,263.878 1028.38,265.457" fill="#60ff40"/>
<polygon points="1023.44,318.024 1020,311.919 1019.5,307.266 1023.89,306.143 1027.75,308.642 1030.45,311.785 1030.56,316.492 1026.08,318.611" fill="#a0a0ff"/>
<polygon points="998.355,267.592 997.609,263.72 1001.95,260.641 1004.31,261.351 1009.76,264.578 1010.32,267.389 1008.14,269.611 1003.81,270.27" fill="#60ff40"/>
<polygon points="1033,264.334 1035.23,261.404 1040.26,260.838 1043.58,262.27 1044.87,268.413 1042.09,270.475 1039.54,270.654 1033.79,266.732" fill="#a0a0ff"/>
<polygon points="998.966,252.357 1002.6,255.496 1003.28,257.978 1001.57,261.695 998.65,261.743 994.846,259.902 993.679,255.329 995.282,252.196" fill="#2030ff"/>
<polygon points="1008.74,338.973 1006.39,339.757 1002.89,339.317 999.8,332.558 999.591,327.913 1002.78,326.284 1007.95,329.866 1009.69,334.614" fill="#60ff40"/>
<polygon points="1002.63,279.275 1006.12,280.67 1008.92,283.89 1009.02,289.599 1006.76,290 1003.95,289.298 1000.26,285.213 1001.02,282.363" fill="#a0a0ff"/>
<polygon points="1017.86,270.7 1021.89,271.643 1024.67,275.493 1024.31,282.112 1021.94,282.887 1018.28,281.832 1015.35,275.857 1014.69,271.106" fill="#a0a0ff"/>
<polygon points="1022.89,282.976 1022.09,288.693 1020.39,288.358 1017.44,286.243 1014.4,280.217 1016.68,277.76 1018.85,276.007 1021.94,278.77" fill="#a0a0ff"/>
<polygon points="995.091,263.642 997.093,266.985 999.27,273.062 999.141,276.058 995.565,277.648 991.445,273.854 989.98,270.189 990.989,264.542" fill="#2030ff"/>
<polygon points="1022.46,288.011 1027.86,289.764 1030.21,293.036 1029.61,295.827 1026.41,298.152 1022.63,297.078 1019.75,292.338 1019.93,290.834" fill="#2030ff"/>
<polygon points="1027.22,284.942 1026.76,288.191 1024.69,290.686 1020.69,289.221 1017.79,285.211 1018.05,283.323 1019.35,279.708 1023.34,279.462" fill="#4060ff"/>
<polygon points="1022.5,340.426 1018.41,340.249 1016.08,338.094 1013.84,331.574 1015.96,328.57 1019.11,328.046 1022.17,330.883 1024.14,336.016" fill="#8050ff"/>
<polygon points="1016.27,266.423 1018.39,270.131 1016.06,275.029 1011.37,275.078 1007.17,269.486 1006.7,265.412 1009.39,263.389 1013.42,263.748" fill="#40c0ff"/>
<polygon points="1016.18,268.252 1016.68,265.716 1021.05,264.918 1023.83,266.432 1024.99,271.154 1023.86,274.641 1020.19,275.385 1017.03,273.308" fill="#60ff40"/>
<polygon points="987.246,475.881 991.467,481.472 992.502,485.284 991.892,492.831 987.734,492.601 982.116,487.937 979.72,484.008 981.803,476.316" fill="#ff2060"/>
<polygon points="1009.77,614.274 1002.34,613.427 995.383,608.163 994.482,597.394 997.942,596.228 1004.16,594.734 1009.96,601.465 1012.86,608.211" fill="#ff40e0"/>
<polygon points="953.144,512.857 951.115,520.946 945.849,522.997 938.18,518.496 932.718,510.077 935.66,503.664 940.684,501.516 946.835,505.109" fill="#ff2a20"/>
<polygon points="925.29,517.292 931.553,518.139 934.61,523.663 934.94,527.165 931.892,530.63 924.601,531.479 920.506,526.286 919.106,518.658" fill="#e048ff"/>
<polygon points="1010.57,546.314 1014.32,543.465 1018.21,543.755 1022.34,550.859 1024.87,562.202 1021.62,562.779 1015.94,560.034 1011.88,553.448" fill="#2030ff"/>
<polygon points="973.192,700.856 968.436,702.164 962.63,698.786 959.954,688.064 960.602,684.852 965.266,681.246 969.74,687.142 973.255,691.485" fill="#c0a0f0"/>
<polygon points="1028.2,534.633 1027.78,529.128 1029.33,524.882 1034.3,523.729 1040.09,531.013 1042.1,540.339 1039.36,544.785 1034.39,544.7" fill="#8050ff"/>
<polygon points="1028.64,717.181 1032.48,714.524 1037.65,717.962 1040.29,725.113 1040.3,730.772 1036.84,735.285 1031.69,732.325 1028.16,723.623" fill="#ff60c0"/>
<polygon points="1014.73,623.468 1017.27,626.843 1015.58,633.246 1006.89,634.384 1002.64,629.859 998.736,623.758 1001.03,617.777 1007.89,618.059" fill="#ffffff"/>
<polygon points="1043.64,750.751 1039.22,751.839 1032.6,745.461 1030.83,738.822 1032.35,735.023 1037.72,734.409 1044.56,740.348 1045.05,748.449" fill="#60ff40"/>
<polygon points="1035.57,660.791 1039.62,655.009 1041.96,655.186 1047.11,660.067 1048.85,665.93 1045.59,674.012 1040.58,670.944 1035.4,665.742" fill="#70e0e0"/>
<polygon points="937.801,483.764 943.179,489.793 943.992,495.952 943.346,502.018 938.258,503.413 933.921,501.895 930.736,492.341 932.915,485.292" fill="#ff2a20"/>
<polygon points="1004.15,569.454 1008.27,565.585 1017.22,567.406 1020.14,573.839 1020.39,578.243 1015.91,581.669 1008.72,579.634 1004.56,577.186" fill="#ffffff"/>
<polygon points="1020.33,704.321 1010.6,700.599 1009.93,696.643 1013.3,690.692 1017.54,690.206 1024.71,691.702 1026.19,696.792 1024.62,702.573" fill="#ff7030"/>
<polygon points="1004.26,644.167 1003.12,652.219 999.492,654.146 993.592,648.096 991.573,643.153 991.362,635.316 993.896,631.524 1000.96,639.486" fill="#ff2a20"/>
<polygon points="913.95,485.401 918.678,485.279 923.214,491.021 922.823,495.466 919.541,498.936 914.625,497.284 907.914,490.628 908.247,488.078" fill="#2030ff"/>
<polygon points="993.363,587.141 990.529,592.219 984.296,590.527 979.576,584.793 979.573,578.097 981.551,574.184 988.259,577.474 991.21,582.24" fill="#ff2a20"/>
<polygon points="976.774,709.272 972.439,717.195 966.48,713.935 959.799,707.234 961.416,704.038 964.336,696.82 972.124,699.391 976.408,703.444" fill="#c0a0f0"/>
<polygon points="1003.76,694.928 1009.82,695.6 1013.87,702.309 1012.77,710.31 1010.58,713.774 1002.68,710.099 999.563,703.067 998.849,697.312" fill="#8050ff"/>
<polygon points="990.059,714.725 986.904,718.197 980.591,713.26 976.586,706.974 976.645,699.403 980.465,697.174 989.341,700.135 989.642,705.848" fill="#ff40e0"/>
<polygon points="973.731,677.519 973.443,681.939 970.239,687.234 963.786,684.398 960.012,678.198 958.691,668.601 962.735,664.25 967.351,667.908" fill="#ff2a20"/>
<polygon points="1039.43,546.692 1044.39,550.811 1043.63,555.897 1040.87,558.416 1032.54,557.775 1029.48,555.541 1029.81,547.224 1032.06,545.045" fill="#ff40e0"/>
<polygon points="1014.35,677.806 1008.29,677.206 1000.76,666.219 1000.24,659.024 1005.1,654.406 1010.03,655.276 1015.92,666.633 1016.51,669.999" fill="#ff2060"/>
<polygon points="970.302,628.394 975.319,638.192 976.913,643.649 970.994,649.051 967.177,647.476 961.727,638.024 960.934,630.459 964.925,626.151" fill="#ff7030"/>
<polygon points="997.013,462.136 994.207,457.454 991.074,447.099 994.415,445.253 999.068,444.649 1005.68,451.723 1005.39,459.157 1005.42,463.95" fill="#60ff40"/>
<polygon points="1016.48,504.629 1016.53,495.849 1022.55,491.62 1029.58,495.726 1032.05,501.352 1031.2,509.91 1025.96,512.701 1022.21,511.56" fill="#60ff40"/>
<polygon points="1007.76,731.292 1014.81,730.364 1017.98,731.784 1022.85,737.347 1021.2,742.683 1017.32,748.193 1010.5,744.864 1005.98,738.363" fill="#ffffff"/>
<polygon points="1046.75,731.136 1050.46,727.142 1058.5,730.676 1063.2,736.807 1062.96,742.493 1055.87,746.107 1052.08,746.913 1045.59,737.131" fill="#e048ff"/>
<polygon points="983.578,718.173 987.656,714.075 992.483,716.73 1000.78,722.404 1000.8,726.351 995.245,731.178 991.432,730.865 984.957,724.944" fill="#4060ff"/>
<polygon points="1061.71,739.378 1062.22,735.161 1067.02,733.748 1072.18,737.923 1073.34,744.312 1072.56,749.398 1068.63,751.08 1062.89,746.333" fill="#ff5030"/>
<polygon points="985.066,527.353 990.937,530.681 993.222,540.731 987.969,546.61 983.7,547.327 976.138,540.352 974.749,529.391 979.969,525.613" fill="#a0ff60"/>
<polygon points="972.611,578.013 972.917,582.702 965.784,584.101 963.686,582.242 960.631,575.069 960.712,570.09 963.994,566.583 968.761,570.204" fill="#2030ff"/>
<polygon points="1051.99,700.918 1053.05,698.009 1059.77,696.528 1063.01,699.414 1064.79,705.707 1063.57,710.035 1057.79,711.505 1055.24,709.784" fill="#ff5030"/>
<polygon points="1043.04,743.35 1035.29,738.703 1034.21,732.682 1036.77,730.103 1041.1,726.825 1048.78,731.921 1050.93,740.054 1049.87,742.303" fill="#ffffff"/>
<polygon points="997.018,664.763 989.328,662.373 986.345,656.928 984.668,649.903 989.159,646.129 995.425,649.079 999.512,652.574 999.931,661.116" fill="#8050ff"/>
<polygon points="965.799,719.627 959.525,721.651 954.908,719.333 949.273,710.134 951.64,706.171 957.402,704.266 963.587,705.86 969.017,714.527" fill="#8050ff"/>
<polygon points="922.565,538.493 912.342,532.185 911.169,524.558 910.225,517.806 915.46,514.045 920.742,517.508 925.425,527.876 924.036,535.68" fill="#e048ff"/>
<polygon points="977.649,611.271 976.851,602.868 980.279,602.578 988.655,605.282 992.367,613.501 991.9,617.5 989.678,624.362 983.574,621.823" fill="#ff5030"/>
<polygon points="1032.35,627.444 1038.54,631.393 1041.62,641.466 1038.73,647.889 1035.03,646.24 1029.52,643.243 1025.76,633.644 1026.01,626.317" fill="#ff60c0"/>
<polygon points="959.198,688.949 958.394,682.105 962.031,679.714 968.375,679.919 972.027,684.071 974.024,692.224 969.52,693.509 961.852,693.78" fill="#8050ff"/>
<polygon points="1004.09,718.641 1004.96,713.407 1011.3,711.218 1017.55,711.584 1021.7,716.028 1019.81,723.418 1015.04,725.356 1007.42,723.269" fill="#ff60c0"/>
<polygon points="1010.71,706.54 1007.39,699.022 1010.62,694.101 1014.03,690.646 1021.68,697.686 1023.32,704.497 1021.53,712.276 1016.97,714.909" fill="#60ff40"/>
<polygon points="948.628,689.212 951.779,693.937 952.438,704.386 950.073,705.611 945.109,705.557 940.414,697.732 938.155,690.153 943.456,686.231" fill="#8050ff"/>
<polygon points="982.046,542.954 987.787,542.618 991.262,548.928 991.241,559.068 988.243,562.725 984.022,561.26 980.606,554.16 979.261,545.709" fill="#8050ff"/>
<polygon points="1039.03,476.876 1039.04,481.975 1035.28,485.648 1031.08,483.692 1028.05,479.808 1028.19,471.808 1030.68,469.5 1038.26,474.001" fill="#60ff40"/>
<polygon points="1000.51,523.948 1000.88,530.28 998.048,533.557 992.846,530.451 989.027,525.746 990.029,519.837 992.299,517.565 996.037,517.008" fill="#2030ff"/>
<polygon points="947.591,541.377 944.465,533.487 945.812,529.141 949.699,524.16 954.481,527.594 959.051,532.607 959.868,542.742 954.951,545.855" fill="#ff5030"/>
<polygon points="1025.58,723.187 1028.21,729.33 1026.38,733.404 1019.08,734.935 1014.36,734.269 1009.67,728.016 1012.04,721.892 1016.11,719.162" fill="#ff60c0"/>
<polygon points="1054.19,699.573 1050.79,698.104 1048.89,692.047 1048.27,686.66 1051.57,682.991 1057.28,687.095 1060.3,690.891 1059.23,697.87" fill="#ff5030"/>
<polygon points="960.693,599.502 956.916,593.489 958.724,586.756 962.244,584.178 968.889,589.473 970.19,599.317 969.781,602.797 965.341,604.444" fill="#e048ff"/>
<polygon points="958.974,541.221 959.804,536.735 963.125,536.432 967.78,538.523 970.441,544.562 969.361,548.873 964.512,550.806 959.494,545.849" fill="#e048ff"/>
<polygon points="1063.92,654.33 1063.23,658.995 1060.18,664.281 1054.57,657.674 1051.2,649.562 1053.34,644.889 1057.02,643.623 1062.49,648.046" fill="#8050ff"/>
<polygon points="963.286,665.902 954.294,662.986 950.567,655.238 952.045,650.595 955.957,645.733 962.124,648.535 966.311,653.716 965.181,660.289" fill="#ffffff"/>
<polygon points="1009.99,509.299 1005.37,512.091 999.715,507.968 995.846,504.673 999.072,499.167 1004.75,497.275 1009.68,500.06 1011.28,505.453" fill="#ff5030"/>
<polygon points="1000.47,747.65 1005.32,748.319 1008.21,750.38 1010.31,759.548 1008.51,761.889 1003.08,761.397 998.725,756.777 998.181,751.207" fill="#8050ff"/>
<polygon points="1023.54,607.941 1031.32,607.473 1036.16,612.314 1037.11,620.801 1032.05,622.951 1028.27,621.877 1021.2,616.963 1022.01,612.747" fill="#ff60c0"/>
<polygon points="966.025,661.678 969.198,657.88 977.654,659.335 980.993,664.246 980.822,672.14 978.933,673.549 969.936,671.709 967.412,668.847" fill="#70e0e0"/>
<polygon points="991.689,694.985 988.356,697.174 982.202,688.79 979.864,680.673 980.306,676.15 985.648,675.45 991.212,681.824 993.571,692.899" fill="#ff40e0"/>
<polygon points="1006.73,461.758 1012.55,472.531 1011.95,477.074 1010.63,484.484 1004.69,481.674 999.428,472.201 998.777,464.576 1001.23,459.932" fill="#4060ff"/>
<polygon points="978.997,723.038 974.167,722.21 970.705,711.502 971.588,705.532 976.737,703.275 981.987,707.408 986.027,717.056 982.985,721.915" fill="#a0ff60"/>
<polygon points="1040.12,570.21 1034.2,569.113 1030.46,562.574 1031.87,557.126 1036.98,552.962 1042.21,556.759 1046.53,562.895 1043.88,568.475" fill="#ffffff"/>
<polygon points="1050.18,608.423 1054.06,615.113 1052.89,621.521 1045.87,622.678 1041.44,619.185 1037.55,613.562 1040.92,608.137 1045.26,605.616" fill="#ff2a20"/>
<polygon points="999.784,677.254 1001.81,672.335 1009.3,670.177 1013.99,673.725 1015.01,680.481 1013.33,686.078 1007.66,686.587 1005.07,683.514" fill="#ff60c0"/>
<polygon points="1031.85,741.538 1029.02,743.945 1022.51,738.935 1020.93,734.113 1021.09,726.107 1024.16,724.734 1030.72,728.75 1031.93,733.276" fill="#ff2a20"/>
<polygon points="1045.16,677.053 1052.49,682.44 1053.03,691.321 1051.33,695.222 1046.46,694.546 1038.84,688.895 1036.85,683.541 1039.98,676.294" fill="#ff2060"/>
<polygon points="1010.45,670.537 1015.8,669.268 1019.98,670.709 1023.47,677.534 1025.04,683.095 1019.9,686.694 1013.98,685.355 1009.29,676.582" fill="#e048ff"/>
<polygon points="1001.53,547.842 998.992,538.532 1000.51,535.884 1009.35,535.149 1013.22,538.207 1014.84,547.662 1015.21,551.077 1006.03,552.462" fill="#ff2a20"/>
<polygon points="949.2,515.983 943.281,510.975 938.579,502.606 941.438,498.478 944.189,494.829 950.606,499.216 956.129,504.714 954.809,514.377" fill="#70e0e0"/>
<polygon points="987.553,744.775 990.204,740.345 995.762,738.152 1000.98,740.239 1003.88,750.51 1002.09,754.412 995.008,754.231 989.391,750.69" fill="#e048ff"/>
<polygon points="953.075,531.558 950.567,527.602 948.659,519.104 951.39,516.006 953.428,515.076 958.675,518.558 959.511,526.439 957.347,532.138" fill="#e048ff"/>
<polygon points="976.126,694.858 969.907,691.663 969.189,686.669 970.876,680.559 973.685,679.325 979.27,683.342 980.31,690.076 980.168,694.182" fill="#ff2a20"/>
<polygon points="1045.49,713.668 1042.4,708.323 1041.91,697.344 1045.07,694.056 1051.1,696.124 1054.49,698.91 1057.55,709.37 1054.29,714.401" fill="#ff5030"/>
<polygon points="993.447,539.848 998.644,537.088 1001.77,537.708 1004.16,542.858 1005.26,549.232 1001.32,553.103 995.42,548.771 991.608,542.916" fill="#2030ff"/>
<polygon points="946.512,586.812 947.041,578.404 953.845,575.301 961.822,579.418 964.143,586.353 963.825,593.971 958.294,595.234 952.107,591.914" fill="#e048ff"/>
<polygon points="951.636,571.879 945.945,567.631 944.92,560.902 946.649,554.892 953.854,554.8 958.864,560.122 961.806,568.227 959.141,573.84" fill="#a0ff60"/>
<polygon points="1001.76,509.608 996.112,505.796 992.785,500.521 992.272,491.956 993.411,485.148 1001.49,488.685 1003.59,493.001 1006.08,505.195" fill="#ffffff"/>
<polygon points="981.088,718.191 977.942,713.704 976.661,706.414 981.776,705.389 988.933,706.531 990.929,709.311 991.562,716.197 989.518,721.678" fill="#60ff40"/>
<polygon points="1008.94,572.276 1008.36,577.231 1004.73,579.899 997.695,578.324 995.203,572.96 997.037,566.404 1001.81,566.559 1003.89,567.3" fill="#ff60c0"/>
<polygon points="1050.14,666.806 1046.2,665.561 1041.59,662.216 1039.3,653.182 1041.76,649.051 1045.35,647.519 1052.1,654.346 1053.57,659.265" fill="#ff2a20"/>
<polygon points="1036.69,521.99 1027.44,526.325 1020.89,522.259 1018.37,516.726 1018.25,511.85 1025.9,509.825 1032.09,511.716 1035.24,516.577" fill="#60ff40"/>
<polygon points="1028.21,690.069 1029.6,685.81 1037.93,686.775 1042.12,692.132 1043.73,699.544 1040.69,703.89 1033.1,701.2 1027.91,697.808" fill="#c0a0f0"/>
<polygon points="969.465,523.091 971.356,534.104 969.161,536.796 963.621,535.263 958.591,529.567 957.65,521.644 961.234,516.59 965.677,519.265" fill="#ff5030"/>
<polygon points="980.863,655.172 975.01,654.934 970.176,650.651 965.021,642.543 967.936,635.366 975.697,635.965 980.076,641.233 983.159,647.992" fill="#2030ff"/>
<polygon points="930.573,545.698 923.119,539.826 919.496,533.81 922.898,527.057 926.688,524.089 933.409,527.164 937.143,537.281 933.102,542.772" fill="#a0ff60"/>
<polygon points="940.3,731.969 934.524,733.609 931.565,728.627 928.044,722.4 932.395,715.162 935.332,715.995 944.046,721.73 946.134,728.164" fill="#e048ff"/>
<polygon points="991.418,465.613 996.089,468.957 996.313,479.079 992.058,483.403 986.755,483.995 980.651,474.859 980.145,469.976 985.82,464.677" fill="#e048ff"/>
<polygon points="1026.82,573.679 1032.81,578.457 1033.01,583.311 1033.45,589.067 1028.67,591.085 1023.69,587.917 1020.24,580.191 1023.82,574.475" fill="#ff5030"/>
<polygon points="974.192,475.166 975.952,484.176 971.903,488.142 965.774,484.979 961.498,479.75 960.179,474.398 962.955,468.323 969.082,469.868" fill="#2030ff"/>
<polygon points="978.134,639.164 972.91,638.298 967.514,633.543 970.979,625.793 977.067,624.856 981.972,626.327 984.893,630.488 983.32,639.142" fill="#60ff40"/>
<polygon points="959.082,754.893 958.626,761.628 956.554,765.765 952.412,763.576 947.4,754.84 948.266,752.002 951.254,746.921 956.781,750.576" fill="#ff2060"/>
<polygon points="988.431,454.383 993.904,457.653 999.633,466.034 1000.72,471.495 995.264,476.118 990.166,474.473 985.554,468.014 984.475,460.009" fill="#2030ff"/>
<polygon points="1019.31,444.508 1024.42,454.016 1022.78,461.304 1019.59,466.306 1011.57,462.226 1008.04,451.637 1008.23,445.552 1015.37,443.516" fill="#ffffff"/>
<polygon points="946.104,482.628 951.934,488.76 954.032,493.336 952.199,502.23 946.592,501.263 943.659,497.745 941.367,488.514 944.001,484.433" fill="#ff2a20"/>
<polygon points="997.369,666.237 1003.29,670.397 1005.16,675.065 1003.51,681.122 999.002,681.961 995.932,678.142 993.05,672.597 994.217,669.172" fill="#ff2a20"/>
<polygon points="954.643,681.649 951.007,684.969 945.834,684.994 941.062,682.073 938.473,674.29 942.171,668.516 947.311,669.541 953.565,674.931" fill="#70e0e0"/>
<polygon points="1019.57,640.662 1023.89,638.136 1030.3,643.06 1032.52,647.744 1031.41,654.799 1024.88,655.699 1018.8,652.033 1017.42,646.247" fill="#ff2a20"/>
<polygon points="931.246,496.055 925.416,490.46 923.181,487.8 926.989,480.544 931.354,480.694 939.768,484.975 941.004,491.928 935.813,494.297" fill="#e048ff"/>
<polygon points="957.533,712.927 950.785,715.45 945.876,713.557 940.831,708.885 942.043,701.764 945.748,696.835 954.236,700.986 957.305,708.886" fill="#ff2a20"/>
<polygon points="927.006,506.454 926.245,498.401 927.34,490.454 933.762,491.793 941.048,496.608 942.271,505.497 939.547,510.631 930.762,512.155" fill="#a0ff60"/>
<polygon points="1008.92,609.485 1013.92,610.237 1018.49,613.423 1020.1,624.723 1019.3,628.106 1012.15,626.11 1008.54,622.877 1006.02,612.411" fill="#ff60c0"/>
<polygon points="1021.48,595.093 1028.85,593.522 1034.8,598.574 1037.23,604.783 1032.02,609.02 1027.28,609.999 1021.49,606.404 1019.08,600.743" fill="#2030ff"/>
<polygon points="981.346,512.82 976.698,505.006 977.356,500.873 982.295,496.201 985.368,499.873 988.81,504.693 987.919,512.417 985.63,515.553" fill="#60ff40"/>
<polygon points="917.623,514.396 917.577,510.581 919.065,504.679 927.915,504.47 933.411,509.723 935.143,516.716 930.16,521.909 922.326,519.706" fill="#ff2060"/>
<polygon points="971.959,664.813 974.336,660.756 980.928,662.551 987.184,671.493 985.614,681.078 980.726,681.399 974.605,680.148 969.564,672.113" fill="#ff40e0"/>
<polygon points="991.877,513.714 986.189,509.369 986.282,500.692 987.389,497.847 994.037,497.97 998.009,504.285 999.311,509.219 996.852,513.702" fill="#8050ff"/>
<polygon points="1021.06,626.945 1018.64,629.059 1013.72,628.067 1009.91,623.3 1009.03,618.535 1011.97,616.085 1016.62,614.921 1020.76,621.087" fill="#70e0e0"/>
<polygon points="989.079,642.332 986.866,645.03 980.981,644.585 975.255,635.71 977.888,631.991 982.103,630.245 986.578,630.641 990.5,637.989" fill="#8050ff"/>
<polygon points="1021.08,507.15 1021.33,513.115 1018.84,519.011 1011.64,517.415 1007.31,508.23 1006.05,497.525 1008.7,495.641 1015.78,498.297" fill="#2030ff"/>
<polygon points="1029.92,585.206 1025.71,586.512 1019.96,583.031 1017.17,575.884 1017.94,571.504 1023.2,571.831 1028.11,574.749 1030.48,578.596" fill="#2030ff"/>
<polygon points="992.509,585.256 996.246,585.553 1000.48,589.575 1002.53,598.189 1002.14,601.491 999.1,603.713 992.17,599.193 990.922,590.731" fill="#ff2a20"/>
<polygon points="970.266,636.891 961.704,633.144 957.474,627.552 959.528,622.202 962.655,619.047 967.691,620.118 974.156,625.739 973.824,632.015" fill="#ff60c0"/>
<polygon points="940.509,715.766 936.608,717.245 928.231,707.433 926.027,702.87 931.86,694.612 937.094,696.625 944.249,702.545 945.862,708.635" fill="#60ff40"/>
<polygon points="1010.34,476.6 1013.25,484.313 1013.48,488.955 1007.19,489.868 1005.46,486.84 1001.47,479.688 1002.45,475.27 1008,475.213" fill="#2030ff"/>
<polygon points="967.512,546.4 972.79,550.685 975.658,560.316 971.475,566.559 968.415,566.912 962.715,559.983 960.07,550.828 961.426,546.326" fill="#ff40e0"/>
<polygon points="955.665,525.293 952.643,530.348 947.925,532.656 941.089,528.312 937.669,522.94 939.509,516.051 945.641,515.182 954.339,520.204" fill="#ffffff"/>
<polygon points="959.495,658.172 960.29,648.511 966.192,648.893 970.426,650.061 974.615,660.025 972.818,668.03 967.519,667.159 961.946,664.525" fill="#ff5030"/>
<polygon points="969.244,757.261 972.234,753.817 977.56,754.504 980.393,759.439 981.891,768.264 978.411,770.43 975.661,771.23 971.433,765.812" fill="#ff5030"/>
<polygon points="1032.79,542.911 1031.92,547.313 1026.81,555.925 1021.31,553.507 1015.01,545.371 1014.71,537.545 1018.71,531.192 1026.62,534.284" fill="#ff5030"/>
<polygon points="1031.52,492.007 1027.7,487.634 1027.15,479.965 1028.01,472.233 1034.33,474.352 1037.89,475.618 1040.93,488.458 1037.57,491.729" fill="#70e0e0"/>
<polygon points="1049.65,714.353 1050.87,709.32 1059.93,707.122 1064.93,714.781 1068.51,721.399 1064.49,727.407 1060.67,728.383 1055.2,725.786" fill="#c0a0f0"/>
<polygon points="1041.65,555.381 1038.51,554.158 1032.72,545.006 1032.5,539.944 1036.81,536.817 1041.06,538.877 1045.59,546.616 1045.62,549.711" fill="#ff2a20"/>
<polygon points="957.126,542.739 963.197,550.111 965.488,559.851 964.387,566.938 959.612,567.613 954.376,560.419 952.116,552.723 953.507,547.058" fill="#c0a0f0"/>
<polygon points="969.816,617.416 972.125,613.731 974.552,611.96 981.47,612.665 984.203,619.318 982.808,625.337 977.149,625.712 974.302,623.213" fill="#2030ff"/>
<polygon points="1026.53,511.636 1026.95,518.165 1020.87,521.728 1012.06,518.511 1011.34,514.07 1010.99,508.393 1017.9,504.404 1023.58,507.028" fill="#ff60c0"/>
<polygon points="1048.14,643.227 1043.59,640.251 1040.41,631.851 1042.35,626.815 1046.54,625.644 1053.38,631.734 1053.45,638.508 1051.92,641.736" fill="#2030ff"/>
<polygon points="936.467,728.807 939.93,726.997 944.808,729.438 947.657,732.149 948.885,740.192 945.357,745.314 940.825,741.847 937.181,736.043" fill="#ffffff"/>
<polygon points="988.654,751.006 987.749,758.066 980.234,754.887 975.124,746.86 976.77,741.449 980.414,736.381 982.974,737.449 987.433,744.389" fill="#c0a0f0"/>
<polygon points="972.94,512.176 967.589,513.271 958.788,508.704 957.82,505.196 956.81,496.181 965.006,495.261 971.706,500.9 973.87,506.535" fill="#e048ff"/>
<polygon points="1036.6,536.487 1035.64,542.15 1028.06,546.238 1025.18,542.495 1019.97,537.384 1023.35,529.693 1025.98,528.275 1034.36,532.06" fill="#70e0e0"/>
<polygon points="930.213,735.502 929.906,726.837 933.05,724.351 937.538,727.051 942.345,737.814 943.596,743.821 939.315,745.434 933.952,743.943" fill="#ff2a20"/>
<polygon points="990.597,705.167 989.265,699.262 994.474,694.487 996.826,696.374 1000.72,704.403 1002.17,712.678 997.999,717.441 992.773,711.673" fill="#8050ff"/>
<polygon points="1039,674.889 1036.66,669.132 1041.1,665.656 1047.49,666.397 1051.17,670.943 1053.1,677.432 1047.21,682.628 1043.25,679.561" fill="#ff2a20"/>
<polygon points="938.251,684.882 941.342,692.082 944.098,701.124 937.983,703.266 934.244,702.662 931.855,695.158 930.022,687.337 935.282,685.295" fill="#60ff40"/>
<polygon points="974.244,496.794 969.288,488.629 969.501,480.931 971.438,477.452 977.366,479.089 981.509,486.375 983.031,493.631 978.912,497.281" fill="#ff40e0"/>
<polygon points="934.351,707.405 940.492,708.07 945.895,712.661 945.309,719.546 940.187,721.74 937.57,720.635 929.751,715.837 929.676,710.407" fill="#ffffff"/>
<polygon points="979.075,517.928 975.993,522.247 970.672,524.008 963.55,520.074 959.057,517.193 963.786,509.975 969.787,509.169 972.487,511.404" fill="#ff5030"/>
<polygon points="1022.67,716.248 1023.62,709.843 1026.56,708.219 1032.5,710.317 1034.86,712.864 1033.59,719.254 1031.14,721.562 1026.57,720.919" fill="#ffffff"/>
<polygon points="908.459,495.958 902.937,489.922 901.751,486.053 903.016,479.545 908.952,479.278 913.932,483.745 915.133,491.158 914.134,494.743" fill="#e048ff"/>
<polygon points="1034.05,475.047 1031.52,478.959 1021.9,470.511 1020.47,463.009 1021.23,457.209 1028.09,455.167 1032.98,459.515 1036.96,467.769" fill="#60ff40"/>
<polygon points="919.627,498.965 917.82,493.102 918.482,488.016 924.271,488.019 928.431,491.219 929.956,497.688 928.876,503.027 922.642,503.34" fill="#ff2a20"/>
<polygon points="1042.11,595.698 1046.66,603.006 1043.45,609.764 1039.47,611.851 1034.42,612.016 1027.91,602.916 1029.12,595.451 1034.07,592.249" fill="#e048ff"/>
<polygon points="976.195,623.434 975.615,619.846 978.999,613.938 985.593,618.079 988.841,623.581 989.6,630.88 985.416,632.849 979.671,629.686" fill="#c0a0f0"/>
<polygon points="1044.37,531.33 1042.57,532.847 1035.87,529.552 1032.02,523.804 1031.27,519.501 1036.04,517.521 1042.14,518.799 1046.45,524.008" fill="#8050ff"/>
<polygon points="1043.1,699.437 1038.35,694.407 1038.5,687.707 1042.54,684.085 1048.48,686.598 1052.67,693.904 1052.53,699.414 1049.62,701.535" fill="#ff2a20"/>
<polygon points="999.353,724.173 1003.5,733.757 1001.94,740.041 997.889,739.804 992.819,737.764 987.761,732.866 989.59,723.767 994.363,721.847" fill="#60ff40"/>
<polygon points="898.941,497.999 904.146,497.477 910.177,497.804 913.931,503.805 914.164,509.42 909.91,512.84 901.834,510.565 899.113,505.178" fill="#e048ff"/>
<polygon points="994.672,644.002 989.88,637.774 988.939,633.497 993.682,630.266 1001.54,631.829 1004.73,637.463 1007.1,642.682 999.212,645.033" fill="#ff5030"/>
<polygon points="1044.97,734.026 1050.07,739.049 1052.59,746.592 1049.01,751.922 1046.37,751.235 1041.13,746.942 1038.88,737.793 1040.54,735.743" fill="#e048ff"/>
<polygon points="956.307,757.073 949.519,748.463 948.307,745.017 951.255,740.2 956.51,738.924 961.913,743.743 963.634,752.968 960.577,757.808" fill="#ff5030"/>
<polygon points="1004.6,695.146 999.156,690.033 998.786,683.206 1000.38,679.045 1008.35,682.117 1012.08,687.229 1012.98,691.581 1007.59,696.035" fill="#ff2a20"/>
<polygon points="1006.79,554.908 1014.34,560.024 1015.26,564.907 1012.4,571.081 1006.93,571.254 1002.39,567.367 1000.76,559.214 1003.43,555.834" fill="#ff5030"/>
<polygon points="965.545,592.38 965.549,597.254 961.423,602.393 957.654,602.836 951.159,596.886 950.491,588.368 954.532,584.035 960.729,585.153" fill="#4060ff"/>
<polygon points="997.432,585.732 998.038,579.397 1002.33,575.678 1007.27,579.519 1011.85,590.169 1010.69,595.83 1006.02,597.287 1000.73,593.793" fill="#ff2060"/>
<polygon points="940.782,712.591 949.03,715.629 951.386,723.225 950.918,727.715 945.922,730.781 935.979,727.335 935.463,723.349 934.084,715.38" fill="#a0ff60"/>
<polygon points="1037.33,631.998 1030.23,630.474 1024.57,622.941 1025.31,614.49 1027.72,613.06 1034.77,613.199 1041.54,622.094 1039.89,630.07" fill="#ff2a20"/>
<polygon points="1009.23,627.113 1013.62,623.787 1021.62,624.946 1026.27,633.288 1025.49,637.394 1019.87,642.79 1014.79,638.736 1010.82,631.725" fill="#a0ff60"/>
<polygon points="985.465,717.459 987.972,722.195 988.225,728.767 985.004,729.332 981.221,728.568 975.334,722.62 976.413,716.302 978.034,714.802" fill="#ff60c0"/>
<polygon points="964.674,504.331 966.212,513.03 960.481,515.977 955.496,513.284 951.466,508.344 950.769,503.573 954.97,495.894 959.424,496.86" fill="#ff2a20"/>
<polygon points="977.549,535.233 970.389,530.532 966.014,525.183 968.859,519.763 974.135,518.349 979.164,520.39 984.227,524.768 982.082,535.031" fill="#ff5030"/>
<polygon points="1003.46,508.925 998.692,498.102 998.316,490.782 999.581,489.176 1003.6,487.171 1009.06,493.673 1009.65,502.634 1007.63,507.563" fill="#ff2a20"/>
<polygon points="1024.95,751.088 1021.13,741.918 1021.34,736.454 1028.35,734.171 1031.52,735.682 1037.35,745.152 1036.75,751.424 1030.73,755.001" fill="#ff2a20"/>
<polygon points="1015.42,596.6 1022.42,601.351 1026.24,606.594 1023.27,612.217 1019.32,613.068 1013.71,610.323 1012.73,603.653 1011.28,599.576" fill="#ff5030"/>
<polygon points="1022.69,474.532 1023.98,477.945 1023.55,482.71 1017.03,483.463 1010.84,481.024 1008.55,476.154 1011.03,468.907 1018.98,468.943" fill="#ff40e0"/>
<polygon points="1016.95,453.25 1014.52,462.51 1008.39,463.28 1003.62,456.849 1002.41,452.009 1001.96,442.836 1007.53,442.091 1014.37,447.313" fill="#ff2a20"/>
<polygon points="945.988,740.55 945.715,732.412 946.954,729.016 954.008,729.057 958.74,734.169 959.905,739.514 957.027,746.819 953.005,748.325" fill="#ff2a20"/>
<polygon points="992.767,518.918 987.479,524.926 982.637,520.624 977.255,511.71 979.341,505.705 982.561,502.635 988.583,507.064 992.562,514.019" fill="#ff5030"/>
<polygon points="1047.22,673.199 1047.44,665.723 1050.1,662.919 1054.41,665.535 1059.89,674.031 1060.27,677.903 1055.13,680.597 1051.55,679.419" fill="#ff2060"/>
<polygon points="1007.85,741.401 1015.09,739.542 1018.74,742.896 1021.63,746.223 1020.44,754.515 1014.1,754.153 1006.83,750.203 1004.52,746.448" fill="#ff2a20"/>
<polygon points="995.361,603.395 988.454,601.744 983.951,598.211 980.505,588.823 981.28,582.939 987.478,582.386 996.566,588.958 997.31,594.382" fill="#ff2a20"/>
<polygon points="1002.51,480.759 1005.51,487.973 1001.57,494.169 999.02,494.588 993.217,489.804 990.004,481.005 991.419,478.679 997.294,477.863" fill="#ff2a20"/>
<polygon points="1010.89,670.728 1008.78,665.355 1010.9,661.25 1015.47,660.963 1019.12,662.019 1022.53,671.22 1018.99,675.63 1015.47,676.852" fill="#ff2a20"/>
<polygon points="919.036,538.104 916.705,541.909 911.444,542.536 906.369,538.314 905.111,530.988 909.171,527.592 913.233,529.75 918.57,534.432" fill="#ff60c0"/>
<polygon points="972.703,577.589 964.247,572.504 961.585,564.48 962.872,558.022 968.038,555.79 973.565,559.446 975.759,565.923 976.424,572.134" fill="#ffffff"/>
<polygon points="1034.02,669.43 1026.82,670.078 1022.38,667.663 1017.69,662.926 1019.52,659.22 1025.05,656.719 1030.47,657.975 1034.94,662.128" fill="#ff7030"/>
<polygon points="1015.88,492.881 1019.63,486.5 1024.94,484.053 1031.56,488.321 1034.74,497.348 1033.62,505.143 1027.51,505.055 1021.12,502.384" fill="#ff40e0"/>
<polygon points="1019.72,618.817 1027.11,616.634 1031.22,617.313 1037.03,623.686 1033.47,630.819 1030.64,632.996 1023.17,629.541 1018.24,621.571" fill="#e048ff"/>
<polygon points="989.275,618.956 984.644,613.18 986.252,604.851 988.957,602.822 994.963,605.664 999.578,613.987 1000.2,619.467 994.638,620.935" fill="#4060ff"/>
<polygon points="940.798,545.687 940.527,549.906 938.861,554.408 933.518,553.914 927.286,549.004 927.911,545.731 930.698,539.683 936.075,539.608" fill="#ffffff"/>
<polygon points="984.279,704.835 979.598,697.27 978.837,689.742 982.523,687.858 992.22,687.948 995.434,695.395 994.271,701.497 991.19,706.026" fill="#ff2a20"/>
<polygon points="1027.64,539.141 1023.76,542.77 1020.61,544.242 1012.77,540.347 1010.92,534.894 1013.14,529.78 1017.46,526.043 1024.86,533.456" fill="#e048ff"/>
<polygon points="1049.53,677.597 1053.41,679.439 1059.07,684.226 1059.95,688.609 1055.39,692.112 1051.79,692.308 1046.6,688.18 1045.04,682.791" fill="#ff2060"/>
<polygon points="941.484,545.239 944.781,543.176 949.777,548.184 953.64,556.687 950.238,560.924 947.28,561.671 941.659,558.266 940.411,548.852" fill="#ff5030"/>
<polygon points="973.597,600.081 967.879,592.22 969.281,586.811 973.744,583.751 979.664,588.181 983.193,595.603 983.003,600.692 976.477,601.322" fill="#60ff40"/>
<polygon points="1045.01,582.187 1052.24,590.096 1053.33,600.919 1050.28,605.765 1045.24,603.923 1037.95,595.08 1036.2,591.05 1037.86,584.129" fill="#ff5030"/>
<polygon points="1034.86,665.36 1041.45,671.978 1039.96,679.454 1036.63,682.063 1029.95,682.962 1026.13,675.08 1025.8,667.446 1031.29,663.67" fill="#ff5030"/>
<polygon points="1032.09,699.297 1037.22,698.167 1041.56,701.072 1043.77,706.048 1043.59,714.849 1040.85,715.915 1035.77,713.357 1031.53,706.481" fill="#8050ff"/>
<polygon points="1005.01,580.85 1005.51,587.787 1004.52,592.613 998.305,593.191 993.322,586.707 991.816,578.372 994.94,573.884 1000.95,575.299" fill="#8050ff"/>
<polygon points="980.673,528.579 982.033,537.176 979.994,544.392 972.011,543.292 969.316,538.999 966.732,531.51 967.273,524.713 976.547,525.322" fill="#70e0e0"/>
<polygon points="1010.66,556.729 1009.57,564 1007.94,566.058 1001.69,561.08 998.18,551.953 998.092,547.998 1002.43,544.129 1008.08,549.669" fill="#ff60c0"/>
<polygon points="1009.23,569.055 1005.17,560.718 1007.62,552.499 1013.84,551.061 1018.47,558.683 1020.77,561.744 1019.03,569.779 1014.04,571.692" fill="#e048ff"/>
<polygon points="964.082,601.493 965.845,610.251 963.104,613.52 957.696,616.654 950.162,608.643 949.479,600.61 953.501,593.002 960.554,593.939" fill="#8050ff"/>
<polygon points="1010.06,609.19 1012.74,615.959 1011.82,622.075 1005.15,621.988 1001.84,618.885 998.919,608.686 1000.89,603.094 1006.56,602.906" fill="#ff7030"/>
<polygon points="1071.09,749.404 1075,755.275 1075.73,763.88 1071.31,767.927 1062.85,764.078 1060.43,758.473 1059.56,748.304 1064.82,744.742" fill="#e048ff"/>
<polygon points="956.156,709.563 962.176,715.618 965.519,721.627 966.011,729.895 962.633,730.257 958.625,730.566 953.038,721.175 951.404,716.207" fill="#ff2a20"/>
<polygon points="957.075,693.338 951.614,690.631 948.044,681.034 947.84,676.743 952.551,674.561 957.441,676.809 960.922,683.209 959.921,692.081" fill="#ff5030"/>
<polygon points="980.146,672.188 976.293,665.799 976.466,659.029 980.845,657.633 986.716,658.826 991.595,666.768 991.004,671.889 984.614,674.599" fill="#60ff40"/>
<polygon points="1004.46,726.222 1001.76,729.603 997.428,728.304 992.662,718.517 991.369,712.624 995.9,708.291 1000.81,711.23 1002.84,716.08" fill="#ff60c0"/>
<polygon points="960.597,699.939 962.993,708.325 961.592,715.111 958.829,719.462 952.369,713.67 949.087,702.232 952.81,697.166 956.817,695.85" fill="#e048ff"/>
<polygon points="1024.26,461.377 1024.21,466.427 1020.03,471.845 1014.43,470.179 1010.82,463.39 1010.83,456.238 1012.34,453.001 1020.61,457.099" fill="#ff2060"/>
<polygon points="985.984,710.195 980.549,713.292 974.769,711.009 967.853,706.893 970.074,699.806 973.253,697.425 981.383,698.233 984.704,702.624" fill="#c0a0f0"/>
<polygon points="986.739,598.227 992.713,601.654 994.716,606.856 991.435,616.192 983.77,614.881 979.485,610.423 974.959,605.817 978.765,597.758" fill="#ff40e0"/>
<polygon points="954.087,671.604 948.566,665.739 946.931,659.197 950.872,654.074 954.991,653.974 959.535,660.938 960.323,665.889 956.412,670.681" fill="#ff5030"/>
<polygon points="998.921,737.157 1003.78,739.102 1007.07,744.356 1010.86,753.121 1005.98,760.097 1003.34,758.955 995.429,751.078 996.166,743.483" fill="#60ff40"/>
<polygon points="1018.4,503.714 1014.77,506.314 1011,504.338 1006.22,499.264 1005.88,490.744 1010.05,490.585 1014.3,491.831 1018.84,499.475" fill="#8050ff"/>
<polygon points="1011.18,533.841 1009.35,539.412 1005.29,539.027 999.866,535.21 998.445,531.285 999.813,527.054 1005.48,525.913 1009.3,526.956" fill="#e048ff"/>
<polygon points="981.197,597.603 982.743,606.046 981.095,613.009 976.494,613.549 971.212,609.342 968.141,599.836 969.828,591.087 974.259,589.643" fill="#ff40e0"/>
<polygon points="1035.56,658.811 1033.35,665.398 1028.72,666.771 1025.77,663.17 1022.45,655.708 1024.44,650.796 1030,648.982 1033.74,652.289" fill="#70e0e0"/>
<polygon points="1028.62,686.141 1031.05,681.979 1037.51,680.534 1042.75,684.319 1046.5,689.124 1041.86,696.512 1034.76,696.21 1032.29,692.688" fill="#ff40e0"/>
<polygon points="982.199,521.684 984.845,517.154 991.087,520.001 995.226,527.662 994.679,532.917 993.003,535.247 986.378,534.806 980.643,526.939" fill="#60ff40"/>
<polygon points="962.847,542.662 960.483,540.175 956.762,534.232 957.407,527.541 961.633,525.671 964.146,526.993 968.853,532.129 967.827,540.833" fill="#4060ff"/>
<polygon points="986.732,725.647 990.379,727.38 993.053,732.338 991.767,738.616 988.98,740.899 982.404,737.644 979.286,731.049 981.048,727.066" fill="#e048ff"/>
<polygon points="1042.11,720.469 1043.2,716.265 1050.13,715.616 1053.37,718.619 1055.29,724.389 1052.28,728.685 1049.95,730.245 1045.02,726.735" fill="#ff2a20"/>
<polygon points="964.781,501.339 960.428,506.024 956.521,504.515 951.417,497.611 951.402,491.168 954.857,487.145 959.243,487.161 962.464,496.017" fill="#60ff40"/>
<polygon points="1052.2,746.358 1054.68,746.095 1059.33,754.521 1058.68,763.702 1055.45,766.411 1049.46,762.493 1046.83,755.026 1046.43,749.388" fill="#70e0e0"/>
<polygon points="1032.47,755.686 1036.56,752.997 1041.57,754.477 1044.23,762.567 1044.54,769.72 1042.28,774.293 1035.59,770.529 1030.46,763.894" fill="#ff60c0"/>
<polygon points="965.758,571.178 969.437,567.741 976.65,567.453 982.204,577.798 980.82,582.804 976.231,587.55 970.662,585.911 964.963,579.949" fill="#70e0e0"/>
<polygon points="953.684,617.484 950.834,612.763 952.258,607.707 958.624,606.607 961.411,609.328 963.873,613.882 963.066,619.53 959.93,621.991" fill="#60ff40"/>
<polygon points="1026.01,610.312 1030.82,609.177 1036.65,611.101 1040.68,620.714 1039.36,625.293 1034.57,625.534 1027.41,623.014 1024.57,612.94" fill="#8050ff"/>
<polygon points="1026.62,689.483 1019.37,684.796 1017.16,682.284 1018.22,677.701 1022.93,674.208 1029.11,675.05 1032.7,683.62 1032.18,686.278" fill="#ff2a20"/>
<polygon points="1001.27,710.387 1006.5,708.241 1014.13,712.118 1015.92,718.233 1012.06,724.146 1008.28,724.744 999.494,718.64 998.453,715.636" fill="#c0a0f0"/>
<polygon points="1042.02,661.399 1036.1,659.983 1031.77,656.851 1030.71,651.923 1032.69,646.87 1037.79,645.313 1044.3,651.383 1043.91,655.118" fill="#ff5030"/>
<polygon points="995.845,671.479 1000.12,673.323 1005.32,684.362 1003.12,690.567 996.407,692.445 992.172,689.007 988.093,680.944 989.59,673.774" fill="#ff2a20"/>
<polygon points="966.281,577.921 969.798,576.533 972.636,575.952 977.397,581.342 978.862,585.836 976.852,590.782 970.77,588.548 968.087,587.267" fill="#ff2060"/>
<polygon points="1004.13,624.917 1009.81,627.078 1011.84,630.849 1012.81,636.635 1007.85,640.562 1003.99,636.646 1000.47,631.48 1002.8,627.583" fill="#ff5030"/>
<polygon points="951.287,712.35 952.843,722.343 951.67,727.727 945.429,726.024 938.976,717.996 939.592,712.299 941.413,707.016 947.836,707.796" fill="#ff60c0"/>
<polygon points="1044.13,758.912 1040.03,759.352 1033.34,757.735 1029.69,755.634 1029.4,746.746 1032.33,745.223 1038.76,744.18 1043.23,749.911" fill="#ff5030"/>
<polygon points="936.827,546.678 933.071,551.832 929.743,551.166 923.141,549.739 919.459,543.258 922.305,534.069 925.171,532.278 932.278,534.981" fill="#ff40e0"/>
<polygon points="1016.19,481.722 1021.66,478.488 1027.19,483.24 1030.23,487.432 1028.5,492.037 1024.94,495.055 1017.25,492.598 1015.34,487.576" fill="#ffffff"/>
<polygon points="945.917,571.801 949.439,567.299 953.271,564.949 962.256,571.161 962.597,576.407 959.188,579.16 951.644,579.188 948.237,574.975" fill="#ffffff"/>
<polygon points="958.514,655.018 953.603,655.153 947.543,642.522 950.928,637.926 954.311,635.756 958.04,639.248 962.165,648.234 960.532,653.544" fill="#ff40e0"/>
<polygon points="1034.04,720.185 1030.29,713.266 1032.03,710.01 1034.86,707.996 1040.79,710.195 1042.57,716.241 1041.91,720.213 1036.54,723.481" fill="#e048ff"/>
<polygon points="966.934,517.194 965.741,509.853 969.545,505.107 977.65,510.784 981.351,517.281 979.937,521.907 974.07,525.667 968.945,521.758" fill="#8050ff"/>
<polygon points="947.268,531.87 950.674,540.326 948.769,545.189 942.226,544.869 936.463,540.723 933.871,535.867 935.664,528.436 943.157,527.57" fill="#c0a0f0"/>
<polygon points="1010.49,515.787 1015.88,512.86 1018.74,515.977 1022.84,524.423 1021.65,531.923 1018.19,534.157 1011.15,528.961 1009.76,523.56" fill="#ff2060"/>
<polygon points="953.595,481.277 954.615,487.846 954.847,491.016 949.707,495.349 945.666,492.91 943.353,485.051 943.656,476.872 948.731,476.085" fill="#ffffff"/>
<polygon points="959.912,483.358 960.948,491.224 960.306,495.686 955.129,496.205 951.664,492.071 950.304,483.176 951.297,480.045 955.413,479.544" fill="#8050ff"/>
<polygon points="1004.09,539.674 997.366,542.158 993.848,538.026 991.026,532.385 993.045,527.92 995.244,524.93 1002.38,530.329 1004.26,535.629" fill="#ff2a20"/>
<polygon points="950.051,696.725 944.627,696.603 938.997,694.134 935.813,688.125 937.141,681.881 943.394,679.388 950.226,684.41 951.586,691.344" fill="#ffffff"/>
<polygon points="941.465,534.799 937.899,537.208 931.325,533.388 930.624,529.867 929.529,522.407 931.786,517.356 938.751,521.258 942.352,527.376" fill="#ff2a20"/>
<polygon points="1000.51,631.633 997.326,632.017 990.816,624.009 991.342,619.718 995.166,616.27 1001.5,618.678 1006.46,622.993 1006.23,628.831" fill="#ff2a20"/>
<polygon points="1001.14,476.921 999.874,485.064 993.278,485.358 986.152,478.245 984.755,471.4 986.432,461.851 995.339,462.962 1000.81,470.345" fill="#ff2060"/>
<polygon points="1032.56,712.28 1027.93,714.565 1021.66,705.666 1019.74,699.133 1023.09,693.831 1028.72,693.77 1031.03,698.23 1034.5,708.787" fill="#ff2a20"/>
<polygon points="984.99,686.985 978.292,677.08 975.936,672.657 980.775,667.348 985.603,667.625 992.104,675.859 993.413,683.682 988.869,686.905" fill="#e048ff"/>
<polygon points="1018.4,676.538 1026.24,682.135 1025.37,685.315 1022.51,692.128 1016.14,689.965 1012.1,689.295 1010.44,681.15 1012.99,677.728" fill="#c0a0f0"/>
<polygon points="972.551,556.383 965.111,547.438 963.029,542.83 968.389,536.821 975.133,538.434 977.492,542.501 981.816,552.377 977.442,556.401" fill="#ff7030"/>
<polygon points="987.437,766.212 985.46,758.476 990.044,756.337 996.508,756.405 1003.47,762.357 1002.37,769.348 998.055,774.116 992.264,770.56" fill="#ffffff"/>
<polygon points="982.86,506.55 983.078,509.468 979.025,513.984 973.953,512.499 969.506,507.692 967.18,501.026 973.634,496.062 978.608,499.653" fill="#a0ff60"/>
<polygon points="1017.74,525.526 1017.19,521.055 1021.04,517.075 1025.7,517.54 1031.06,524.987 1030.53,532.253 1027.52,534.321 1019.38,532.693" fill="#2030ff"/>
<polygon points="1041.12,582.574 1047.13,590.534 1046.01,595.036 1044.11,603.535 1034.57,599.744 1028.87,592.116 1027.41,587.27 1033.89,582.644" fill="#ff2060"/>
<polygon points="970.584,757.029 971.112,761.75 965.384,767.576 959.562,765.581 954.36,759.729 955.12,750.862 959.58,744.729 963.265,748.056" fill="#ff2a20"/>
<polygon points="930.42,522.765 936.696,525.303 940.262,535.083 940.327,538.836 935.944,541.732 929.326,536.954 927.243,532.571 925.759,525.422" fill="#ffffff"/>
<polygon points="1006.77,599.309 1006.68,593.37 1010.18,590.652 1015.14,590.46 1020.33,593.76 1024.03,601.462 1019.56,605.435 1015.33,605.203" fill="#8050ff"/>
<polygon points="950.939,748.596 953.606,756.616 951.969,760.849 947.875,764.617 943.059,758.064 941.136,752.573 942.343,746.227 944.972,746.606" fill="#c0a0f0"/>
<polygon points="1040.39,565.882 1046.02,566.093 1050.66,573.866 1051.71,577.337 1049.9,581.816 1045.99,582.633 1039.21,578.243 1038.52,570.76" fill="#ff2a20"/>
<polygon points="959.011,534.517 965.068,542.111 966.08,550.55 963.514,553.806 956.469,552.001 952.788,545.8 951.301,539.424 956.576,535.641" fill="#60ff40"/>
<polygon points="1040.61,735.34 1043.08,743.672 1037.53,749.827 1032.92,750.313 1025.24,740.041 1024.52,732.483 1027.62,727.578 1033.71,726.812" fill="#ff2a20"/>
<polygon points="979.174,731.253 972.24,727.486 969.941,719.641 970.986,711.379 975.009,710.986 981.546,716.622 984.401,725.967 981.672,728.939" fill="#2030ff"/>
<polygon points="1022.2,480.461 1017.73,473.042 1018.25,464.062 1021.03,462.442 1027.42,464.891 1031.68,471.869 1031.64,480.768 1027.69,481.311" fill="#ff60c0"/>
<polygon points="1034.69,554.224 1036.83,560.373 1033.01,563.325 1026.35,565.15 1022.38,562.314 1020.28,557.692 1020.38,552.205 1027.69,550.831" fill="#ff5030"/>
<polygon points="938.395,508.457 941.351,510.33 948.029,515.713 946.108,522.335 941.167,523.564 934.284,520.567 931.072,515.679 930.872,510.372" fill="#e048ff"/>
<polygon points="987.808,656.647 982.027,654.231 977.613,650.151 977.817,641.685 982.437,639.141 986.509,642.201 991.48,646.554 990.496,653.083" fill="#ff2060"/>
<polygon points="1023.93,626.486 1030.77,630.374 1034.28,633.984 1029.58,638.473 1024.9,639.457 1018.43,637.613 1015.84,630.906 1016.51,627.892" fill="#ff60c0"/>
<polygon points="1021.94,764.781 1017.16,763.597 1011.35,760.191 1011.11,755.61 1012.57,751.722 1017.36,750.768 1023.63,755.551 1025.55,760.254" fill="#e048ff"/>
<polygon points="983.776,705.508 978.771,705.797 973.323,699.664 971.691,692.609 976.254,690.377 979.133,689.739 984.547,697.277 984.439,703.129" fill="#ff60c0"/>
<polygon points="1061.25,650.182 1053.9,651.421 1050.16,646.948 1047.35,638.335 1050.2,633.464 1057.3,635.179 1061.09,637.625 1064.27,644.496" fill="#ff2060"/>
<polygon points="1000.55,753.051 1000.9,759.233 997.501,762.338 990.721,757.166 987.087,752.206 988.072,746.203 992.141,744.562 998.29,745.217" fill="#ff5030"/>
<polygon points="1005.08,554.795 1006.25,563.546 1000.15,567.112 993.896,566.029 990.606,559.421 990.773,552.651 994.184,547.936 1001.34,548.337" fill="#ff2a20"/>
<polygon points="979.766,663.886 973.289,663.984 967.382,658.051 967.254,653.449 971.263,646.509 974.946,647.288 981.675,652.016 983.445,657.799" fill="#2030ff"/>
<polygon points="1009.07,518.893 1012.39,522.815 1011.58,527.918 1009.59,531.935 1003.42,529.875 998.1,526.534 998.22,519.126 1000.53,516.645" fill="#ff2a20"/>
<polygon points="974.892,633.353 970.805,626.842 971.25,618.099 973.236,614.907 980.151,618.622 983.599,625.167 984.805,634.546 980.72,636.916" fill="#ff2a20"/>
<polygon points="1004.21,582.032 1001.07,583.327 995.249,578.617 992.907,573.096 992.247,565.44 996.778,562.409 1001.66,566.839 1003.68,572.002" fill="#ff5030"/>
<polygon points="966.026,774.653 959.756,770.817 955.335,763.678 956.296,756.791 961.965,752.308 969.157,757.092 974.751,765.314 971.727,769.894" fill="#ff60c0"/>
<polygon points="974.172,560.963 975.167,554.99 979.136,554.132 983.845,555.129 990.471,561.7 987.647,567.393 983.917,570.216 977.996,567.354" fill="#ff2a20"/>
<polygon points="1048.29,729.017 1047.35,719.919 1051.95,717.803 1055.43,718.763 1060.96,723.579 1060.64,727.301 1060.23,733.501 1052.93,731.768" fill="#8050ff"/>
<polygon points="1025.26,644.91 1023.95,650.728 1022.8,653.078 1014.43,654.138 1008.29,649.945 1005.92,641.035 1008.79,639.934 1018.78,638.468" fill="#ff7030"/>
<polygon points="970.19,605.759 967.985,612.45 962.077,612.373 955.637,610.456 954.829,602.757 956.199,598.068 963.527,597.755 967.777,601.139" fill="#ff2a20"/>
<polygon points="966.035,766.931 964.551,772.565 956.231,772.363 949.201,766.474 950.334,760.4 952.29,757.043 960.596,755.396 964.637,759.803" fill="#ff5030"/>
<polygon points="975.317,501.477 970.553,496.743 968.495,490.218 968.373,484.587 971.442,482.519 978.066,487.378 981.061,495.422 981.251,499.825" fill="#ff60c0"/>
<polygon points="915.203,505.618 921.828,507.256 924.526,511.508 927.733,523.865 920.727,528.76 913.503,522.675 908.83,515.645 909.153,508.313" fill="#ff60c0"/>
<polygon points="1031.97,574.918 1031.34,569.578 1035.72,566.64 1042.96,565.947 1046.28,569.273 1047.23,574.957 1044.4,580.525 1037.92,579.739" fill="#ffffff"/>
<polygon points="962.261,709.52 966.552,704.886 971.543,706.372 975.27,711.329 976.602,716.094 971.851,721.06 966.196,718.338 963.863,715.813" fill="#ff40e0"/>
<polygon points="1005.01,581.688 1009.53,575.076 1015.45,578.536 1020.02,581.195 1021.76,587.967 1015.81,594.105 1011.34,593.18 1004.19,585.999" fill="#e048ff"/>
<polygon points="1003.97,605.402 1005.51,611.794 1002.12,614.476 996.2,614.027 991.572,609.783 991.473,604.331 992.596,601.643 1000.7,601.191" fill="#4060ff"/>
<polygon points="1050.35,643.669 1052.31,648.488 1048.46,652.6 1042.73,653.048 1039.07,649.728 1038.76,642.08 1041.96,638.539 1047.21,640.752" fill="#4060ff"/>
<polygon points="987.325,567.64 990.607,576.363 990.098,584.589 988.357,585.953 979.565,581.107 978.05,577.158 978.746,570.218 982.915,565.325" fill="#8050ff"/>
<polygon points="958.36,723.443 962.532,716.34 967.688,715.704 973.86,717.405 978.338,724.983 973.986,734.14 966.898,732.257 960.708,728.986" fill="#ff40e0"/>
<polygon points="942.66,511.276 944.264,508.526 948.627,504.989 955.699,506.767 961.758,512.547 959.653,521.38 954.749,521.263 947.615,519.055" fill="#2030ff"/>
<polygon points="974.898,724.011 979.709,729.745 981.46,734.663 977.2,738.451 972.153,739.389 968.792,734.391 965.913,728.923 970.475,724.025" fill="#ff2060"/>
<polygon points="1024.13,714.773 1028.28,719.981 1030.7,726.15 1029.02,731.533 1022.31,730.171 1020.71,726.16 1019.31,720.549 1020.68,713.806" fill="#ff40e0"/>
<polygon points="945.211,537.134 948.737,542.025 951.842,550.528 950.129,553.357 944.749,555.634 940.509,553.852 939.03,546.898 939.487,541.074" fill="#ff2a20"/>
<polygon points="1007.15,523.216 1003.69,524.362 997.03,520.943 995.438,514.933 997.533,510.046 1003.26,508.839 1006.18,512.307 1009.65,520.131" fill="#ff2060"/>
<polygon points="990.384,663.146 997.32,661.704 1004.53,664.167 1005.38,670.096 1003.87,674.661 998.795,676.37 992.814,674.873 989.881,668.141" fill="#ffffff"/>
<polygon points="1011.45,533.388 1016.93,532.372 1026.41,543.625 1025.41,552.309 1021.46,554.5 1016.24,554.22 1009.32,547.633 1007.15,535.597" fill="#ff60c0"/>
<polygon points="957.631,682.11 953.181,680.042 949.916,669.531 951.929,662.956 955.674,660.777 963.47,666.136 965.148,674.797 964.65,680.296" fill="#2030ff"/>
<polygon points="1000.27,586.741 1008.32,585.097 1012.78,585.803 1016.87,592.081 1017.71,598.604 1011.31,599.908 1001.6,598.271 999.328,592.671" fill="#2030ff"/>
<polygon points="1038.02,636.586 1043.12,642.724 1045.02,652.578 1040.96,657.875 1033.41,654.184 1030.21,648.454 1029.98,640.963 1034.78,638.235" fill="#ff2a20"/>
<polygon points="1042.31,590.658 1035.44,589.769 1033.16,586.035 1029.52,579.607 1032.01,571.927 1038.81,572.164 1044.73,578.607 1045.63,587.5" fill="#ff60c0"/>
<polygon points="1010.56,743.483 1004.41,742.478 998.169,739.291 996.268,733.796 997.987,728.812 1004.4,729.156 1011.36,732.109 1012.76,738.978" fill="#ff2060"/>
<polygon points="926.693,679.19 931.303,678.848 938.333,681.477 941.329,689.007 938.969,693.669 935.083,695.009 927.025,691.642 925.028,686.079" fill="#ff40e0"/>
<polygon points="962.819,502.481 959.672,496.04 958.8,490.128 962.799,488.864 967.634,490.712 972.257,494.229 971.997,500.626 967.284,503.319" fill="#ff5030"/>
<polygon points="1045.68,706.413 1052.77,712.156 1054.23,715.554 1050.79,724.453 1046.84,722.914 1039.36,718.653 1036.93,710.529 1039.77,707.28" fill="#8050ff"/>
<polygon points="965.225,592.776 960.106,586.08 960.202,580.872 961.583,577.991 967.762,580.176 970.497,583.735 970.396,591.431 967.781,595.099" fill="#8050ff"/>
<polygon points="996.068,572.889 991.558,571.27 987.856,564.174 991.168,557.271 994.931,555.557 1002.89,561.915 1003.92,565.847 1001.47,572.137" fill="#ff2a20"/>
<polygon points="1036.74,626.97 1038.9,617.815 1044.37,616.699 1049.12,620.512 1052.43,629.365 1051.51,632.653 1043.76,635.965 1039.64,631.257" fill="#e048ff"/>
<polygon points="985.791,754.573 982.454,758.83 974.631,754.461 972.966,747.741 971.094,740.587 974.233,737.49 981.3,740.027 985.915,746.923" fill="#ffffff"/>
<polygon points="1034.87,671.942 1035.28,675.025 1032.43,679.294 1026.16,679.62 1021.5,675.658 1020.9,668.248 1024.08,665.968 1030.88,666.661" fill="#a0ff60"/>
<polygon points="1011.2,460.264 1012.61,468.898 1009.98,473.625 1002.6,471.522 998.793,468.802 995.329,460.716 999.329,456.161 1006.83,456.616" fill="#ff2060"/>
<polygon points="910.093,504.694 910.873,497.424 913.576,495.167 919.765,500.991 922.289,506.732 921.545,511.877 918.51,514.082 912.135,510.791" fill="#a0ff60"/>
<polygon points="1018.94,747.111 1024.9,749.589 1027.68,752.226 1029.23,760.687 1028.89,763.671 1021.29,765.32 1017.93,761.234 1016.12,753.66" fill="#ff5030"/>
<polygon points="1008.43,768.816 1005.32,764.152 1006.58,758.728 1012.01,756.03 1016.92,756.673 1020.19,762.35 1019.5,769.689 1016.86,771.285" fill="#ff2a20"/>
<polygon points="1060.07,762.115 1061.78,756.774 1065.73,755.81 1070.85,757.946 1074.35,763.932 1073.01,769.187 1067.75,772.117 1062.71,768.777" fill="#60ff40"/>
<polygon points="1034.22,656.205 1041.01,659.001 1042.54,665.651 1040.83,667.753 1033.85,669.118 1029.93,666.835 1028.91,660.296 1030.85,657.136" fill="#60ff40"/>
<polygon points="967.251,727.058 973.322,731.345 973.203,736.551 971.142,741.415 967.162,741.77 962.542,738.284 960.493,731.127 963.41,725.684" fill="#ff2a20"/>
<polygon points="1044.76,562.679 1039.8,557.485 1037.47,550.212 1039.25,543.247 1042,541.629 1047.02,545.241 1050.86,554.903 1048.39,559.502" fill="#60ff40"/>
<polygon points="964.852,755.51 958.752,749.926 956.484,739.91 956.833,735.178 963.03,734.331 967.565,740.609 968.942,748.354 968.768,753.034" fill="#ff2a20"/>
<polygon points="1013.52,645.075 1012.73,648.716 1008.59,653.519 1001.52,650.077 995.944,642.988 997.12,636.46 1001.66,634.801 1009.21,637.671" fill="#ff2a20"/>
<polygon points="963.017,699.079 961.256,703.059 954.1,699.894 946.623,691.317 947.907,687.601 950.847,681.44 959.757,684.67 963.236,689.602" fill="#ff60c0"/>
<polygon points="1066.02,666.576 1065.78,672.221 1062.74,675.975 1055.58,672.965 1052.93,669.368 1051.66,662.361 1057.77,660.056 1061.48,662.853" fill="#ff2a20"/>
<polygon points="1060.8,745.21 1059.82,752.187 1054.57,752.141 1052.01,750.411 1048.2,743.051 1050.46,736.932 1052.31,734.15 1058.11,739.234" fill="#ffffff"/>
<polygon points="1020.59,704.426 1017.26,699.249 1016.71,690.738 1020.96,687.239 1025.44,688.055 1032.64,698.363 1032.32,704.111 1027.92,707.706" fill="#ff60c0"/>
<polygon points="980.176,553.77 974.161,545.256 972.413,540.3 977.619,534.864 986.124,537.047 991.325,544.421 990.896,550.475 986.361,553.747" fill="#2030ff"/>
<polygon points="1018.32,566.701 1016.45,561.726 1019.25,553.881 1024.79,554.253 1030.48,557.335 1033.28,568.251 1032.06,572.6 1023.05,572.778" fill="#ff2a20"/>
<polygon points="1006.67,713.37 1013.83,719.845 1016.86,727.949 1012.84,730.28 1005.84,731.411 1002.19,727.124 999.36,718.85 1002.14,713.145" fill="#ff2a20"/>
<polygon points="992.15,519.36 991.298,516.118 990.234,508.22 995.359,507.535 1000.82,511.247 1002.39,513.943 1002.89,521.983 999.397,524.158" fill="#c0a0f0"/>
<polygon points="983.16,496.861 980.849,488.549 985.899,482.922 992.681,484.252 994.767,488.312 996.042,495.116 992.685,500.652 986.312,501.046" fill="#2030ff"/>
<polygon points="995.013,667.193 987.95,666.063 980.595,657.722 980.469,650.832 983.476,645.915 989.36,645.482 994.569,649.191 996.807,657.709" fill="#ff7030"/>
<polygon points="1051.29,612.413 1048.52,615.151 1043.31,616.558 1039.78,610.317 1038.59,606.241 1039.59,599.737 1043.73,600.529 1048.72,605.242" fill="#60ff40"/>
<polygon points="1010.14,656.728 1008.71,648.79 1011.46,646.742 1018.45,647.812 1022,652.151 1022.38,658.224 1020.05,659.569 1013.97,658.228" fill="#ff2a20"/>
<polygon points="976.268,566.587 971.95,564.439 966.331,555.182 966.993,546.823 974.752,546.895 978.728,546.971 983.779,558.404 983.177,567.094" fill="#2030ff"/>
<polygon points="982.013,748.098 986.789,746.934 991.269,746.779 996.376,754.091 995.786,760.118 992.322,762.536 982.524,760.279 981.975,756.654" fill="#ff60c0"/>
<polygon points="1026.13,591.242 1029.89,593.662 1031.53,599.859 1029.77,604.86 1023.7,605.377 1019.77,598.571 1017.49,594.838 1020.65,590.754" fill="#ff40e0"/>
<polygon points="1027.03,509.778 1031.02,503.694 1038.29,505.91 1042.68,507.778 1045.57,515.99 1037.98,520.168 1034.24,520.745 1027.34,512.906" fill="#e048ff"/>
<polygon points="1006.61,646.491 1012.12,653.159 1012.6,658.967 1010.64,664.305 1008.02,664.948 1000.92,658.026 999.916,649.199 1001.67,645.814" fill="#e048ff"/>
<polygon points="920.744,495.174 926.057,495.763 931.542,499.608 934.334,506.463 931.465,512.358 925.029,511.859 918.335,508.541 916.666,503.05" fill="#ff2060"/>
<polygon points="1045.36,747.062 1046.64,750.092 1047.4,757.655 1045.49,761.86 1040.64,760.398 1038.21,756.102 1036.31,747.422 1038.51,744.345" fill="#ff40e0"/>
<polygon points="1005.66,684.946 1012.77,696.962 1009.14,701.79 1003.35,702.762 995.317,697.625 992.113,688.48 993.154,684.576 998.704,680.198" fill="#2030ff"/>
<polygon points="1012.98,478.4 1014.41,475.889 1022.44,478.105 1023.75,483.253 1024.18,487.293 1022.26,490.517 1015.64,488.868 1013.01,483.023" fill="#ffffff"/>
<polygon points="972.214,477.088 977.779,481.989 976.502,488.713 973.44,490.794 965.809,490.594 961.29,485.32 960.674,480.732 964.308,477.274" fill="#2030ff"/>
<polygon points="964.316,648.92 961.494,638.78 964.242,631.195 968.533,632.643 976.725,640.511 977.187,645.261 973.954,654.806 969.725,653.089" fill="#ff7030"/>
<polygon points="952.096,740.006 952.976,745.426 950.236,751.843 944.563,750.787 941.63,747.928 940.086,736.914 941.547,733.725 945.686,732.337" fill="#e048ff"/>
<polygon points="1025.16,446.651 1029.58,452.329 1030.4,455.051 1025.53,460.338 1019.78,460.118 1014.69,455.202 1013.44,450.386 1017.18,445.455" fill="#ffffff"/>
<polygon points="1026.96,507.063 1025.63,501.092 1027.65,493.357 1034.75,496.361 1038.62,501.281 1040,508.266 1040.29,513.832 1033.18,514.705" fill="#2030ff"/>
<polygon points="1056.42,644.657 1050.22,641.858 1047.01,632.441 1047.53,623.692 1049.42,620.905 1055.31,626.171 1059.23,634.267 1058.57,640.114" fill="#ff2a20"/>
<polygon points="987.438,568.649 984.327,573.144 978.459,573.905 971.581,571.416 970.795,564.522 973.393,559.589 979.924,559.963 984.054,563.035" fill="#ff5030"/>
<polygon points="987.742,697.624 987.276,691.904 991.956,689.525 996.879,691.337 1001.58,695.419 1000.87,700.309 997.95,704.435 992.385,703.154" fill="#ff5030"/>
<polygon points="960.669,616.292 959.607,612.185 960.606,607.19 965.9,604.259 970.408,608.984 972.535,614.712 971.303,620.237 967.542,620.89" fill="#ff2060"/>
<polygon points="958.88,664.464 959.913,661.413 965.054,659.348 967.928,661.248 970.74,668.15 969.984,673.052 966.543,674.135 960.51,671.774" fill="#ff2060"/>
<polygon points="980.289,763.312 974.863,764.9 970.613,763.154 966.016,751.927 966.346,745.612 971.585,742.397 976.713,746.266 981.073,754.711" fill="#70e0e0"/>
<polygon points="106.277,573.059 105.524,567.281 110.267,565.651 115.614,567.236 118.976,572.66 118.967,577.008 113.343,579.237 108.32,576.508" fill="#2030ff"/>
<polygon points="50.005,457.114 49.1704,452.703 50.7027,449.762 53.7475,449.624 56.7565,451.231 58.3094,456.761 56.4466,459.09 53.2608,460.1" fill="#ff8c40"/>
<polygon points="65.4219,490.79 66.051,485.359 67.1487,482.98 72.8825,485.293 74.247,490.381 75.4462,496.321 71.7581,498.671 69.6194,498.499" fill="#ff40e0"/>
<polygon points="103.808,518.486 102.555,513.64 105.005,508.268 107.232,509.585 111.06,511.652 113.611,517.125 113.145,521.931 108.507,523.569" fill="#ff5020"/>
<polygon points="119.897,520.724 118.228,519.331 114.199,514.034 114.578,510.047 117.481,508.867 120.665,508.94 122.977,513.032 123.538,517.057" fill="#70ff40"/>
<polygon points="64.4887,539.943 69.0956,540.867 72.3742,544.499 75.7311,550.419 72.7404,553.434 67.3812,553.881 65.281,551.555 62.7196,546.163" fill="#70ff40"/>
<polygon points="80.4972,566.062 80.4684,560.061 81.736,556.941 86.5456,558.211 92.0308,563.079 92.7267,566.349 90.1077,571.401 86.3491,571.379" fill="#ff5020"/>
<polygon points="104.055,544.805 106.802,546.599 106.855,552.467 104.636,554.574 98.8867,555.36 95.323,553.498 93.8635,547.948 96.4613,543.762" fill="#2030ff"/>
<polygon points="72.2534,552.851 80.5402,553.634 83.2371,558.1 86.0263,563.722 81.9781,569.282 75.0398,568.48 70.3019,562.158 70.6326,558.381" fill="#a0ff50"/>
<polygon points="64.4517,448.191 60.5394,441.542 61.7537,438.428 66.8871,437.072 71.6451,440.279 73.4055,444.095 72.1957,449.81 69.511,450.154" fill="#ff8c40"/>
<polygon points="60.7353,503.133 53.1117,495.255 53.1117,490.897 56.6041,486.72 63.4202,486.956 68.0472,492.771 67.3332,498.972 63.921,503.625" fill="#ff40e0"/>
<polygon points="128.383,556.235 124.699,553.068 122.219,548.219 122.647,541.503 125.876,539.84 131.349,542.908 133.182,549.016 132.045,553.961" fill="#ff8c40"/>
<polygon points="42.961,505.26 43.4413,500.435 47.716,500.754 51.567,505.733 52.2243,508.656 50.5287,513.636 45.4355,512.663 42.8402,507.508" fill="#ff5020"/>
<polygon points="110.339,463.196 114.076,463.265 119.975,470.293 118.562,474.056 115.341,477.951 110.736,475.738 105.454,470.763 106.129,465.353" fill="#ff5020"/>
<polygon points="89.5969,495.46 87.9696,498.509 84.2942,497.913 80.8031,495.241 78.3823,491.636 80.8081,488.428 83.2565,486.576 88.9599,491.295" fill="#d0a0f0"/>
<polygon points="130.106,519.532 129.037,522.797 123.904,522.653 119.013,520.154 118.698,515.69 119.09,511.013 126.222,511.293 128.201,514.684" fill="#ff7080"/>
<polygon points="134.566,548.975 131.999,546.639 126.47,541.794 126.443,536.277 129.792,533.179 134.639,534.217 138.715,538.255 140.111,544.039" fill="#ff8c40"/>
<polygon points="128.081,507.628 127.222,515.299 125.192,516.996 119.818,513.698 119.339,509.792 118.661,502.912 121.23,502.187 125.254,504.332" fill="#ffc020"/>
<polygon points="63.1481,462.073 57.8598,458.892 56.5783,452.754 57.684,446.453 62.7326,447.949 67.0755,449.984 69.1556,457.079 68.0901,461.273" fill="#ff7080"/>
<polygon points="101.359,452.145 101.912,455.722 99.0295,459.654 96.4343,459.634 93.0731,455.436 90.587,452.199 92.9853,447.613 96.9811,447.443" fill="#d0a0f0"/>
<polygon points="129.066,476.328 125.349,477.016 120.312,473.256 118.345,469.104 118.64,463.808 121.828,462.816 126.205,465.15 129.165,471.646" fill="#d0a0f0"/>
<polygon points="118.912,565.883 122.259,571.352 118.904,574.815 114.164,573.893 110.781,572.163 110.371,566.197 110.999,564.323 116.742,564.159" fill="#ff8c40"/>
<polygon points="142.757,519.732 138.385,516.112 133.288,511.077 133.571,501.428 139.106,499.68 143.73,502.941 147.96,512.289 145.837,515.907" fill="#2030ff"/>
<polygon points="39.3318,478.106 42.8395,473.97 45.6582,473.541 50.4323,483.298 50.4313,490.009 47.2029,490.56 42.9861,489.911 38.274,480.337" fill="#ff40e0"/>
<polygon points="70.1654,507.47 72.9964,510.546 75.8899,517.361 72.019,522.498 68.0868,519.031 64.8272,515.905 64.2938,510.855 66.7678,505.802" fill="#ff7080"/>
<polygon points="59.6298,461.152 59.2559,465.912 54.9099,466.799 51.9054,467.78 47.257,461.648 47.0223,456.103 50.3427,455.135 54.6386,454.64" fill="#ff7080"/>
<polygon points="78.2558,549.871 78.3412,543.179 80.4194,540.557 86.0663,541.53 91.2512,545.443 93.2004,550.034 89.3088,554.122 83.4156,554.532" fill="#ff8c40"/>
<polygon points="99.2551,493.614 95.745,495.789 92.689,494.878 89.5384,492.166 89.7825,487.606 92.6306,483.716 96.4266,484.911 99.0819,489.769" fill="#a0ff50"/>
<polygon points="57.1375,509.707 57.5776,503.698 60.8698,500.256 65.4456,503.633 67.9555,506.87 67.1365,515.003 64.0665,517.224 60.7785,515.355" fill="#ff8c40"/>
<polygon points="128.222,492.915 133.309,493.745 136.076,495.449 136.686,503.51 135.028,506.109 131.232,505.26 126.598,499.977 126.982,494.299" fill="#2030ff"/>
<polygon points="103.318,475.035 96.7319,473.752 92.7218,469.437 94.299,466.399 98.4302,462.885 103.984,464.07 107.64,467.831 107.01,473.177" fill="#ff8c40"/>
<polygon points="111.719,552.892 117.577,550.575 122.145,553.751 124.692,557.919 122.358,562.708 118.597,564.33 114.087,561.056 111.349,556.191" fill="#ff8c40"/>
<polygon points="120.904,549.184 124.869,548.453 129.183,553.772 129.29,558.718 128.966,562.765 125.245,561.975 121.675,557.939 119.088,553.98" fill="#ffc020"/>
<polygon points="107.966,476.981 113.753,482.871 115.492,487.736 113.976,493.967 110.679,495.553 106.41,491.07 103.82,482.688 104.472,478.616" fill="#ff40e0"/>
<polygon points="120.428,538.019 118.237,531.418 119.734,526.544 123.422,526.379 128.839,531.796 129.304,537.55 128.205,542.264 124.512,541.192" fill="#ff7080"/>
<polygon points="110.663,501.549 106.226,493.04 106.32,489.019 110.423,486.854 115.24,487.805 117.956,492.847 117.688,498.995 114.376,501.291" fill="#ffc020"/>
<polygon points="131.069,504.942 132.194,502.414 137.906,503.714 139.607,506.361 140.821,510.378 139.692,514.592 134.324,514.526 131.669,510.182" fill="#ff7080"/>
<polygon points="64.3405,503.849 60.4098,501.698 59.4318,498.278 58.7313,495.036 62.4566,493.08 67.1667,494.078 69.1237,499.509 68.2727,503.846" fill="#70ff40"/>
<polygon points="90.343,494.434 96.0833,493.159 98.8606,495.594 99.8698,501.642 97.8393,505.186 94.2743,505.579 90.1142,502.121 88.6919,497.659" fill="#ff7080"/>
<polygon points="97.1792,579.37 93.6952,577.106 88.2447,570.713 88.2851,563.782 93.4129,562.532 97.5984,564.34 99.0515,567.567 101.773,573.861" fill="#ff8c40"/>
<polygon points="132.344,534.746 128.732,530.938 130.63,524.467 136.206,524.187 140.947,525.736 144.546,529.677 141.452,535.765 137.04,537.538" fill="#70ff40"/>
<polygon points="48.69,496.352 52.4186,495.477 58.4389,499.822 60.5903,503.91 57.2813,506.322 51.5602,507.733 45.6955,504.897 44.9912,500.499" fill="#ff8c40"/>
<polygon points="99.3392,558.93 95.2894,552.419 94.394,549.459 97.8425,547.59 102.572,549.444 104.441,553.315 104.282,556.076 102.061,559.633" fill="#ff40e0"/>
<polygon points="58.0649,501.157 60.5833,502.436 62.8135,507.21 60.6408,511.203 55.5204,511.434 51.1742,509.259 50.5159,503.8 50.4043,500.684" fill="#ff40e0"/>
<polygon points="63.8067,452.686 67.8472,450.722 71.0273,452.904 74.6256,459.765 74.8215,463.312 71.4532,466.092 67.959,466.168 64.4605,457.669" fill="#5030ff"/>
<polygon points="96.8193,520.887 96.0955,517.283 97.9487,513.019 101.109,511.649 107.232,513.024 109.303,515.917 109.834,520.947 103.255,523.28" fill="#a0ff50"/>
<polygon points="132.55,516.206 136.007,520.636 137.527,525.867 137.178,530.455 134.643,531.053 129.224,527.535 127.607,521.781 128.487,518.718" fill="#70ff40"/>
<polygon points="56.2009,485.992 59.7172,492.566 56.4566,498.203 52.2339,499.365 47.1403,495.329 46.5876,491.029 48.1313,485.13 53.2422,482.634" fill="#70ff40"/>
<polygon points="112.363,572.589 107.891,572.597 105.596,569.397 102.2,560.399 102.972,554.776 106.598,555.266 109.902,558.595 113.792,564.544" fill="#ffc020"/>
<polygon points="125.932,542.775 130.778,540.249 134.197,541.011 137.946,547.984 138.024,551.965 134.473,554.944 128.296,553.689 126.708,548.105" fill="#ff8c40"/>
<polygon points="90.2508,451.391 88.75,454.505 83.7299,455.757 80.2123,451.472 79.5853,448.404 80.6025,443.857 86.6485,445.748 89.9534,447.971" fill="#a0ff50"/>
<polygon points="112.621,472.924 117.55,469.72 119.695,471.215 126.116,476.283 125.038,480.679 123.043,481.548 117.891,482.201 114.376,478.841" fill="#a0ff50"/>
<polygon points="52.6303,496.203 50.8264,499.858 46.2682,496.124 44.4183,494.15 42.6694,489.477 44.8352,484.976 50.2259,487.17 52.173,489.711" fill="#ff5020"/>
<polygon points="71.3992,477.593 70.8129,473.856 72.1556,471.365 78.7976,471.169 82.3185,472.604 84.7975,477.039 82.8318,481.582 76.6422,481.414" fill="#ff5020"/>
<polygon points="84.5472,552.765 78.3429,552.454 73.1666,548.781 71.2786,541.434 75.1782,538.412 78.3654,538.986 85.5174,543.984 86.3581,547.56" fill="#2030ff"/>
<polygon points="88.7525,525.742 92.5062,533.723 90.24,538.16 88.4621,541.257 82.9694,538.892 78.6632,530.617 81.2447,526.029 84.0834,522.576" fill="#a0ff50"/>
<polygon points="128.961,530.591 123.18,526.389 120.249,522.173 123.457,516.412 126.414,515.848 133.264,517.778 136.268,524.877 131.782,530.029" fill="#a0ff50"/>
<polygon points="104.031,541.897 100.434,537.368 100.864,531.257 108.336,529.77 112.207,532.186 115.975,537.421 112.696,544.006 108.129,546.248" fill="#70ff40"/>
<polygon points="100.31,456.072 98.6215,454.151 98.4422,448.525 101.231,445.125 104.204,446.77 107.516,449.721 107.773,457.801 105.915,458.854" fill="#ffc020"/>
<polygon points="78.7219,563.515 73.5075,560.612 69.8397,551.286 73.2238,547.199 75.8601,546.48 80.3317,550.379 83.6573,557.321 82.7692,562.314" fill="#ff5020"/>
<polygon points="73.9466,486.117 71.8495,487.984 67.6638,483.205 65.1323,477.454 65.4387,471.019 68.501,469.997 71.3628,472.872 75.2342,482.534" fill="#5030ff"/>
<polygon points="93.09,524.479 92.3326,530.076 89.7396,532.917 85.121,530.715 83.7919,525.855 83.1289,519.487 85.4604,518.587 90.462,518.88" fill="#2030ff"/>
<polygon points="138.568,528.319 135.458,522.263 137.267,519.155 139.06,516.519 145.39,519.666 147.536,522.959 147.012,528.946 142.124,530.611" fill="#a0ff50"/>
<polygon points="119.123,510.06 113.17,506.122 111.86,498.201 114.756,494.398 118.016,492.093 123.447,495.358 124.713,504.002 124.7,509.334" fill="#70ff40"/>
<polygon points="69.8782,490.658 63.2462,488.309 60.8601,482.225 63.0114,478.245 65.3841,476.947 71.4202,479.357 76.4289,484.874 75.4174,489.095" fill="#a0ff50"/>
<polygon points="65.16,463.339 67.2503,461.548 71.3202,462.575 72.9817,466.349 74.105,470.595 70.9783,472.677 66.7864,470.485 64.0965,468.221" fill="#d0a0f0"/>
<polygon points="38.3664,464.471 43.6118,462.202 46.7705,464.608 50.3448,469.234 50.6478,474.322 45.4392,475.294 41.6147,473.104 37.9647,468.183" fill="#70ff40"/>
<polygon points="89.8031,545.48 91.1096,542.485 95.1047,540.595 99.1512,544.096 100.278,547.491 99.2985,553.419 96.6143,553.882 93.3123,552.758" fill="#ff8c40"/>
<polygon points="116.765,490.845 113.454,489.041 113.214,482.92 114.266,481.172 121.885,480.569 124.171,482.024 126.117,489.294 123.114,491.722" fill="#70ff40"/>
<polygon points="47.0206,442.974 48.0891,448.121 46.8173,450.551 43.0763,453.018 40.5953,448.589 38.7593,442.325 39.2553,436.731 43.2378,438.341" fill="#ff40e0"/>
<polygon points="70.0848,523.463 66.5367,526.752 63.1806,527.998 59.0275,521.821 58.0064,517.873 60.1605,515.468 65.8334,516.35 68.5176,519.518" fill="#a0ff50"/>
<polygon points="120.23,499.433 116.755,498.148 112.472,492.795 109.354,487.129 113.264,482.439 119.736,483.562 123.406,486.999 123.86,495.727" fill="#ff7080"/>
<polygon points="104.924,548.7 101.514,544.694 99.45,536.954 100.333,534.632 104.205,533.421 107.858,537.425 109.163,541.953 107.365,547.662" fill="#ff7080"/>
<polygon points="107.792,533.326 107.847,538.413 104.935,539.908 98.0817,537.433 96.1913,533.916 97.7074,529.078 100.277,527.658 105.769,529.994" fill="#ff7080"/>
<polygon points="146.935,520.767 140.819,520.776 137.65,519.186 134.878,513.412 134.351,506.315 138.595,504.107 144.837,507.758 147.288,514.305" fill="#ff5020"/>
<polygon points="49.7858,481.488 48.2564,478.517 48.8479,473.867 50.1513,471.002 54.8739,470.944 58.9972,477.2 58.6698,478.856 57.3756,483.078" fill="#ff8c40"/>
<polygon points="80.3542,512.25 81.6177,516.382 79.9429,522.856 76.2892,522.218 71.6844,518.261 69.1783,512.781 71.8038,510.857 76.0687,509.043" fill="#ff5020"/>
<polygon points="71.5252,492.537 76.5408,492.709 80.6213,494.421 82.6379,501.434 80.7897,502.908 76.3088,504.959 70.3754,500.753 69.1745,496.024" fill="#a0ff50"/>
<polygon points="120.578,535.124 121.905,532.562 128.359,535.128 131.637,542.568 130.424,548.151 126.443,548.611 119.418,545.279 118.81,540.943" fill="#ffc020"/>
<polygon points="48.4863,509.504 54.3595,510.586 56.724,516.315 57.7993,519.365 54.1877,523.314 50.3331,521.229 47.4084,517.248 46.4542,513.299" fill="#ff7080"/>
<polygon points="83.527,462.523 82.4784,457.193 83.7825,454.841 89.7082,455.167 92.3855,457.338 94.3436,464.642 91.1789,466.383 87.2289,466.906" fill="#ff5020"/>
<polygon points="82.9901,538.117 80.6535,539.628 75.835,537.269 73.8843,532.193 76.126,527.187 80.8094,528.024 86.0489,530.917 85.9801,535.706" fill="#ff7080"/>
<polygon points="77.79,524.752 75.4264,531.579 70.4012,530.104 67.2141,526.372 65.7858,520.323 66.6955,515.056 72.0232,515.474 76.1364,520.503" fill="#2030ff"/>
<polygon points="98.0486,523.455 99.0413,530.149 96.718,531.922 92.9924,531.898 89.837,527.723 87.1808,521.152 89.9718,515.133 94.9888,517.293" fill="#ff7080"/>
<polygon points="131.967,498.635 126.716,496.95 123.576,494.427 123.409,489.261 123.5,486.635 130.178,487.577 133.085,491.15 135.058,493.711" fill="#a0ff50"/>
<polygon points="123.426,532.755 119.521,533.768 115.023,530.42 112.111,520.614 112.755,516.812 117.055,516.105 122.399,522.091 123.226,528.143" fill="#d0a0f0"/>
<polygon points="43.279,491.611 48.364,494.829 49.5091,502.732 46.9369,504.403 43.0889,505.598 36.9388,499.925 37.8323,493.824 38.0209,491.078" fill="#a0ff50"/>
<polygon points="120.803,481.199 118.55,475.105 121.308,471.129 129.685,471.469 131.33,475.515 134.38,482.078 129.139,486.459 123.328,484.648" fill="#ff5020"/>
<polygon points="76.3099,503.127 79.6795,499.008 82.9737,496.501 88.1779,502.308 90.4164,509.632 86.9303,513.454 84.1416,512.931 78.4774,507.563" fill="#ff7080"/>
<polygon points="52.8519,490.67 45.4821,483.136 45.4438,480.275 47.3385,475.14 55.7541,476.817 59.6184,481.355 60.4483,486.945 55.6931,491.081" fill="#ffc020"/>
<polygon points="53.3904,462.849 53.4228,467.057 49.4491,466.983 45.3737,465.99 43.1369,460.549 43.9079,455.224 49.3013,456.345 51.3383,458.157" fill="#ff7080"/>
<polygon points="136.833,540.58 134.684,535.071 138.611,529.52 143.223,529.703 148.932,536.1 149.565,539.736 147.603,544.629 143.609,546.781" fill="#ff8c40"/>
<polygon points="109.392,506.253 111.344,512.998 107.488,516.222 103.041,516.55 98.0892,510.787 98.539,504.864 101.54,501.703 105.512,504.033" fill="#2030ff"/>
<polygon points="85.6828,487.02 86.6933,493.565 82.7374,496.244 76.6752,494.094 73.5907,489.534 73.4489,486.279 75.7425,483.846 81.6247,484.678" fill="#2030ff"/>
<polygon points="109.488,559.489 111.719,556.63 117.662,556.457 122.68,560.385 124.215,562.876 120.485,569.192 116.037,569.768 109.302,564.817" fill="#ffc020"/>
<polygon points="91.1091,567.218 89.6702,563.315 92.6092,556.736 96.2275,558.67 99.6128,561.761 102.413,570.927 98.9832,574.866 96.8956,575.319" fill="#ff5020"/>
<polygon points="114.778,556.072 112.66,562.14 111.72,564.593 104.466,559.277 102.077,553.483 101.565,549.364 106.966,545.929 111.115,548.03" fill="#d0a0f0"/>
<polygon points="127.55,496.926 131.55,501.122 131.713,504.517 128.358,507.31 122.539,505.766 120.497,502.451 120.551,498.313 124.511,494.798" fill="#5030ff"/>
<polygon points="80.7556,559.357 80.7804,552.948 83.0924,549.773 89.2602,553.983 91.474,557.594 91.7253,562.722 88.9019,565.332 84.82,564.999" fill="#d0a0f0"/>
<polygon points="116.109,524.466 119.942,525.861 123.25,531.243 124.876,535.451 122.72,538.181 115.707,537.34 114.043,533.64 113.186,529.522" fill="#ff40e0"/>
<polygon points="78.6129,479.975 81.5891,476.944 85.5145,477.098 89.8928,481.211 92.1669,484.848 87.9764,490.474 84.38,489.158 79.4833,485.079" fill="#ffc020"/>
<polygon points="102.685,524.734 105.129,520.789 111.07,524.663 112.563,527.913 114.586,534.447 110.238,537.229 106.613,536.386 102.658,528.46" fill="#a0ff50"/>
<polygon points="125.917,478.873 126.626,476.723 133.165,474.252 136.548,477.585 138.934,483.496 139.186,487.426 132.036,489.401 127.918,486.92" fill="#ff40e0"/>
<polygon points="96.7575,524.122 94.8547,518.186 96.4883,512.877 99.5264,514.329 106.292,517.625 107.143,524.419 105.872,529.943 100.755,530.486" fill="#2030ff"/>
<polygon points="47.1703,466.769 51.6373,469.334 56.548,474.605 55.0771,478.91 52.2817,480.587 45.5862,479.991 41.4184,473.123 43.134,469.344" fill="#5030ff"/>
<polygon points="67.7839,467.756 67.4814,470.298 63.0061,472.393 57.5751,471.692 53.8338,464.268 53.8136,458.515 57.354,458.209 63.789,461.524" fill="#ffc020"/>
<polygon points="87.4685,452.468 91.3189,451.9 96.3496,453.941 100.075,460.825 97.5144,466.8 95.1184,468.888 88.5879,466.23 86.41,457.609" fill="#ff8c40"/>
<polygon points="91.1437,537.493 90.9101,532.081 95.5972,530.785 98.8627,531.899 100.226,537.865 99.7116,545.651 95.9542,547.355 91.8892,541.871" fill="#5030ff"/>
<polygon points="89.5605,503.184 92.7785,501.394 100.764,505.592 103.921,513.745 100.782,518.277 97.2918,519.565 90.9237,514.371 88.5819,509.515" fill="#ffc020"/>
<polygon points="72.4911,479.17 74.9462,473.532 79.5423,474.359 83.9745,478.435 84.6098,487.185 82.9005,489.502 80.5612,492.497 73.4968,484.827" fill="#ffc020"/>
<polygon points="105.174,524.355 107.166,520.045 110.003,518.593 115.241,524.539 114.925,529.208 113.579,532.833 109.944,533.213 106.415,529.334" fill="#ff5020"/>
<polygon points="87.4014,451.197 86.4553,455.132 83.7787,459.242 78.0194,457.249 74.578,454.604 74.4279,448.895 76.3614,444.956 80.9188,442.976" fill="#ff5020"/>
<polygon points="89.0449,470.189 90.7662,473.057 93.5283,479.341 91.8309,480.687 85.7326,480.838 81.1598,477.326 80.754,473.443 81.667,471.911" fill="#70ff40"/>
<polygon points="62.4794,472.632 56.6502,474.982 53.8049,473.45 48.4477,468.775 49.5886,461.848 51.9933,459.826 57.1909,461.162 60.9572,464.906" fill="#ff7080"/>
<polygon points="105.689,579.876 101.751,580.72 97.2946,576.271 93.2007,566.521 96.2306,563.718 99.6232,562.842 106.305,567.286 108.067,573.743" fill="#a0ff50"/>
<polygon points="92.4221,481.518 94.3571,472.28 97.5683,474.278 103.687,476.67 106.868,481.915 104.928,488.702 100.959,491.293 95.1943,486.311" fill="#ff7080"/>
<polygon points="94.4149,551.255 97.6473,557.222 97.6103,562.856 94.7185,566.904 88.1863,563.867 86.5881,559.626 86.4796,551.582 89.6572,548.787" fill="#2030ff"/>
<polygon points="131.513,492.795 128.542,492.878 123.011,486.025 121.803,478.637 124.796,475.681 126.257,474.576 130.822,479.575 133.816,488.63" fill="#ff5020"/>
<polygon points="95.4927,504.071 92.3133,509.004 85.1838,507.215 82.7545,502.422 81.917,494.599 84.8995,492.724 90.2567,493.899 95.8258,498.026" fill="#d0a0f0"/>
<polygon points="68.9739,522.098 65.0454,524.021 59.6576,524.242 57.0579,518.607 56.9092,513.063 58.3627,510.316 64.1966,512.318 69.7648,518.66" fill="#ff8c40"/>
<polygon points="73.0614,535.164 77.1066,534.228 80.2614,538.48 83.4709,548.072 81.2128,549.577 78.436,551.719 74.9613,546.671 72.3719,538.673" fill="#d0a0f0"/>
<polygon points="108.6,494.571 111.002,494.004 114.703,494.497 116.724,499.059 116.865,502.755 113.977,507.174 111.211,505.645 107.674,499.935" fill="#ff8c40"/>
<polygon points="105.446,503.047 110.871,502.676 112.808,505.184 115.38,509.466 112.987,513.33 109.998,514.232 106.432,511.689 104.731,506.618" fill="#ff7080"/>
<polygon points="125.619,542.693 121.661,545.681 117,543.076 113.963,539.716 113.289,534.698 118.319,531.792 121.055,533.238 126.735,536.934" fill="#ff8c40"/>
<polygon points="70.1553,442.792 77.1148,447.548 78.7351,454.502 76.2848,458.199 71.4464,458.636 69.7424,456.524 66.0422,450.524 67.4143,440.932" fill="#ff7080"/>
<polygon points="144.925,537.117 139.842,538.234 134.843,534.885 134.327,529.539 136.53,524.698 139.063,523.315 145.597,527.83 146.67,534.071" fill="#ff7080"/>
<polygon points="93.3318,484.929 88.3946,483.138 85.396,474.99 86.8823,469.427 89.2174,468.655 94.0165,471.48 96.2411,477.354 96.1353,484.923" fill="#d0a0f0"/>
<polygon points="62.6643,491.638 68.7757,491.548 73.4434,495.132 75.4386,499.84 71.4533,503.613 67.8438,505.903 62.9974,503.265 60.6799,496.929" fill="#ff8c40"/>
<polygon points="75.5932,458.382 77.8577,458.207 82.1221,461.291 84.6452,468.248 83.3431,472.097 80.0889,474.418 76.0063,470.918 72.643,461.449" fill="#5030ff"/>
<polygon points="73.3593,537.878 75.3356,542.79 73.4098,546.118 69.0353,546.876 64.9419,542.368 63.9268,540.105 67.3616,536.118 68.9879,534.309" fill="#ffc020"/>
<polygon points="97.5619,463.784 96.4571,459.782 97.4419,456.538 102.794,456.601 107.91,461.558 108.012,465.801 105.493,467.436 100.006,467.46" fill="#70ff40"/>
<polygon points="102.825,556.379 105.339,558.38 108.686,563.836 107.843,569.381 106.609,570.536 100.882,569.774 97.8107,562.565 99.3377,558.98" fill="#ff5020"/>
<polygon points="82.576,518.736 84.7559,526.919 83.4907,531.945 79.526,532.436 76.072,529.488 73.8226,522.604 74.9488,518.869 78.8202,517.179" fill="#ff5020"/>
<polygon points="97.9411,478.713 97.1535,473.78 98.4065,471.745 102.537,470.042 106.434,472.817 109.106,476.881 105.49,482.364 100.915,480.352" fill="#ff8c40"/>
<polygon points="58.9064,472.842 60.887,472.577 66.438,474.403 69.2792,479.073 68.0047,484.499 64.3393,486.753 59.0672,484.286 56.89,477.165" fill="#70ff40"/>
<polygon points="109.21,465.949 115.606,473.73 116.613,477.779 114.208,481.517 110.486,482.876 104.441,478.007 104.138,472.354 106.297,467.52" fill="#a0ff50"/>
<polygon points="117.311,472.121 113.118,470.086 112.399,463.173 113.19,457.09 118.468,459.068 120.444,459.868 123.183,467.798 121.795,471.424" fill="#ff40e0"/>
<polygon points="96.1819,514.065 96.9308,520.8 95.9032,522.958 90.5196,524.9 87.7691,521.108 86.1391,515.267 87.718,511.947 92.6935,511.526" fill="#d0a0f0"/>
<polygon points="114.956,461.925 113.948,469.027 110.638,469.031 107.33,466.247 104.667,461.046 105.999,457.732 108.671,456.355 113.828,459.427" fill="#a0ff50"/>
<polygon points="66.2952,445.134 64.6983,447.223 60.5334,446.952 56.9668,443.16 55.7972,439.632 58.7276,434.928 62.1714,435.716 66.9994,440.318" fill="#ff7080"/>
<polygon points="83.3805,473.592 80.4009,465.436 84.4556,460.096 86.9439,458.763 92.7705,466.547 93.5988,469.921 90.3693,476.324 86.5299,476.762" fill="#d0a0f0"/>
<polygon points="102.919,492.643 106.91,497.999 107.076,501.809 103.31,505.486 96.255,503.669 93.7627,499.503 93.2581,494.483 100.021,491.46" fill="#ff40e0"/>
<polygon points="63.8471,474.906 68.001,479.766 71.8205,483.644 69.7932,490.214 63.8564,490.325 60.8129,489.574 57.9032,482.164 58.258,477.597" fill="#ff5020"/>
<polygon points="90.7552,544.97 88.6355,548.553 85.5433,548.202 79.6268,537.791 81.1394,532.753 81.8725,530.389 86.5743,531.332 91.5525,536.581" fill="#70ff40"/>
<polygon points="71.317,511.648 64.9118,511.473 61.3333,507.967 60.431,504.132 64.4043,501.796 67.8425,502.329 72.551,504.848 74.1353,510.001" fill="#a0ff50"/>
<polygon points="66.134,560.047 66.3509,552.706 68.255,550.061 74.0142,553.947 76.6625,559.729 74.7019,565.075 73.553,566.387 69.8373,566.733" fill="#ff8c40"/>
<polygon points="64.3622,434.788 66.8689,443.202 63.6402,445.438 60.6935,444.28 56.3355,440.83 54.2765,435.608 57.994,431.079 62.3912,431.243" fill="#ff7080"/>
<polygon points="68.0862,465.585 64.3293,466.588 59.4859,465.417 56.9413,462.524 58.0071,456.212 59.37,454.765 64.6275,455.576 66.5938,458.185" fill="#ff8c40"/>
<polygon points="58.2215,445.815 54.9246,448.472 48.5568,449.019 44.3319,444.512 45.4186,436.918 48.0499,435.879 55.0256,436.225 57.8116,442.603" fill="#70ff40"/>
<polygon points="60.2573,536.051 57.7997,531.23 58.5149,524.675 61.8109,523.712 66.1807,527.374 67.1311,532.841 66.6372,536.155 64.1412,538.141" fill="#ff8c40"/>
<polygon points="139.036,507.765 136.188,500.192 136.059,494.529 139.419,492.234 143.777,495.188 146.26,501.072 145.382,507.473 142.665,510.299" fill="#a0ff50"/>
<polygon points="84.4671,441.689 86.5228,449.207 85.5919,452.581 80.9281,454.643 74.3835,449.687 74.5304,445.592 75.7354,437.588 81.2475,438.037" fill="#70ff40"/>
<polygon points="112.639,555.556 106.31,553.334 101.647,547.129 102.659,542.858 107.5,539.772 110.12,540.254 113.725,546.733 114.255,554.542" fill="#2030ff"/>
<polygon points="74.5178,457.585 77.4101,455.404 82.8247,455.724 84.669,460.913 85.0935,464.689 80.3963,466.311 78.211,465.92 73.2712,462.193" fill="#ff8c40"/>
<polygon points="137.64,517.831 133.671,521.138 128.835,518.799 126.611,514.725 126.28,508.988 129.917,506.85 133.81,508.022 139.219,513.902" fill="#2030ff"/>
<polygon points="78.5576,514.314 76.922,515.762 71.3451,510.009 69.8759,506.317 72.2586,500.873 76.3014,499.517 80.2464,503.975 81.2376,510.924" fill="#5030ff"/>
<polygon points="113.705,541.603 119.886,544.515 124.641,549.377 124.519,554.274 119.442,559.293 116.537,558.266 110.438,553.168 112.038,545.692" fill="#ff7080"/>
<polygon points="114.089,503.879 119.453,500.479 125.401,504.009 126.722,507.575 127.071,515.014 122.884,517.007 115.894,514.351 113.255,511.722" fill="#ff8c40"/>
<polygon points="98.1888,526.741 99.3715,533.111 98.0326,535.405 95.1039,537.935 88.2139,533.114 86.4098,528.948 89.2935,523.818 91.7591,522.069" fill="#ff5020"/>
<polygon points="53.3906,441.819 48.3971,438.669 46.3775,433.908 48.2818,431.499 55.1917,431.527 57.3185,433.258 59.4118,438.92 57.9105,441.34" fill="#ff7080"/>
<polygon points="96.0473,490.888 89.6517,487.561 88.3847,482.054 90.658,480.327 96.7103,477.535 101.359,481.794 101.833,488.2 100.526,489.62" fill="#ff8c40"/>
<polygon points="96.795,475.707 93.8809,475.862 89.4755,467.077 87.8125,462.618 89.8832,458.676 94.7093,459.599 97.984,464.892 100.578,472.334" fill="#d0a0f0"/>
<polygon points="86.0756,522.056 82.135,521.734 76.8968,512.712 77.297,508.861 83.2349,506.054 88.9931,510.963 92.0602,515.129 91.4694,520.304" fill="#ff5020"/>
<polygon points="137.016,545.99 137.267,542.237 140.638,541.17 145.354,542.658 149.358,546.424 147.544,552.75 144.703,553.029 139.953,550.835" fill="#2030ff"/>
<polygon points="46.5703,460.592 44.5733,460.261 40.2036,458.335 38.1937,451.171 40.7778,447.549 44.902,447.952 47.442,449.577 49.285,456.592" fill="#a0ff50"/>
<polygon points="101.887,481.352 107.487,485.031 109.409,491.112 110.118,493.793 106.905,497.292 102.601,497.615 97.7552,489.075 96.2301,485.931" fill="#ff5020"/>
<polygon points="136.573,498.697 133.605,496.418 132.04,491.095 133.61,487.251 136.871,488.11 139.839,490.769 141.088,493.094 139.639,498.364" fill="#ff5020"/>
<polygon points="67.754,522.409 72.5929,525.523 75.863,528.696 75.7098,532.85 72.2918,535.736 68.5417,534.982 64.1962,529.327 65.6209,526.24" fill="#ff5020"/>
<polygon points="87.042,387.681 89.8804,383.935 93.4382,383.853 96.0117,383.92 98.8335,387.82 97.1142,391.522 92.4364,392.407 90.1415,390.842" fill="#4060ff"/>
<polygon points="100.002,382.75 98.2233,380.51 96.4618,374.709 96.9444,370.957 99.7022,371.204 102.415,373.531 104.425,376.701 103.456,381.442" fill="#a0a0ff"/>
<polygon points="93.1516,374.583 88.0933,372.075 87.1271,368.407 88.8084,363.677 90.8548,363.265 94.5952,366.234 96.6447,368.876 95.6656,372.699" fill="#2030ff"/>
<polygon points="109.559,361.47 110.678,364.217 110.482,367.24 107.27,367.07 104.53,365.173 103.721,361.28 104.187,359.31 106.965,359.236" fill="#2030ff"/>
<polygon points="84.5223,363.391 82.2446,358.618 82.2902,352.432 85.3639,350.574 87.6459,351.864 90.4894,358.915 89.8037,360.776 86.8902,364.658" fill="#60ff40"/>
<polygon points="86.0558,396.441 87.349,395.364 91.8648,395.921 94.0961,399.079 94.623,403.597 91.5837,404.947 87.8752,404.578 86.5921,401.951" fill="#4060ff"/>
<polygon points="100.961,343.075 102.27,339.976 106.086,340.643 107.972,343.918 109.214,349.862 108.029,350.985 105.038,351.238 102.765,347.602" fill="#2030ff"/>
<polygon points="100.624,395.185 100.663,392.889 104.127,391.964 106.134,392.872 108.201,398.435 106.803,400.279 105.512,401.85 102.475,399.758" fill="#60ff40"/>
<polygon points="96.9194,357.235 97.8055,359.468 98.9057,363.61 96.4789,364.604 93.8045,364.465 91.0242,361.503 91.035,357.005 92.9164,355.694" fill="#c0ff40"/>
<polygon points="96.6871,383.667 96.3755,380.336 98.9885,378.681 100.136,378.739 103.201,384.498 103.726,388.878 101.312,389.893 98.2887,387.486" fill="#4060ff"/>
<polygon points="103.166,363.761 103.896,368.581 100.634,368.999 97.4626,367.78 96.2196,362.922 96.7651,360.261 99.9488,358.987 102.506,360.996" fill="#4060ff"/>
<polygon points="99.478,410.69 97.1825,409.322 95.3236,404.334 96.79,400.3 99.0926,400.3 103.23,403.976 103.721,407.683 103.502,409.278" fill="#60ff40"/>
<polygon points="79.8583,354.838 78.7746,348.023 80.7777,346.781 83.854,348.149 87.5398,351.888 87.7023,354.917 84.3727,358.633 80.9443,355.958" fill="#60ff40"/>
<polygon points="99.0874,364.279 97.9993,361.911 97.9117,357.992 99.4633,355.841 104.03,357.23 105.31,360.446 104.812,363.841 102.484,366.035" fill="#4060ff"/>
<polygon points="98.927,386.717 95.8032,388.605 91.4725,385.48 90.5409,381.631 90.2635,379.334 93.8449,377.805 97.1212,380.919 99.892,385.411" fill="#60ff40"/>
<polygon points="105.646,365.377 101.814,362.362 100.026,359.07 100.69,353.675 104.25,353.21 105.878,353.272 109.165,357.372 109.471,361.072" fill="#60ff40"/>
<polygon points="102.488,405.692 97.5552,405.924 95.8264,403.817 94.5138,399.086 94.9416,396.018 99.5449,396.864 101.846,398.441 103.675,402.37" fill="#2030ff"/>
<polygon points="101.419,382.841 101.548,380.149 103.889,379.93 107.411,381.595 109.642,386.731 108.036,387.843 105.346,389.679 102.936,387.311" fill="#2030ff"/>
<polygon points="99.1266,370.439 100.704,368.838 104.141,367.566 107.062,369.79 108.742,372.246 107.519,375.877 103.611,377.503 100.013,374.108" fill="#4060ff"/>
<polygon points="105.538,395.222 105.021,399.936 102.713,400.826 99.5424,401.235 95.3481,396.721 95.2061,394.372 97.7099,390.882 102.12,391.775" fill="#60ff40"/>
<polygon points="88.7488,399.706 84.9042,396.051 85.349,392.752 87.1931,390.68 89.0692,390.507 92.947,394.742 93.5374,397.87 91.0135,399.28" fill="#4060ff"/>
<polygon points="84.1606,343.384 86.0552,342.275 89.7696,345.247 91.5472,347.256 90.334,351.059 87.4569,352.215 83.3858,349.367 81.4948,347.456" fill="#60ff60"/>
<polygon points="81.9113,388.626 84.6972,384.781 87.0347,384.583 90.8183,386.961 92.1139,388.932 91.1103,392.986 88.7679,394.031 82.8354,391.199" fill="#2030ff"/>
<polygon points="96.3115,383.848 91.3163,379.559 90.9448,375.384 92.624,372.482 97.3075,372.829 99.1047,375.428 100.692,379.559 99.0116,383.873" fill="#2030ff"/>
<polygon points="91.9412,361.293 87.8114,358.841 86.133,356.854 84.9401,351.66 87.0693,348.745 91.2496,348.886 94.157,354.787 94.8417,356.8" fill="#a0a0ff"/>
<polygon points="97.236,347.044 100.692,348.311 103.682,352.545 102.959,358.264 100.526,358.555 97.4808,357.387 94.8448,351.639 94.7941,348.557" fill="#60ff40"/>
<polygon points="90.9682,398.541 92.7608,396.119 96.0522,398.207 97.9422,404.418 97.3255,406.659 93.9769,408.551 91.1331,405.351 89.9788,401.499" fill="#40c0ff"/>
<polygon points="85.2766,358.435 89.7569,360.542 90.8773,365.616 90.7208,369.663 86.7908,369.941 85.3954,368.204 83.0947,363.369 83.8806,359.172" fill="#2030ff"/>
<polygon points="98.0583,405.133 98.8134,410.439 98.1905,411.777 94.3602,411.967 92.529,409.411 90.6398,404.164 91.3899,399.955 95.5981,400.529" fill="#8050ff"/>
<polygon points="100.872,366.24 104.169,368.317 104.908,370.373 104.388,373.175 100.883,373.762 97.5903,372.712 96.2664,368.354 96.7901,366.236" fill="#60ff40"/>
<polygon points="103.981,340.613 104.766,343.705 102.425,347.558 100.601,346.853 97.2737,345.362 95.379,340.936 97.1834,338.205 101.366,339.182" fill="#4060ff"/>
<polygon points="94.9173,339.561 97.2333,341.063 99.5756,343.855 100.148,347.185 96.8047,350.35 92.7812,349.088 91.5749,344.815 92.1738,341.419" fill="#60ff60"/>
<polygon points="88.4344,373.882 86.0067,376.156 80.6439,375.222 79.5341,372.974 79.0211,370.151 80.6675,366.728 85.9796,368.382 87.6297,369.792" fill="#60ff40"/>
<polygon points="106.25,381.843 108.938,384.088 110.68,387.904 111.984,392.018 109.369,393.361 105.879,391.621 104.598,387.838 104.005,384.815" fill="#a0a0ff"/>
<polygon points="100.597,375.872 100.72,372.783 103.21,371.03 107.509,373.221 109.148,377.353 107.994,380.149 106.313,381.448 103.389,379.439" fill="#2030ff"/>
<polygon points="93.3007,392.04 95.0821,391.303 98.3646,394.968 98.289,396.891 97.4333,399.361 93.694,399.21 91.387,396.189 90.8068,393.848" fill="#2030ff"/>
<polygon points="85.4908,378.946 84.3464,375.477 85.7037,371.665 88.9737,372.968 91.5596,376.435 92.4656,379.832 91.9613,381.864 89.4453,382.684" fill="#4060ff"/>
<polygon points="104.498,390.641 101.831,393.268 99.3874,393.577 95.1619,389.725 94.6108,385.894 96.252,383.984 99.5925,382.77 103.034,384.449" fill="#2030ff"/>
<polygon points="94.3455,359.861 91.3267,357.027 89.8457,352.859 90.0926,349.958 92.9427,348.573 94.8733,350.211 97.4664,354.612 95.8484,359.071" fill="#c0ff40"/>
<polygon points="89.812,390.282 86.108,385.814 83.7615,380.212 86.224,377.549 88.0525,376.828 92.413,379.588 94.1556,387.522 91.1914,389.31" fill="#a0a0ff"/>
<polygon points="92.9296,344.138 91.6348,341.624 91.8749,337.649 93.891,336.83 96.4815,337.981 98.4937,342.792 98.1868,345.443 95.1383,345.646" fill="#4060ff"/>
<polygon points="84.1369,406.354 83.3561,402.965 85.3991,400.35 89.7007,401.32 92.4001,404.887 93.294,408.764 90.1506,410.535 87.2615,410.475" fill="#a0a0ff"/>
<polygon points="103.003,396.9 106.14,397.417 108.624,402.881 108.5,406.872 105.428,408.866 101.779,406.832 98.8622,400.558 100.028,398.057" fill="#c0ff40"/>
<polygon points="99.5408,367.39 95.9697,367.385 94.3263,366.061 92.5589,361.601 92.0889,358.592 94.1284,356.664 97.984,358.505 99.13,362.701" fill="#c0ff40"/>
<polygon points="84.7461,365.377 86.4335,363.781 92.0858,364.593 95.5492,368.064 95.7376,372.285 92.6905,372.951 88.9817,373.689 83.9348,369.545" fill="#4060ff"/>
<polygon points="104.916,350.751 103.053,352.447 100.697,352.325 97.1236,349.036 96.8938,346.365 99.1019,344.046 102.373,343.942 104.845,347.915" fill="#4060ff"/>
<polygon points="103.987,411.558 100.883,407.048 100.422,402.419 102.96,400.238 106.42,401.822 109.326,403.964 110.43,406.959 109.129,411.652" fill="#2030ff"/>
<polygon points="189,5 214,5 229.6,27 218,42.6 204.5,56 198.7,67.7 187,79.3 179,67.7 175.5,54 169.7,38.7 181,23" fill="#fff"/>
<polygon points="183,165 194,166.6 212,164.8 219,168 220,181 226,188 240,186 251,183 255,174 258,165 258,137 262,141.5 269,152 272,160 274,182 272,201 284,215 296,229.5 307.6,244 317,253 326.7,267.6 331.4,282 338.6,291 345,306 337,298 329,287 324,279 317,271 311,263 305,257.5 297,255 290,249.5 283,251 280,287 256,285 248,278 237,263 224,253 215,242 201,236 187,237 179,245 183,256 178,272 176,299 176,340 167,340 161.5,317 160,299 158,281 163,263 174,245 169,228 169,195 176,183" fill="#fff"/>
<polygon points="161,318 170,318 169,345 165,360 150,372 136,376 119,378 113,400 113,442 110,452 100,456 60,457 52,450 48,436 47,414 54,414 56,436 62,445 95,446 100,440 97,400 97,373 108,365 135,360 150,350 160,340" fill="#fff"/>
<polygon points="2,452 38,452 44,470 40,500 48,520 56,535 68,550 77,566 65,562 51,541 34,534 17,527 2,520" fill="#fff"/>
<polygon points="147,428 165,425 171,430 172,500 150,500 146,470" fill="#fff"/>
<polygon points="94,497 120,490 172,490 172,512 140,514 120,512 96,512" fill="#fff"/>
<polygon points="39,498 56,498 56,519 39,519" fill="#fff"/>
<polygon points="68,555 89,555 89,563 68,563" fill="#fff"/>
<polygon points="345,306 362,280 372,271 381,267 392,272 404,271 415,281 428,293 446,306 455,320 473,324 486,313 502,317 517,324 531,320 553,313 573,320 596,326 604,306 602,295 609,264 609,243 611,234 619,229 623,216 634,211 652,211 674,207 687,205 700,202.5 714,201 736,205 758.6,223 767.5,245.5 772,260 781,272 794,306 799,314 791,328 802,342 813,356 824,369 832,392 841,411 857,430 868,447 874,460 866,462 857,470 857,487 843,482 825,469 817,451 814,433 808,420 812,406 812,388 803,370 794,353 781,350 770,339 750,337 736,335 723,328 678,328 669,333 665,339 656,333 645,330 638,328 631,335 631,348 636,368 638,377 629,393 609,402 593,402 580,386 546.7,390.6 524,395 497.6,390.6 486.4,397 468.6,395 450.7,397 441.8,410.7 419.5,417.4 406,424 403.8,439.7 386,433 383.7,419.6 388,397 401.6,388 415,381.7 433,379.5 428,352.7 429,340 424,331 417,327 404,326 396,323 382.5,319 376,315 370,306 364,304 362,312 353,311" fill="#fff"/>
<polygon points="849,420 857,420 868,425 872,440 880,452 895,460 905,462 914,459.5 921,465.7 933.6,464.8 942.5,463 948,460 960,458.6 965.7,456 969,449.6 969,443 974,439 983.6,435 990,437 998,422 1024,422 1030,440 1021,445 1005,448 992.5,473 986,472 970,469 967.5,473 957,478 949.6,483.6 940.7,485 930,480 920,483.6 910,484 899.4,490.6 891.6,478 880.6,459 871,442 863.4,443.8 854,459 849,470" fill="#fff"/>
<polygon points="1024,284.5 1043,263 1054,256.5 1076,254 1104,258.6 1119,258.6 1136,250 1140.5,271.6 1136,278 1140.5,293 1150,302 1150,431 1138,435.6 1123,450.7 1114.6,452.8 1097,435.6 1086.6,418 1075.8,401 1071.5,379.5 1063,375 1045.6,377 1039,401 1039,436 1024,430 1024,401 1026,379.5 1024,336" fill="#fff"/>
<polygon points="890,612 905,610 912,625 918,640 922,655 918,668 900,669 890,650 886,630" fill="#fff"/>
<polygon points="1090,616 1105,614 1112,625 1117,645 1108,654 1090,650 1080,635" fill="#fff"/>
<polygon points="184,694 198,694 203,710 200,726 186,728 181,712" fill="#fff"/>
<polygon points="522,536 530,533 535,548 528,553 520,548" fill="#fff"/>
<polygon points="975,72 985,69 996,72 998,80 990,86 980,84" fill="#fff"/>
<polygon points="130,565 140,565 145,575 133,578" fill="#fff"/>
<polygon points="255,86 259,86 264,100 272,110 282,120 278,124 268,116 260,105" fill="#fff"/>
<polygon points="629,420 634,418 637,430 632,435 628,430" fill="#fff"/>
<polygon points="1061,528 1066,527 1067,544 1062,543" fill="#fff"/>
<polygon points="1069,578 1074,577 1075,591 1070,590" fill="#fff"/>
<polygon points="156,48 160,48 158,78 154,78" fill="#fff"/>
<polygon points="135,143 142,143 142,158 135,158" fill="#fff"/>
<polygon points="132,174 141,174 140,186 133,186" fill="#fff"/>
<polygon points="40,18 47,18 50,25 44,27" fill="#fff"/>
<polygon points="101,210 105,210 105,215 101,215" fill="#fff"/>
<polygon points="124,211 128,211 128,216 124,216" fill="#fff"/>
<polygon points="600,82 603,82 605,98 601,98" fill="#fff"/>
<polygon points="440,20 448,20 450,40 442,40" fill="#fff"/>
<polygon points="455,50 460,50 462,62 457,62" fill="#fff"/>
<polygon points="458,110 463,110 466,125 460,125" fill="#fff"/>
<polygon points="186.052,36.8415 183.865,43.7802 179.786,47.3342 175.648,47.2466 171.425,42.669 171.183,35.8832 173.702,27.9152 178.686,27.9449 185.999,30.499" fill="#5a5af6"/>
<polygon points="207.805,16.6623 205.947,20.1825 203.63,21.6026 202.023,21.0016 199.113,18.9309 199.079,15.284 201.57,11.8342 204.251,11.8209 206.114,12.6792" fill="#b264ff"/>
<polygon points="211.815,26.2784 211.091,28.3554 207.894,29.6544 203.893,29.3293 202.478,27.7539 201.915,24.4728 205.059,22.6297 208.581,22.7069 210.926,23.1846" fill="#b264ff"/>
<polygon points="211.904,32.0231 211.641,34.2726 208.741,36.0082 206.459,35.0565 205.092,33.4466 205.338,31.2334 207.038,28.9192 209.089,28.9458 210.835,29.7104" fill="#b264ff"/>
<polygon points="197.291,21.7302 196.069,23.887 195.063,25.0198 193.704,24.7243 192.547,22.9299 191.896,20.8642 193.073,18.9884 194.854,17.734 196.073,18.9107" fill="#e03030"/>
<polygon points="184.662,161.618 182.008,165.88 178.377,166.61 172.823,166.847 169.911,162.309 169.82,160.407 172.164,157.141 177.941,156.546 181.01,157.362" fill="#62ff34"/>
<polygon points="186.008,173.107 184.135,179.488 181.437,181.018 177.838,178.873 174.771,174.996 175.354,169.677 177.672,167.44 180.59,165.842 183.567,168.51" fill="#3456ff"/>
<polygon points="180.383,190.273 179.329,194.584 177.292,196.804 173.642,197.202 170.373,194.901 170.981,188.604 172.473,185.633 176.082,184.862 180.715,186.852" fill="#66dccc"/>
<polygon points="185.942,184.933 185.268,187.228 183.65,189.478 181.367,188.543 180.152,187.844 180.503,183.432 181.753,181.251 183.617,179.525 185.65,182.275" fill="#5a80ff"/>
<polygon points="367.364,224.459 366.781,232.016 358.461,237.535 351.896,234.9 343.989,228.356 345.668,219.72 351.84,214.363 357.242,214.142 363.678,218.733" fill="#80ff40"/>
<polygon points="356.454,231.676 356.129,239.664 350.953,243.693 346.692,242.481 345.389,235.156 345.686,231.251 347.735,225.905 352.458,222.31 355.973,228.02" fill="#e8f030"/>
<polygon points="357.639,249.043 355.862,256.347 347.113,264.979 341.282,260.716 337.559,255.819 336.759,243.252 343.855,233.541 348.489,230.471 354.352,239.809" fill="#ff5030"/>
<polygon points="362.392,284.749 359.904,300.757 355.003,304.34 341.399,300.181 338.136,293.747 339.206,284.095 345.946,270.538 353.239,268.585 361.471,274.77" fill="#e048ff"/>
<polygon points="382.993,252.093 381.674,257.57 376.77,263.589 370.008,262.333 364.367,257.548 364.671,246.734 368.848,237.469 375.562,235.831 381.616,241.885" fill="#e080f0"/>
<polygon points="404.695,257.088 403.324,263.176 400.495,267.918 393.633,266.938 388.298,259.818 388.436,253.996 392.407,246.758 397.153,245.988 402.806,249.712" fill="#60ff30"/>
<polygon points="418.878,248.751 417.644,252.886 412.56,254.787 409.047,253.819 406.155,250.45 406.388,245.745 408.857,241.34 414.276,240.638 417.686,244.793" fill="#ff40e0"/>
<polygon points="435.939,254.263 431.363,260.57 428.793,263.184 423.156,262.587 417.949,259.12 417.204,249.125 420.229,245.769 427.89,245.366 434.552,248.239" fill="#a0ff60"/>
<polygon points="437.902,273.885 434.993,280.398 427.793,284.671 424.708,283.051 420.019,277.849 419.793,273.101 424.758,268.019 429.7,266.447 433.316,268.425" fill="#2030ff"/>
<polygon points="454.826,286.441 454.545,291.024 442.388,295.994 437.053,293.747 429.173,290.851 429.946,283.974 433.707,277.614 445.195,278.097 451.413,278.651" fill="#60f080"/>
<polygon points="464.348,306.323 461.706,310.845 455.86,316.561 451.571,317.39 445.817,309.414 445.431,303.841 448.744,296.865 456.317,295.769 462.719,298.419" fill="#1830ff"/>
<polygon points="480.395,311.015 477.87,319.143 472.418,322.142 464.385,322.219 457.029,316.606 457.231,307.126 462.439,302.667 469.805,301.807 476.551,304.662" fill="#ff50d0"/>
<polygon points="508.931,282.755 506.768,288.67 496.507,293.362 489.176,291.88 483.878,286.492 484.739,277.483 490.455,267.933 497.996,267.082 506.928,273.537" fill="#a0ff40"/>
<polygon points="508.346,300.23 506.333,303.798 501.598,307.908 493.253,306.607 486.721,304.481 487.079,296.811 491.462,294.876 498.526,293.225 504.989,295.104" fill="#b0a0ff"/>
<polygon points="515.471,299.028 513.336,302.981 511.866,304.308 508.658,303.339 506.841,301.737 506.316,298.025 507.838,295.949 510.403,295.355 513.305,296.227" fill="#ff3030"/>
<polygon points="498.892,302.595 498.201,308.772 493.972,312.848 488.798,311.506 485.65,306.541 486.736,301.466 490.982,296.418 494.871,295.107 497.793,296.536" fill="#60e0e0"/>
<polygon points="524.045,257.808 522.384,266.532 519.52,269.151 513.994,268.991 510.704,259.005 510.921,249.592 514.565,241.961 517.871,243.081 521.588,245.226" fill="#7040ff"/>
<polygon points="553.685,273.953 550.42,289.122 543.407,295.465 537.355,290.297 530.732,281.317 531.725,270.857 537.763,263.002 544.686,261.07 548.55,264.337" fill="#7050ff"/>
<polygon points="543.114,291.951 542.024,304.397 536.51,306.922 530.412,306.255 526.118,294.768 527.799,284.478 529.901,277.847 537.253,274.786 541.015,281.214" fill="#c8b0f8"/>
<polygon points="548.359,306.29 547.226,312.896 542.676,314.426 538.547,313.811 536.227,309.846 536.468,304.211 539.481,299.682 541.874,300.197 548.549,303.001" fill="#60ff40"/>
<polygon points="570.573,272.832 570.578,278.469 567.085,281.684 563.476,281.286 560.697,274.333 560.676,268.919 563.438,264.27 565.903,263.191 569.093,268.011" fill="#f0e020"/>
<polygon points="570.671,287.883 568.527,298.392 564.655,302.59 557.784,303.59 553.915,297.908 554.973,284.949 558.756,277.294 564.748,278.666 568.3,281.709" fill="#9050ff"/>
<polygon points="597.874,305 595.391,308.785 589.094,311.33 582.094,313.048 575,307.645 576.226,300.73 581.357,295.175 588.075,292.003 597.018,297.462" fill="#c0a0f0"/>
<polygon points="603.379,311.39 596.785,322.371 588.584,323.832 579.353,322.789 573.106,314.396 575.415,307.014 583.068,297.637 589.724,296.081 598.329,299.07" fill="#ff4030"/>
<polygon points="391.47,277.046 390.211,279.851 387.294,281.673 384.629,280.958 381.121,278.95 381.798,274.14 384.326,269.719 387.251,270.737 389.777,272.16" fill="#ff4080"/>
<polygon points="401.364,279.558 400.812,284.117 397.796,288.623 394.193,286.245 392.403,282.968 392.503,277.776 394.025,274.335 398.564,273.385 400.911,274.763" fill="#ff3030"/>
<polygon points="412.342,285.051 411.398,288.182 407.843,291.585 401.953,290.574 401.048,285.36 399.818,282.656 404.229,276.694 407.649,277.348 411.774,278.055" fill="#c0a0f0"/>
<polygon points="415.359,291.842 412.897,295.266 411.449,296.06 407.375,296.346 404.853,292.076 405.151,288.485 407.429,285.861 409.949,284.633 413.806,286.249" fill="#ff8030"/>
<polygon points="405.444,300.798 404.263,303.136 398.995,306.171 395.496,304.959 390.4,302.344 391.052,299 394.83,296.346 398.741,295.165 405.131,297.728" fill="#70f080"/>
<polygon points="425.784,313.173 424.444,314.802 419.434,317.181 417.097,315.974 413.197,314.091 413.821,311.21 416.348,308.058 419.864,308.642 424.027,309.504" fill="#6040ff"/>
<polygon points="376.703,290.198 376.155,292.296 374.466,292.676 372.17,292.122 371.33,290.6 370.923,289.255 372.109,287.27 374.465,287.339 375.994,287.911" fill="#ff3030"/>
<polygon points="480.519,305.365 479.059,307.526 476.588,310.334 473.396,309.011 470.863,307.396 470.245,302.351 472.664,299.914 476.597,300.586 478.746,300.954" fill="#60ff40"/>
<polygon points="573.908,309.76 572.657,314.928 569.072,317.243 565.066,316.078 561.08,312.6 561.788,304.972 565.247,301.307 568.44,299.42 573.607,304.31" fill="#ff50c0"/>
<polygon points="529.715,308.247 529.071,316.622 524.584,319.067 518.441,316.66 515.067,314.013 516.702,306.211 518.264,303.424 524.816,301.34 529.267,303.838" fill="#a050ff"/>
<polygon points="394.412,337.812 392.351,354.686 389.585,359.116 384.483,355.646 380.751,349.975 380.837,328.929 385.32,322.886 387.999,319.479 394.728,328.082" fill="#ff60a0"/>
<polygon points="386.459,362.063 385.509,368.912 380.519,371.944 376.401,371.307 373.785,364.925 374.862,358.736 377.043,354.264 382.106,353.726 385.175,354.42" fill="#7070ff"/>
<polygon points="384.521,375.844 384.549,380.169 382.443,384.612 379.052,383.028 378.741,379.306 378.114,375.123 380.054,369.912 381.73,369.298 384.375,371.816" fill="#f0e020"/>
<polygon points="401.367,380.622 399.187,385.911 396.177,389.251 393.514,388.008 391.626,381.883 391.559,377.138 392.653,370.485 396.959,369.858 400.129,371.587" fill="#60a0ff"/>
<polygon points="394.65,391.013 393.796,394.758 390.923,395.387 388.895,395.665 386.711,392.159 387.333,390.236 388.745,387.485 392.434,386.292 394.288,388.614" fill="#a0ff60"/>
<polygon points="402.804,386.705 402.368,390.603 397.984,392.968 395.289,392.817 393.75,389.098 393.57,383.929 395.054,378.508 399.054,378.02 400.94,379.284" fill="#ff60c0"/>
<polygon points="393.489,353.302 392.675,359.1 389.281,364.955 387.5,362.806 384.384,357.256 384.98,348.195 385.826,342.237 389.639,341.03 392.955,342.814" fill="#ff50b0"/>
<polygon points="748.002,151.721 745.485,162.784 737.355,172.017 732.508,166.696 727.374,156.923 725.11,150.196 730.798,137.51 738.635,134.671 744.433,143.051" fill="#1030ff"/>
<polygon points="706.693,196.707 703.875,210.38 696.746,213.421 684.551,212.237 678.834,205.831 675.53,193.919 681.924,188.424 696.531,184.092 700.858,190.133" fill="#70e8c0"/>
<polygon points="736.768,203.57 733.328,206.408 728.031,209.638 722.848,208.302 721.025,203.554 721.488,198.746 723.404,194.698 730.169,195.139 733.279,196.445" fill="#40ff20"/>
<polygon points="655.698,218.544 654.588,221.601 650.1,225.574 647.328,224.639 644.077,219.862 644.428,215.831 646.481,212.755 650.855,212.591 654.379,214.133" fill="#f0f020"/>
<polygon points="642.274,203.695 639.549,210.065 635.632,213.5 627.466,211.93 621.707,206.559 623.507,201.068 627.524,196.436 632.25,194.341 638.314,196.645" fill="#2030ff"/>
<polygon points="638.957,196.028 637.274,200.77 633.144,204.452 629.232,201.975 625.787,198.594 626.76,192.417 629.381,187.69 634.62,187.744 638.201,189.474" fill="#60d0e0"/>
<polygon points="692.975,170.441 688.225,181.73 683.586,188.639 680.086,185.144 675.207,174.096 675.731,163.086 679.905,156.978 684.725,152.655 688.686,159.443" fill="#ff8030"/>
<polygon points="670.851,182.551 668.103,192.427 660.056,206.131 642.977,202.837 637.059,193.567 636.46,178.167 646.293,163.491 659.725,161.171 669.402,167.369" fill="#ff3080"/>
<polygon points="662.302,140.884 657.247,143.782 649.139,144.72 640.211,144.147 636.362,142.957 637.869,140.494 644.04,138.75 651.92,138.431 659.666,139.16" fill="#ffffff"/>
<polygon points="659.229,171.659 656.525,173.734 653.516,175.248 646.827,175.162 642.777,173.157 643.857,170.678 647.945,168.052 650.815,167.245 655.965,168.285" fill="#ffffff"/>
<polygon points="641.005,175.556 639.853,178.425 637.927,179.882 636.077,180.101 634.696,177.554 633.985,175.238 636.139,172.05 637.935,172.348 639.746,172.808" fill="#2040ff"/>
<polygon points="711.666,194.141 710.232,197.993 705.998,200.288 703.306,199.985 700.861,197.021 700.779,192.319 701.9,189.135 705.877,188.009 710.621,191.343" fill="#60ffa0"/>
<polygon points="716.038,158.784 714.801,166.599 710.743,168.961 708.285,168.395 705.326,165.508 705.365,155.348 706.586,151.903 711.945,150.604 714.909,154.499" fill="#90ff50"/>
<polygon points="627.175,181.299 626.144,188.494 623.128,195.277 617.533,193.611 615.716,185.511 615.637,178.119 618.942,171.127 622.036,169.75 626.648,176.935" fill="#d040ff"/>
<polygon points="1074.29,197.858 1073.28,201.935 1065.93,208.069 1058.99,204.506 1054.87,198.429 1053.31,193.714 1059.82,186.798 1067.92,185.137 1073.98,189.128" fill="#ffffff"/>
<polygon points="1068.02,216.025 1064.63,222.822 1055.77,226.077 1048.74,226.213 1041.62,221.511 1043.09,212.887 1044.99,204.736 1055.3,204.408 1061.08,206.991" fill="#d0ff40"/>
<polygon points="1054.19,247.022 1051.35,255.56 1047.12,258.335 1038.42,258.417 1032.33,249.111 1032.29,243.54 1039.44,232.545 1043.67,234.23 1049.43,237.583" fill="#60ff30"/>
<polygon points="1090.74,206.577 1087.3,222.648 1078.91,227.819 1073.6,225.026 1066.52,208.566 1065.9,195.254 1069.96,183.414 1078.64,173.92 1086.06,184.926" fill="#c050ff"/>
<polygon points="1094.69,235.684 1091.8,245.736 1088.41,248.235 1079.94,248.776 1075.46,239.762 1076.51,226.837 1081.77,218.28 1087.67,217.532 1090.64,220.124" fill="#ff40f0"/>
<polygon points="1115.81,183.958 1113.97,188.387 1108.91,195.604 1104.65,193.836 1100.11,187.857 1099.48,179.039 1103.6,173.198 1109.36,170.589 1112.53,172.869" fill="#5050ff"/>
<polygon points="1135.6,200.567 1131.97,223.624 1123.96,228.471 1116.94,226.166 1111.79,209.185 1113.12,194.647 1115.61,186.546 1126.55,181.736 1132.49,186.52" fill="#ff8030"/>
<polygon points="1129.61,245.308 1127.48,254.406 1118.44,258.25 1112.26,256.153 1105.6,252.299 1105.48,241.642 1110.12,237.673 1121.02,235.39 1125.56,238.095" fill="#ff6080"/>
<polygon points="1134.28,242.263 1133.36,245.557 1128.25,250.658 1124.98,248.44 1121.16,244.673 1121.22,238.183 1123.73,234.272 1130.3,232.198 1132.95,233.447" fill="#60b0ff"/>
<polygon points="1103.65,242.184 1102.01,253.941 1098.47,255.571 1095.6,255.289 1093.25,249.271 1093.08,240.91 1094.59,233.214 1099.47,232.552 1102.67,236.964" fill="#60e0a0"/>
<polygon points="1060.02,178.554 1058.81,186.438 1053.08,189.66 1049.13,188.953 1047.07,183.387 1046.11,175.388 1050.07,170.487 1055.24,170.175 1058.45,174.18" fill="#ff40a0"/>
<polygon points="1140.18,211.548 1138.1,218.663 1129.71,225.507 1123.51,222.122 1119.06,217.007 1119.26,207.85 1123.69,200.127 1129.54,199.681 1137.75,205.89" fill="#9050ff"/>
<polygon points="1028.09,264.932 1023.56,272.343 1013.49,280.157 995.701,276.362 991.259,272.342 989.467,259.405 998.121,251.679 1013.02,250.828 1022.69,253.888" fill="#a0a0ff"/>
<polygon points="1024.18,290.324 1022.94,301.007 1019.82,306.801 1014.97,302.823 1011.86,297.704 1011.31,289.927 1013.94,279.646 1018.19,279.183 1022.21,281.368" fill="#2030ff"/>
<polygon points="1023.85,315.629 1023.28,318.332 1018.77,320.258 1014.98,320.908 1011.03,315.983 1011.35,312.349 1013.23,308.682 1018.27,307.898 1023.36,310.742" fill="#60ff40"/>
<polygon points="1009.47,294.881 1007.49,300.811 1002.79,304.45 998.238,302.263 996.152,298.565 996.09,292.173 997.318,287.162 1003.1,285.873 1007.74,288.13" fill="#60ff60"/>
<polygon points="1054.28,261.649 1049.92,269.851 1041.04,274.968 1036.26,274.117 1027.44,264.365 1027.33,259.372 1035.97,252.864 1040.7,248.719 1050.6,255.462" fill="#60ff30"/>
<polygon points="1011.26,312.885 1011.28,323.864 1007.25,327.998 1001.96,327.354 1000.2,322.582 1000.12,308.914 1003.12,300.304 1007.85,299.526 1010.25,303.635" fill="#4060ff"/>
<polygon points="1026.35,327.091 1024.95,331.752 1019.98,333.375 1016.48,332.68 1013.31,329.089 1013.12,324.949 1015.53,321.044 1020.43,319.556 1023.71,321.116" fill="#c0ff40"/>
<polygon points="1004.01,271.872 1002.78,279.452 999.679,281.389 995.388,278.613 993.122,274.963 992.991,270.379 995.862,262.084 999.153,260.913 1002.65,265.727" fill="#40c0ff"/>
<polygon points="998.862,425.633 997.903,432.645 994.423,436.622 989.177,434.464 985.016,428.22 985.44,421.315 988.552,413.803 994.594,413.366 998.567,417.819" fill="#50ff30"/>
<polygon points="997.31,569.029 996.659,584.073 990.077,591.199 985.292,586.641 980.749,577.815 980.21,560.256 982.886,552.321 991.898,549.179 994.351,553.951" fill="#f048f0"/>
<polygon points="1011.01,590.228 1009.08,607.803 1004.5,613.044 998.024,608.014 995.23,599.115 995.68,585.743 1000.14,578.394 1005.48,576.01 1009.68,584.428" fill="#e050f0"/>
<polygon points="981.53,571.797 980.579,581.721 974.064,583.38 966.548,582.284 964.283,576.223 963.71,570.173 967.574,564.205 975.526,561.199 979.421,564.521" fill="#8060ff"/>
<polygon points="972.871,584.222 971.316,594.103 965.558,596.676 962.877,595.936 956.576,589.728 958.373,580.454 961.546,577.814 967.276,576.288 970.36,579.019" fill="#60d0f0"/>
<polygon points="983.108,581.769 982.617,588.41 978.208,592.195 973.151,590.26 968.868,585.51 969.396,580.222 970.362,576.636 977.584,574.62 980.879,579.273" fill="#80ff50"/>
<polygon points="974.341,600.428 972.768,605.558 968.044,608.554 961.343,605.592 958.036,604.241 958.916,596.805 960.481,593.083 965.877,591.348 971.114,595.517" fill="#c0ff40"/>
<polygon points="990.046,618.308 987.686,627.375 981.98,632.161 972.446,630.877 966.952,622.665 965.835,614.875 973.683,606.012 980.228,607.167 986.572,607.905" fill="#3020ff"/>
<polygon points="1040.59,595.067 1038.46,598.386 1031.35,601.483 1027.26,599.627 1022.89,597.112 1023.1,592.514 1027.19,588.214 1033.81,588.742 1036.38,589.82" fill="#b0d0f0"/>
<polygon points="1040.06,611.656 1038.05,620.8 1035.32,623.077 1027.59,621.506 1025.92,615.2 1025.43,606.476 1028.92,601.136 1033.24,602.459 1038.73,604.662" fill="#4050ff"/>
<polygon points="1027.29,597.113 1024.32,609.477 1021.38,614.36 1017.63,610.859 1014.33,605.829 1014.84,592.438 1016.09,586.632 1022.16,585.853 1026.08,588.874" fill="#e040f0"/>
<polygon points="1028.59,650.985 1024.69,665.421 1014.68,671.927 1001.69,674.788 991.526,658.122 991.122,637.592 999.141,626.473 1016.26,620.379 1022.55,623.763" fill="#ff4a20"/>
<polygon points="978.09,662.126 976.587,667.972 972.136,670.281 968.044,672.6 963.31,663.172 964.149,657.282 967.909,651.273 973.925,650.089 978.474,654.404" fill="#a0ff60"/>
<polygon points="1041.99,665.324 1041.27,669.932 1038.02,672.512 1032.05,673.416 1028.77,669.164 1030.71,662.594 1032.88,659.223 1036.17,657.13 1040.91,660.274" fill="#60ff40"/>
<polygon points="1058.59,638.905 1056.29,642.809 1053.45,644.195 1048.49,644.01 1048.26,640.985 1047.47,636.972 1050.37,631.85 1053.94,633.159 1057.28,634.769" fill="#60ff40"/>
<polygon points="1019.26,685.851 1015.49,690.747 1007.88,699.309 1001.27,695.024 995.961,689.215 996.876,682.684 1001.35,675.657 1008.64,673.52 1013.79,676.691" fill="#f0b0d0"/>
<polygon points="1055.03,672.015 1053.65,676.923 1052.02,680.254 1046.63,680.085 1042.56,673.362 1043.32,669.821 1044.97,664.253 1051.53,663.25 1054.11,666.239" fill="#4080ff"/>
<polygon points="982.649,686.64 978.806,692.869 973.928,695.793 964.139,695.656 959.518,691.653 959.841,681.841 964.196,675.529 974.446,673.36 978.949,675.565" fill="#ffffff"/>
<polygon points="1050.59,698.409 1048.19,711.53 1038.08,720.496 1022.66,715.064 1016.3,706.5 1016.17,695.487 1020.82,681.278 1038.53,679.523 1042.11,685.943" fill="#e060f0"/>
<polygon points="1056.4,717.344 1054.2,724.4 1046.84,727.032 1040.76,725.652 1038.76,720.934 1037.33,709.291 1040.57,705.096 1050.33,703.929 1054.65,708.065" fill="#4060ff"/>
<polygon points="961.494,713.137 957.403,726.646 953.937,729.898 945.716,730.022 942.804,722.243 941.387,708.505 947.087,699.255 951.481,700.338 958.897,705.942" fill="#c0f060"/>
<polygon points="956.1,713.998 954.66,717.98 950.766,720.537 947.737,718.316 944.247,714.67 945.235,710.638 946.278,707.936 951.204,707.731 955.308,709.024" fill="#80ff40"/>
<polygon points="1031.71,730.466 1029.71,741.051 1025.34,745.843 1015.44,744.213 1012.49,738.532 1011.95,728.934 1015.01,722.197 1025.43,721.016 1029.64,724.753" fill="#2030ff"/>
<polygon points="1023.55,750.153 1020.76,758.456 1017.61,760.057 1010.6,761.711 1007.47,755.378 1006.79,745.498 1008.35,740.844 1017.02,738.355 1022.16,743.905" fill="#80ff80"/>
<polygon points="996.242,736.691 994.261,739.795 989.802,745.668 985.707,743.806 982.339,738.681 980.978,730.519 983.852,726.302 990.31,725.527 995.476,728.475" fill="#ff70c0"/>
<polygon points="1009.53,708.528 1005.83,717.081 1000.46,720.863 990.526,717.341 986.929,713.527 984.285,705.104 992.139,697.9 1001.49,697.665 1005.41,700.632" fill="#f040f0"/>
<polygon points="1058.75,749.612 1056.17,754.91 1050.03,761.092 1045.01,758.077 1040.74,752.111 1041.11,744.343 1045.86,730.992 1052.14,731.631 1057.23,737.33" fill="#8040ff"/>
<polygon points="968.868,747.673 967.536,755.92 963.213,760.662 958.256,761.057 955.926,749.983 955.705,739.921 960.159,731.087 963.242,728.669 967.502,732.974" fill="#ff6080"/>
<polygon points="1013.82,521.101 1012.72,526.554 1008.43,531.239 1005.4,530.456 1001.83,524.322 1001.75,515.03 1003.38,507.331 1009.51,504.49 1012.73,509.265" fill="#2020ff"/>
<polygon points="1001.46,516.634 997.955,524.924 989.201,528.653 982.149,527.077 975.547,522.831 974.507,514.698 979.097,510.175 991.375,508.45 997.853,511.241" fill="#6050ff"/>
<polygon points="1032.79,526.972 1031.05,530.865 1026.86,532.045 1020.78,531.67 1019.21,530.129 1018.04,525.658 1020.99,523.605 1027.58,522.095 1029.41,523.659" fill="#70e0e0"/>
<polygon points="1036.27,563.452 1034.14,570.584 1027.41,572.899 1021.51,571.701 1018.46,566.137 1018.62,559.814 1024.21,556.545 1029.43,556.735 1034.53,558.938" fill="#60ff40"/>
<polygon points="926.605,516.495 924.457,520.019 920.864,522.46 917.688,520.92 915.504,518.427 915.873,514.331 917.545,511.862 921.16,511.389 925.455,513.23" fill="#3030ff"/>
<polygon points="929.609,530.497 927.19,539.327 921.068,547.22 911.003,543.485 905.012,533.453 904.631,521.695 913.075,515.567 919.06,511.524 924.026,518.73" fill="#ffffff"/>
<polygon points="943.912,539.717 942.272,546.357 939.476,548.896 935.746,546.756 933.444,541.704 933.177,537.026 935.151,531.653 939.824,531.322 941.919,533.381" fill="#4030ff"/>
<polygon points="955.004,550.242 953.966,555.202 949.439,556.879 946.816,556.312 944.374,551.419 943.993,548.042 946.363,545.677 951.612,543.987 953.223,546.846" fill="#7050ff"/>
<polygon points="946.152,558.559 944.421,562.842 939.621,563.762 937.227,563.09 933.465,559.665 933.801,556.2 936.509,551.635 940.34,550.28 943.979,554.14" fill="#60ff40"/>
<polygon points="1054.28,612.624 1053.29,619.029 1051.03,621.681 1046.72,620.962 1045.6,615.512 1045.27,609.59 1046.83,604.644 1050.44,602.003 1052.89,607.045" fill="#ff4080"/>
<polygon points="1059.65,608.789 1058.83,615.684 1057.88,617.617 1055.37,618.314 1053.94,612.875 1054.48,608.671 1055.87,602.283 1057.73,601.778 1058.87,603.875" fill="#ffa030"/>
<polygon points="1106.52,656.62 1104.07,669.901 1100.7,674.946 1097.1,676.429 1092.65,665.187 1093.23,654.141 1096.23,647.958 1101.89,642.729 1104.59,646.92" fill="#8050ff"/>
<polygon points="1108.25,675.94 1107.2,680.978 1100.94,683.714 1095.1,681.975 1090.21,676.883 1088.54,672.659 1093.62,667.655 1099.64,667.844 1105.56,670.065" fill="#a0f0c0"/>
<polygon points="1090.34,690.567 1088.46,694.245 1084.65,697.476 1080.47,695.909 1076.44,693.628 1076.92,686.646 1079.31,682.347 1083.95,681.284 1089.2,683.988" fill="#2030ff"/>
<polygon points="1093.2,701.286 1091.66,706.5 1086.73,710.012 1083.14,710.521 1080.84,704.209 1079.99,699.958 1082.59,694.58 1086.92,693.108 1091.05,697.532" fill="#ff40e0"/>
<polygon points="1130.2,727.832 1128.58,734.478 1124.1,738.085 1121.09,736.168 1117.94,730.732 1118.57,723.781 1120.54,719.344 1124.61,717.452 1129.29,721.04" fill="#5040ff"/>
<polygon points="1136.44,746.841 1134.39,753.673 1131.24,760.41 1124.68,758.996 1121.05,753.048 1120.49,742.651 1124.31,736.863 1129.27,734.26 1134.37,735.938" fill="#c0a0f0"/>
<polygon points="1105.66,756.041 1103.67,760.922 1098.67,762.453 1095.95,761.229 1091.84,759.409 1092.01,754.407 1094.41,751.706 1100.23,751.618 1104.51,753.741" fill="#2030ff"/>
<polygon points="928.876,655.019 929.318,666.489 919.927,676.858 915.844,671.855 910.204,663.254 908.9,648.403 912.32,638.39 921.252,634.753 928.343,642.224" fill="#ff6a20"/>
<polygon points="943.534,659.176 942.953,663.976 939.589,665.529 934.939,665.63 934.202,661.583 933.581,654.438 935.236,652.568 938.611,649.46 942.642,651.721" fill="#5030ff"/>
<polygon points="964.558,710.566 962.508,721.057 955.891,728.273 950.938,723.264 944.545,711.946 945.11,699.709 950.094,691.411 957.394,691.944 962.31,694.635" fill="#e0e060"/>
<polygon points="1014.91,642.802 1011.78,647.73 1007.95,649.018 1002.95,649.148 1000.75,646.003 1000.91,639.341 1004.16,637.383 1007.49,636.374 1012.54,638.762" fill="#ffffff"/>
<polygon points="956.959,613.993 955.59,625.886 951.272,628.197 944.588,627.558 940.625,617.464 939.552,610.662 943.422,603.189 950.038,599.041 956.392,605.061" fill="#e040f0"/>
<polygon points="945.21,572.962 942.212,584.831 935.731,591.079 931.649,587.983 926.675,580.352 925.88,572.607 928.753,562.538 936.348,561.948 942.022,564.82" fill="#ff40a0"/>
<polygon points="964.205,529.509 963.029,534.289 957.324,540.524 954.763,539.778 950.076,531.567 950.271,528.12 953.968,522.316 958.718,521.634 964.125,524.821" fill="#c050ff"/>
<polygon points="1000.76,490.563 997.494,496.318 994.315,498.538 989.891,500.003 985.683,491.968 985.023,487.736 989.399,479.805 992.834,479.391 999.15,484.367" fill="#ff40a0"/>
<polygon points="1044.23,491.721 1042.25,501.124 1039.19,504.664 1033.84,504.467 1031.69,497.214 1030.39,487.822 1034.49,480.499 1040.24,479.461 1043.15,484.566" fill="#ff3020"/>
<polygon points="1054.42,538.729 1052.37,545.817 1048.17,548.898 1043.5,549.753 1041.88,544.226 1041.09,537.123 1044.81,532.283 1049.98,529.709 1053.54,534.685" fill="#ff4040"/>
<polygon points="940.248,609.109 937.346,616.238 932.293,619.409 924.03,618.916 921.213,611.667 920.648,607.438 925.489,601.708 930.46,601.283 937.004,603.227" fill="#ffffff"/>
<polygon points="965.57,652.053 963.045,658.32 957.422,660.173 953.578,656.906 950.185,652.789 950.237,647.342 955.032,640.771 959.115,640.944 963.416,642.492" fill="#ff50d0"/>
<polygon points="989.137,752.893 987.729,760.917 985.075,763.708 979.064,763.017 975.59,758.021 975.821,751.17 978.273,747.85 984.929,745.532 987.84,746.75" fill="#ff4060"/>
<polygon points="1074.04,709.138 1072.72,715.986 1068.83,719.836 1064.47,719.197 1061.01,714.773 1061.44,706.731 1064.03,702.632 1068.72,699.291 1073.59,703.459" fill="#ff50b0"/>
<polygon points="1074.2,748.63 1072.75,757.685 1070.79,760.186 1065.81,757.435 1062.08,749.558 1063.33,742.587 1066.24,737.591 1068.93,735.647 1072.62,737.669" fill="#4040ff"/>
<polygon points="1144.44,753.487 1142.64,760.955 1137.65,764.167 1132.82,761.947 1129.5,756.366 1129.8,752.357 1133.11,746.146 1139.47,744.616 1142.21,747.72" fill="#ffffff"/>
<polygon points="987.858,463.048 983.672,468.102 979.489,470.692 973.814,471.133 970.313,467.31 971.367,458.261 973.531,454.252 981.109,452.41 983.285,455.556" fill="#7040ff"/>
<polygon points="1021.77,460.021 1018.69,472.744 1010.34,481.02 1000.59,477.223 992.352,466.54 992.388,455.074 1002.32,448.534 1007.94,447.066 1018.57,450.449" fill="#7040ff"/>
<polygon points="907.827,474.721 908.208,478.052 901.784,480.657 897.489,479.442 893.52,475.402 893.868,470.605 896.2,468.945 901.533,466.375 906.436,470.29" fill="#ff4a20"/>
<polygon points="911.605,452.251 910.562,456.819 906.837,458.537 903.405,458.72 900.412,455.072 898.642,450.812 901.752,448.937 906.944,447.621 910.012,448.807" fill="#70e8e0"/>
<polygon points="906.995,444.166 906.125,447.027 901.394,447.506 898.469,447.661 895.791,445.237 896.331,443.1 898.716,441.786 903.223,440.862 906.428,442.693" fill="#2030ff"/>
<polygon points="898.423,441.714 895.538,449.189 890.908,451.409 886.027,450.301 883.485,446.98 881.409,439.585 886.155,434.725 890.525,433.845 895.149,436.707" fill="#f080f0"/>
<polygon points="881.257,433.544 880.019,437.243 877.546,438.647 875.676,438.111 873.604,436.245 873.385,432.587 875.713,430.516 878.355,430.23 879.328,431.421" fill="#d050ff"/>
<polygon points="1025.51,411.395 1022.04,417.966 1013.85,422.683 1006.62,421.132 999.197,412.915 1000.22,408.651 1003.67,402.971 1014,401.328 1019.69,404.307" fill="#a050ff"/>
<polygon points="921.7,500.401 918.078,505.584 913.263,509.958 908.54,506.628 903.499,502.184 905.267,497.752 907.393,492.862 915.274,491.276 919.158,495.879" fill="#ff9040"/>
<polygon points="921.299,506.49 919.182,511.616 915.58,513.554 913.04,513.333 909.727,510.612 909.334,505.078 912.431,501.305 915.815,501.101 920.195,503.465" fill="#2040ff"/>
<polygon points="946.807,505.018 945.657,514.741 937.552,517.292 929.649,516.816 922.193,505.774 922.064,494.067 927.382,486.134 937.409,483.861 945.281,491.667" fill="#ff2a18"/>
<polygon points="856.069,381.961 854.237,392.788 846.658,395.871 838.755,395.322 836.504,385.989 834.627,374.11 840.171,369.483 847.854,363.785 854.673,371.818" fill="#c0a0f0"/>
<polygon points="856.153,409.951 853.869,414.904 851.52,417.112 846.314,418.192 842.188,411.176 842.432,402.77 844.574,400.221 851.342,396.35 853.615,401.016" fill="#ff2a20"/>
<polygon points="873.008,410.177 869.809,421.137 864.243,423.946 856.567,421.357 852.01,415.852 851.684,405.197 855.764,395.546 864.607,390.789 870.075,395.815" fill="#f040e0"/>
<polygon points="903.364,429.565 897.135,438.614 891.612,439.691 882.374,439.676 876.629,434.388 875.114,425.075 879.104,419.875 888.859,418.979 898.172,421.165" fill="#70e0e0"/>
<polygon points="855.385,410.221 854.236,415.914 850.7,417.168 845.221,417.528 842.593,413.335 842.7,405.688 845.402,400.366 849.445,399.22 854.412,402.466" fill="#ff3040"/>
<polygon points="62.5666,462.735 60.6658,477.55 53.8142,477.405 45.7914,481.808 38.8168,471.939 37.6644,455.422 43.638,445.431 53.7862,442.199 61.3235,444.076" fill="#ffc020"/>
<polygon points="111.933,476.71 99.4338,490.184 93.7783,498.523 75.8385,491.191 67.2636,481.796 67.8323,467.982 70.1367,454.681 89.5245,449.081 101.901,457.171" fill="#ff8c40"/>
<polygon points="80.2428,497.056 78.8167,511.724 69.5327,520.949 56.5133,516.008 48.6428,508.192 50.0406,490.206 52.7557,481.248 69.7331,479.174 74.7546,486.62" fill="#ff7080"/>
<polygon points="50.2562,491.888 50.225,496.15 46.6538,499.835 43.3813,498.207 40.0654,494.581 40.3749,489.816 42.8459,484.959 47.3286,485.079 49.3068,487.775" fill="#2030ff"/>
<polygon points="91.1301,524.978 84.3982,533.905 73.5286,538.101 59.2975,534.757 50.0687,530.304 51.32,521.846 60.5773,514.35 70.9022,512.739 87.0809,517.311" fill="#a0ff50"/>
<polygon points="87.4446,546.256 85.5276,552.707 79.7136,556.894 73.4214,557.021 69.0802,551.355 69.3514,538.684 73.0069,532.141 79.231,531.78 86.748,537.771" fill="#5030ff"/>
<polygon points="103.552,529.378 101.824,539.235 95.421,543.843 89.3497,542.217 85.8556,535.659 84.4307,523.302 89.4455,512.713 96.1952,511.641 100.321,517.065" fill="#d0a0f0"/>
<polygon points="114.718,560.78 111.803,567.21 102.585,570.83 96.6694,571.87 89.5775,563.429 89.4156,551.696 97.8816,547.682 103.77,544.109 111.66,552.055" fill="#70ff40"/>
<polygon points="125.773,531.086 124.462,545.176 114.212,556.755 107.796,551.591 99.5305,543.807 101.565,524.746 106.2,512.883 116.8,514.306 123.882,521.209" fill="#ff5020"/>
<polygon points="145.184,525.648 143.642,536.563 138.289,541.759 132.751,543.503 129.121,534.293 128.543,517.884 131.633,510.709 139.02,509.248 144.721,512.839" fill="#ff40e0"/>
<polygon points="92.8296,501.524 91.7895,508.79 89.7721,509.64 87.1778,509.578 85.41,504.563 85.0982,499.824 87.5303,495.098 89.5165,494.018 92.1154,498.637" fill="#ff2020"/>
<polygon points="100.083,498.965 99.3755,502.156 97.2312,503.827 94.5468,503.289 93.2514,499.953 93.2785,493.642 94.1867,491.772 97.042,490.282 99.3486,493.653" fill="#2030ff"/>
<polygon points="81.0388,421.31 77.3289,431.62 70.5847,438.944 61.7649,435.878 59.3364,426.88 58.009,414.76 63.5849,405.533 68.7278,406.495 76.4655,408.028" fill="#ff2070"/>
<polygon points="100.353,421.198 98.3852,432.343 94.2836,435.614 83.2797,433.461 79.2498,429.779 78.5076,418.926 85.9058,409.809 93.3904,412.038 98.5743,414.093" fill="#ff4080"/>
<polygon points="55.4761,432.294 53.7791,436.393 51.1336,438.397 46.9061,437.821 45.466,435.29 45.4058,432.635 48.0374,428.046 51.4338,428.695 52.9559,430.034" fill="#2030ff"/>
<polygon points="99.6312,362.605 98.2092,367.153 93.5001,369.545 88.428,367.922 85.1218,363.853 85.5891,361.317 88.9813,356.215 93.9002,355.611 98.129,356.834" fill="#2030ff"/>
<polygon points="97.2676,369.306 94.8272,375.902 91.4778,378.656 86.3414,377.626 84.1453,373.884 84.4458,367.28 87.7508,363.537 91.3301,362.973 96.0516,365.955" fill="#5080ff"/>
<polygon points="99.8192,386.181 97.9418,392.169 93.8413,393.773 87.6438,392.032 84.8727,386.639 85.1196,383.351 88.4716,374.849 93.1508,374.822 98.1316,377.185" fill="#60ff40"/>
<polygon points="104.447,402.997 104.501,406.373 101.884,410.057 98.0516,408.691 95.5518,404.683 95.8491,400.061 98.3537,395.916 101.364,396.138 104.667,397.93" fill="#8050ff"/>
<polygon points="107.432,357.221 107.257,362.144 105.122,364.678 102.622,364.344 100.263,359.347 100.784,354.802 102.65,351.381 105.509,349.599 107.439,353.788" fill="#60e0e0"/>
<polygon points="10.7329,435.882 9.59069,451.947 6.51024,455.44 4.08843,456.799 2.23161,443.728 2.57301,434.163 3.66657,419.232 7.76158,419.724 9.83754,428.626" fill="#f0f020"/>
<polygon points="17.8274,470.005 16.1678,477.046 10.2233,479.368 6.28618,479.525 2.40641,474.756 1.72302,466.826 5.7979,461.279 10.7934,459.625 15.7103,461.839" fill="#ff6a30"/>
<polygon points="171.869,434.149 171.31,435.936 168.687,437.87 165.151,437.743 162.634,435.509 162.907,432.56 163.634,430.499 167.576,429.715 171.179,431.956" fill="#2040ff"/>
<polygon points="159.334,449.388 157.91,453.311 155.871,454.897 153.232,454.55 150.597,452.312 150.545,448.365 152.119,446.167 155.247,445.585 158.772,446.099" fill="#60ff40"/>
<polygon points="168.588,465.004 167.787,467.668 162.732,470.233 157.97,469.411 155.362,467.324 155.644,464.037 157.443,461.378 162.591,460.432 166.36,462.749" fill="#8060ff"/>
<polygon points="149.564,487.715 148.933,492.847 145.39,493.974 142.928,494.423 140.747,488.503 140.218,484.498 143.175,480.984 146.434,480.514 148.68,484.267" fill="#ff40e0"/>
<polygon points="169.732,485.842 168.449,487.682 166.431,490.041 162.503,488.688 160.931,486.775 160.571,483.971 161.897,480.377 166.94,480.048 168.744,481.806" fill="#60e0a0"/>
<polygon points="152.53,460.61 150.277,463.66 147.777,464.874 142.082,464.19 140.541,462.557 140.859,458.727 143.952,455.132 147.433,455.732 151.583,457.039" fill="#ff5080"/>
<polygon points="30.187,447.017 28.5947,450.727 25.6673,451.75 21.7716,451.057 20.4398,447.113 20.7225,442.969 23.5089,441.024 26.8812,440.037 28.7598,441.379" fill="#60ff40"/>
<polygon points="182.542,674.937 181.694,682.331 179.37,687.858 175.862,685.473 174.085,680.464 174.343,670.882 176.858,664.901 179.037,666.481 182.391,668.96" fill="#a080f0"/>
<polygon points="182.043,661.079 180.58,666.616 178.788,667.445 175.574,666.91 172.305,662.891 172.5,659.089 174.477,656.596 177.624,654.54 180.696,657.844" fill="#ff50a0"/>
<polygon points="573.66,576.971 570.351,593.615 561.761,601.229 554.362,599.274 546.144,590.886 546.493,575.921 555.252,562.132 561.049,558.24 572.992,566.721" fill="#ff60c0"/>
<polygon points="584.8,604.168 580.355,620.217 572.265,623.019 565.687,619.167 562.476,610.641 559.016,600.194 565.613,586.69 573.384,586.15 580.67,589.884" fill="#ff40f0"/>
<polygon points="581.849,579.285 581.139,585.814 575.123,590.372 572.529,589.442 567.769,582.53 568.109,573.777 571.979,566.901 576.318,564.808 580.928,571.223" fill="#f0f040"/>
<polygon points="555.56,584.09 554.664,593.028 550.505,599.931 547.464,598.838 544.863,588.006 546.129,579.404 547.52,573.971 551.899,569.664 553.365,573.731" fill="#ffffff"/>
<polygon points="584.311,617.699 584.171,622.305 580.545,624.396 577.27,623.133 575.444,619.851 575.604,613.545 577.982,610.371 580.701,609.242 584.235,613.019" fill="#2030ff"/>
<polygon points="589.451,619.603 589.004,623.57 585.269,624.711 583.167,624.595 580.619,620.88 580.955,618.074 582.564,616.43 585.445,615.254 589.839,617.285" fill="#60ff40"/>
<polygon points="589.705,641.485 588.314,652.018 586.944,655.209 584.679,654.167 582.472,647.732 582.826,636.894 583.376,631.595 586.663,629.179 589.393,634.733" fill="#ffffff"/>
<polygon points="564.053,609.34 562.28,617.015 557.819,620.193 551.905,617.498 547.92,614.315 549.121,606.724 552.947,601.803 558.545,601.731 563.689,604.609" fill="#ff3080"/>
<polygon points="537.764,656.693 535.151,664.004 532.043,669.234 524.966,667.972 522.073,662.501 522.634,655.257 525.758,645.089 531.258,644.875 535.468,650.865" fill="#80ff50"/>
<polygon points="540.222,671.841 538.503,675.669 533.821,679.431 530.766,680.006 527.421,673.27 527.001,665.573 529.699,662.622 533.506,660.384 538.882,663.065" fill="#ffffff"/>
<polygon points="532.026,682.675 530.559,688.158 526.977,692.405 520.507,690.64 518.625,686.841 518.793,677.709 522.275,671.79 527.013,671.677 531.111,675.519" fill="#2020ff"/>
<polygon points="528.115,691.812 526.888,695.712 524.908,696.271 521.703,696.577 520.715,694.239 520.598,691.569 522.05,687.996 525.103,688.423 526.834,690.232" fill="#f0f040"/>
<polygon points="591.575,598.45 591.372,601.164 587.739,604.082 584.019,604.343 579.932,600.074 579.647,596.178 582.567,592.187 587.268,590.616 590.34,592.284" fill="#f0f040"/>
<polygon points="596.402,608.801 595.297,615.916 589.355,619.937 586.555,620.009 583.07,615.051 583.236,607.284 585.675,600.685 590.388,600.627 594.432,603.552" fill="#ff40e0"/>
<polygon points="592.467,622.73 589.998,628.918 585.944,629.603 582.568,627.755 581.02,625.518 580.13,621.317 583.513,617.78 586.6,617.678 590.116,619.454" fill="#2030ff"/>
<polygon points="595.204,634.36 593.689,638.136 591.514,639.975 588.196,639.241 585.075,636.659 585.484,632.304 588.146,629.83 591.36,629.959 592.909,631.531" fill="#60ff40"/>
<polygon points="710.251,702.928 708.881,709.918 707.006,711.339 704.451,711.583 702.313,705.562 702.461,703.383 703.599,697.652 707.136,697.522 708.301,699.517" fill="#ff50f0"/>
<polygon points="708.199,716.269 707.457,720.542 704.042,722.323 701.892,721.667 700.909,719.099 700.325,715.195 701.807,713.318 703.926,711.524 707.613,713.816" fill="#80ff50"/>
<polygon points="705.8,725.109 704.682,728.069 702.214,730.455 700.743,728.761 698.393,726.704 698.743,722.485 700.379,718.109 702.549,718.896 705.406,720.92" fill="#ffd0c0"/>
<polygon points="709.618,733.36 708.992,736.963 705.919,738.024 703.192,737.365 700.316,734.708 700.043,733.235 702.182,731.173 705.789,730.017 709.163,731.502" fill="#80ff50"/>
<polygon points="547.538,579.895 546.634,583.064 545.121,584.707 542.461,584.324 541.273,582.245 541.385,577.981 542.128,575.696 545.145,575.764 547.215,575.985" fill="#2040ff"/>
<ellipse cx="1091.0" cy="758.0" rx="9.0" ry="8.0" fill="#2020ff"/>
<polygon points="1104,730 1112,730 1114,766 1104,766" fill="#ff30f0"/>
<polygon points="1117,720 1128,720 1134,755 1124,755" fill="#8a86ff"/>
<polygon points="1120,720 1128,720 1129,731 1122,731" fill="#2020ff"/>
<rect x="1135" y="755" width="14" height="10" fill="#fff"/>
<polygon points="320,53 329,66 337,120 346,156 355,192 358,213 350,218 341,220 335,213 330,210 323,199 321,188 325,186 325,174 323,120 316,64" fill="none" stroke="#111" stroke-width="1.3" stroke-dasharray="3,2"/>
<polygon points="442,119 447,119 450,138 460,165 464,192 466,204 468,244 464,270 455,282 450,277 448,248 444,192 446,170 446,160 441,121" fill="none" stroke="#111" stroke-width="1.3" stroke-dasharray="3,2"/>
<polygon points="541,5.5 562,5.5 566,26 573,48 582,70 588,92 593,110 599,136 608,165 612,187 617,209 619,229 615,232 608,235.5 610,242 606,244 603.6,220 595,194 586,183 586,165 579,154 575,143 568,121 562,84 551,44 542,13" fill="none" stroke="#111" stroke-width="1.3" stroke-dasharray="3,2"/>
<polygon points="74,565 89,571 103,574 109,571 120.5,574 125,585 127,612 132,645 136,690 140.6,730 147,734 145,765 114,765 109,745 98,696 91.5,679 85,634 76,607 74,567" fill="none" stroke="#111" stroke-width="1.3" stroke-dasharray="3,2"/>
<polygon points="421.7,417.4 446,406 450.7,397 468.6,395 491,399.6 493,424 506.5,444 517.7,471 522,510 522,522 520,540 522,545 526.6,567 530,596 530,612 526.6,632 522,656 520,670 513,661 507.6,652 504,648 498.7,661 499.8,681 491,682 479.7,672 470.8,656 464,634 459.6,614 450.7,603 446,567 437,540 439.6,513 437,510 435,495.5 428.4,451 421.7,419.6" fill="none" stroke="#111" stroke-width="1.3" stroke-dasharray="3,2"/>
<polygon points="636,328 645,331 642.5,350 651,375 656,384 665,382 669,406 678,435 683,451 683,415 687,413 696,437.5 700.5,446 709.5,449 716,469 718,487 714,496 716,500 723,518 727,533.5 734,556 743,574 745,589 747,612 750,632 745,638 736,641 723,632 714,623 712,603 707,583 709.5,578 709.5,562.5 705,545 694,529 692,525 685,522 683,510 680,478 676,455 669,453 660,444 651,424 640,404 642.5,388 636,380 636,357 629,344" fill="none" stroke="#111" stroke-width="1.3" stroke-dasharray="3,2"/>
<ellipse cx="993" cy="555" rx="47" ry="82" transform="rotate(-15 993 555)" fill="none" stroke="#000" stroke-width="5" stroke-dasharray="5,4"/>
<line x1="1062" y1="301" x2="1050.6" y2="281.4" stroke="#000" stroke-width="3.6"/><polygon points="1041,265 1059.8,278.4 1049.6,279.7 1043.4,287.9" fill="#000"/>
<line x1="716" y1="248" x2="705.2" y2="228.6" stroke="#000" stroke-width="3.6"/><polygon points="696,212 714.5,225.7 704.3,226.9 697.9,235.0" fill="#000"/>
<line x1="1078" y1="510" x2="1056.6" y2="514.6" stroke="#000" stroke-width="4.4"/><polygon points="1038,518.5 1056.6,504.8 1054.6,515.0 1060.5,523.4" fill="#000"/>
<text class="t" x="331" y="193" font-size="29">4</text>
<text class="t" x="451" y="231" font-size="29">5</text>
<text class="t" x="573.5" y="131.5" font-size="29">6</text>
<text class="t" x="107" y="678.5" font-size="29">7</text>
<text class="t" x="476" y="542.4" font-size="29">8</text>
<text class="t" x="689" y="502" font-size="29">9</text>
<text class="t" x="1059" y="327.7" font-size="29">1</text>
<text class="t" x="713.5" y="274.5" font-size="29">2</text>
<text class="t" x="1080" y="523" font-size="29">3</text>
<text x="16.3" y="52" font-family="Liberation Sans,Arial,sans-serif" font-weight="bold" font-size="52" fill="#fff" textLength="25" lengthAdjust="spacingAndGlyphs">a</text>
</g>
<rect x="2" y="764.3" width="1147" height="1.8" fill="#1a0000"/>
<rect x="1169.6" y="75.2" width="154" height="460.5" fill="none" stroke="#000" stroke-width="1.4"/>
<polygon points="1214,96.5 1233,96.5 1233,113.6 1239,119.5 1248,127 1257,136 1264.5,143.3 1270.5,152.3 1274,160 1277.7,170 1274,176 1271,183 1258,183 1255,178 1251.6,183 1240,183 1238.5,176.3 1232,170 1225.5,163.3 1214,150" fill="#5cff0c"/>
<polygon points="1181.5,257.8 1183,256 1193,248 1201,241.5 1209,240 1232,240 1238.5,248 1240,253 1264.6,253 1265.4,246.4 1269.5,246.4 1269.5,253 1282.5,253 1284,270.8 1289,272.5 1284,277.4 1284,288.8 1277.7,295.3 1258,295.3 1251.6,297 1251.6,300 1240,303.4 1238.5,307.5 1225.5,307.5 1220.6,300 1214,293.7 1212.5,277.4 1209,274 1189.6,270.8 1183,269 1181.5,264" fill="#76f4a2"/>
<polygon points="1238.5,248 1240,253 1264.6,253 1265.4,246.4 1269.5,246.4 1269.5,253 1282.5,253 1284,270.8 1289,272.5 1284,277.4 1284,288.8 1277.7,295.3 1258,295.3 1252,297 1248,290 1242,275 1238,260" fill="#68f27c"/>
<polygon points="1223.9,362.8 1258,362.8 1264.6,369.3 1269.5,379 1274.4,390.5 1282.5,403.6 1287.4,415 1293,421.5 1294,437.8 1288.3,437.8 1286.6,433 1281.7,433 1281,437.8 1276,437.8 1271,431.3 1264.6,437.8 1261.4,444.3 1264.6,452.5 1269.5,460.6 1269.5,465.5 1253.2,465.5 1251.6,477 1246.7,477 1241.8,468.8 1235.3,460.6 1233.6,441 1220.6,437.8 1206,431.3 1204.3,415 1199.4,413.3 1199.4,392 1206,385.6 1210.8,374.2 1217.4,369.3" fill="#6c7cff"/>
<text class="t" x="1294" y="153.8" font-size="23">1</text>
<text class="t" x="1295" y="283.9" font-size="23">2</text>
<text class="t" x="1295.5" y="410.4" font-size="23">3</text>
<text class="t" x="1211.5" y="517" font-size="25">100µm</text>
<rect x="1202.4" y="522.9" width="96.8" height="3.8" fill="#000"/>
<text class="t" x="1171.6" y="573.3" font-size="18">0001</text>
<text class="t" x="1300.8" y="640.8" font-size="18">0110</text>
<line x1="1321.5" y1="625.6" x2="1330" y2="625.6" stroke="#000" stroke-width="1.3"/>
<text class="t" x="1174.5" y="713.2" font-size="18">1010</text>
<line x1="1195.4" y1="698" x2="1203.8" y2="698" stroke="#000" stroke-width="1.3"/>
<text class="t" x="1189.6" y="749.6" font-size="25.5">500µm</text>
<rect x="1173.4" y="755.8" width="106.2" height="3.8" fill="#000"/>
<clipPath id="ipfclip" clipPathUnits="userSpaceOnUse"><path d="M2.3,2.2 L2.3,120 A120,120 0 0 0 109.6,61 Z"/></clipPath>
<path d="M1192.3,575.2 L1192.3,693 A120,120 0 0 0 1299.6,634 Z" fill="none" stroke="#111" stroke-width="1.4"/>
<g clip-path="url(#dclip)">
<rect x="840" y="820" width="400" height="405" fill="#0a14f2"/>
<g filter="url(#bl6)">
<polygon points="890,855 925,845 955,850 975,872 990,898 1040,902 1078,908 1092,890 1106,862 1122,840 1135,820 880,820" fill="#2a6cff"/>
<polygon points="1120,1165 1140,1160 1165,1175 1170,1215 1120,1215" fill="#2a6cff"/>
</g><g filter="url(#bl3)">
<polygon points="915,852 945,846 965,862 985,892 1040,896 1062,888 1082,872 1100,850 1112,832 1120,820 905,820" fill="#1c9a64"/>
<polygon points="938,852 952,849 972,870 988,892 1040,892 1040,820 930,820" fill="#3cf232"/>
<polygon points="1040,820 1078,820 1080,845 1066,862 1040,866" fill="#3cf232"/>
<ellipse cx="1004" cy="838" rx="24" ry="16" fill="#e8ff20"/>
<ellipse cx="1004" cy="838" rx="19" ry="12.5" fill="#ff9010"/>
</g>
<polygon points="990,828 1019,828 1021,835 1019,842 1012,849 994,849 989,842" fill="#ff7a10" filter="url(#bl1)"/>
<polygon points="992,829 1017,829 1018,836 1016,841 1010,846 996,846 991,840" fill="#ff2a10"/>
<g filter="url(#bl6)">
<polygon points="1063,1128 1075,1100 1098,1084 1120,1086 1128,1110 1118,1140 1100,1154 1075,1150" fill="#2a6cff"/>
<polygon points="1075,1128 1092,1116 1108,1118 1110,1135 1095,1142 1078,1140" fill="#1a8c68"/>
<ellipse cx="1192" cy="1107" rx="9" ry="9" fill="#2a60ff"/>
<polygon points="950,1185 990,1178 1040,1176 1090,1172 1130,1160 1160,1165 1170,1230 950,1230" fill="#2a6cff"/>
<polygon points="968,1200 1000,1192 1040,1192 1040,1230 968,1230" fill="#1c8c6a"/>
<polygon points="1110,1180 1130,1170 1150,1178 1150,1215 1110,1215" fill="#1c8c6a"/>
</g><g filter="url(#bl3)">
<polygon points="1042,1196 1070,1190 1100,1188 1122,1192 1122,1230 1042,1230" fill="#50ff18"/>
<ellipse cx="1075" cy="1216" rx="14" ry="5" fill="#d8ff20"/>
</g>
</g>
<circle cx="219.3" cy="1022" r="197" fill="none" stroke="#000" stroke-width="1.7"/><line x1="220.2" y1="825" x2="220.2" y2="1219" stroke="#000" stroke-width="1.9"/><line x1="22.30000000000001" y1="1022.6" x2="416.3" y2="1022.6" stroke="#000" stroke-width="1.9"/>
<circle cx="628.6" cy="1022" r="197" fill="none" stroke="#000" stroke-width="1.7"/><line x1="628.4" y1="825" x2="628.4" y2="1219" stroke="#000" stroke-width="1.9"/><line x1="431.6" y1="1022.6" x2="825.6" y2="1022.6" stroke="#000" stroke-width="1.9"/>
<circle cx="1040.5" cy="1022" r="197" fill="none" stroke="#000" stroke-width="1.7"/><line x1="1040.9" y1="825" x2="1040.9" y2="1219" stroke="#000" stroke-width="1.9"/><line x1="843.5" y1="1022.6" x2="1237.5" y2="1022.6" stroke="#000" stroke-width="1.9"/>
<polygon points="203.922,828.893 202.726,831.086 199.31,831.741 196.97,831.201 192.701,829.569 193.831,828.799 194.98,826.935 198.96,826.592 203.552,827.874" fill="#ff1a1a"/>
<path d="M201.0,828.6h1.6v1.6h-1.6zM194.6,829.5h1.2v1.2h-1.2zM199.0,825.9h1.2v1.2h-1.2zM201.1,831.8h1.6v1.6h-1.6zM196.3,828.2h2.4v2.4h-2.4zM198.8,829.1h1.2v1.2h-1.2zM192.4,828.1h1.2v1.2h-1.2zM197.2,826.9h2.0v2.0h-2.0zM193.5,829.8h1.6v1.6h-1.6zM205.2,829.6h2.4v2.4h-2.4zM200.0,831.5h1.6v1.6h-1.6zM193.8,825.2h1.2v1.2h-1.2zM195.4,828.7h1.2v1.2h-1.2zM200.8,829.8h1.2v1.2h-1.2zM201.0,829.8h2.0v2.0h-2.0zM198.8,828.3h2.0v2.0h-2.0zM198.6,829.0h1.2v1.2h-1.2zM203.8,829.8h1.6v1.6h-1.6zM194.7,828.9h2.4v2.4h-2.4zM202.7,828.2h1.6v1.6h-1.6zM203.6,827.9h1.2v1.2h-1.2zM204.4,827.6h1.2v1.2h-1.2zM197.7,828.4h2.4v2.4h-2.4zM199.0,828.6h2.0v2.0h-2.0zM193.4,830.0h2.0v2.0h-2.0zM200.2,826.2h1.2v1.2h-1.2zM197.9,829.8h2.4v2.4h-2.4zM203.1,832.4h2.4v2.4h-2.4zM199.1,826.2h2.0v2.0h-2.0zM198.2,830.3h2.4v2.4h-2.4zM195.4,828.8h2.0v2.0h-2.0zM201.4,828.5h1.6v1.6h-1.6zM203.5,827.4h1.6v1.6h-1.6zM203.9,831.0h2.0v2.0h-2.0zM195.7,829.8h1.2v1.2h-1.2zM189.6,828.2h1.6v1.6h-1.6zM198.9,829.7h1.6v1.6h-1.6zM202.0,828.5h1.2v1.2h-1.2zM197.1,828.3h1.2v1.2h-1.2zM197.8,827.5h1.2v1.2h-1.2zM200.8,829.1h2.4v2.4h-2.4zM197.0,828.5h2.0v2.0h-2.0zM198.7,828.0h2.0v2.0h-2.0zM200.1,829.0h1.6v1.6h-1.6zM195.5,827.5h1.6v1.6h-1.6z" fill="#ff1a1a"/>
<polygon points="198.834,844.594 195.412,846.411 191.75,846.913 185.753,847.162 181.087,845.681 178.406,843.237 184.817,841.836 191.287,841.744 194.857,842.228" fill="#ff1a1a"/>
<path d="M180.7,846.0h2.4v2.4h-2.4zM201.7,844.1h2.4v2.4h-2.4zM182.3,847.5h1.2v1.2h-1.2zM180.4,846.6h1.2v1.2h-1.2zM195.8,841.6h2.0v2.0h-2.0zM188.6,844.7h1.6v1.6h-1.6zM191.3,844.8h2.0v2.0h-2.0zM186.7,843.4h1.6v1.6h-1.6zM176.9,844.8h1.2v1.2h-1.2zM182.0,846.3h1.6v1.6h-1.6zM193.7,845.0h2.0v2.0h-2.0zM190.8,843.6h2.0v2.0h-2.0zM182.2,846.8h1.6v1.6h-1.6zM181.8,846.7h2.0v2.0h-2.0zM183.7,846.2h1.2v1.2h-1.2zM198.4,841.3h1.6v1.6h-1.6zM187.4,846.3h1.2v1.2h-1.2zM189.5,845.7h1.6v1.6h-1.6zM189.8,840.6h1.6v1.6h-1.6zM184.3,842.7h1.2v1.2h-1.2zM197.7,845.3h2.0v2.0h-2.0zM188.9,844.9h2.4v2.4h-2.4zM185.8,844.5h2.4v2.4h-2.4zM191.4,844.9h2.4v2.4h-2.4zM201.1,842.4h2.4v2.4h-2.4zM185.9,844.8h1.2v1.2h-1.2zM188.1,846.5h1.6v1.6h-1.6zM196.2,843.4h1.2v1.2h-1.2zM181.6,844.3h1.6v1.6h-1.6zM177.0,842.9h2.4v2.4h-2.4zM200.5,847.4h1.2v1.2h-1.2zM189.0,845.6h2.0v2.0h-2.0zM189.4,845.2h2.0v2.0h-2.0zM173.8,845.3h1.6v1.6h-1.6zM195.0,845.4h2.0v2.0h-2.0zM193.0,845.3h2.0v2.0h-2.0zM197.8,845.7h2.4v2.4h-2.4zM184.9,844.5h1.2v1.2h-1.2zM180.8,841.8h1.2v1.2h-1.2zM182.8,842.1h1.2v1.2h-1.2zM184.3,844.1h2.4v2.4h-2.4zM187.0,843.5h2.0v2.0h-2.0zM195.8,847.2h2.0v2.0h-2.0zM188.0,840.5h2.0v2.0h-2.0zM183.7,842.0h1.6v1.6h-1.6zM195.8,844.6h1.2v1.2h-1.2zM177.1,845.6h2.0v2.0h-2.0zM185.6,844.8h1.6v1.6h-1.6zM187.0,846.0h1.6v1.6h-1.6zM194.7,843.7h1.6v1.6h-1.6zM204.1,844.8h1.6v1.6h-1.6zM194.4,845.2h2.4v2.4h-2.4zM186.8,843.2h1.6v1.6h-1.6zM191.3,846.5h2.0v2.0h-2.0zM195.8,844.4h1.6v1.6h-1.6zM199.3,843.9h1.2v1.2h-1.2zM184.0,845.4h1.2v1.2h-1.2zM179.0,843.0h1.6v1.6h-1.6zM188.9,844.4h2.0v2.0h-2.0zM183.2,843.0h2.4v2.4h-2.4zM191.8,845.5h1.2v1.2h-1.2zM187.8,846.4h1.6v1.6h-1.6zM192.2,844.4h2.0v2.0h-2.0zM190.4,844.0h1.6v1.6h-1.6zM186.5,844.8h2.4v2.4h-2.4zM190.0,843.0h1.6v1.6h-1.6zM198.9,840.6h2.0v2.0h-2.0zM198.6,843.8h1.2v1.2h-1.2zM202.1,845.8h1.2v1.2h-1.2zM202.2,843.5h1.2v1.2h-1.2zM184.8,849.4h1.6v1.6h-1.6zM182.0,845.6h2.0v2.0h-2.0zM192.0,841.7h1.2v1.2h-1.2zM181.8,845.2h2.0v2.0h-2.0zM201.8,841.4h1.6v1.6h-1.6zM181.0,845.4h2.0v2.0h-2.0zM185.2,843.9h2.0v2.0h-2.0zM184.8,842.8h2.0v2.0h-2.0zM187.7,843.7h1.2v1.2h-1.2zM183.7,842.8h2.0v2.0h-2.0zM189.1,844.1h2.4v2.4h-2.4zM183.1,847.2h1.6v1.6h-1.6zM183.3,844.8h1.6v1.6h-1.6zM191.5,844.3h1.6v1.6h-1.6zM182.6,843.9h1.6v1.6h-1.6zM192.5,843.6h2.0v2.0h-2.0zM183.4,846.0h2.0v2.0h-2.0zM191.9,845.4h1.6v1.6h-1.6zM191.0,843.7h1.6v1.6h-1.6zM195.3,842.6h1.2v1.2h-1.2zM182.0,844.8h2.0v2.0h-2.0zM183.6,843.5h2.4v2.4h-2.4zM184.3,847.7h1.2v1.2h-1.2zM183.9,841.3h2.4v2.4h-2.4zM177.8,848.1h2.0v2.0h-2.0zM193.4,842.0h1.6v1.6h-1.6zM184.2,839.5h1.6v1.6h-1.6zM180.4,847.2h2.0v2.0h-2.0zM190.0,845.0h2.4v2.4h-2.4z" fill="#ff1a1a"/>
<polygon points="192.271,853.722 190.288,855.135 188.755,856.14 184.393,855.602 183.382,854.57 182.035,852.55 184.046,851.118 187.411,850.015 190.671,851.965" fill="#ff1a1a"/>
<path d="M192.5,856.3h1.6v1.6h-1.6zM188.7,854.7h2.0v2.0h-2.0zM185.6,855.1h2.4v2.4h-2.4zM189.0,852.0h1.2v1.2h-1.2zM186.8,854.8h1.2v1.2h-1.2zM183.6,851.1h2.0v2.0h-2.0zM191.2,856.2h2.0v2.0h-2.0zM185.0,855.2h1.6v1.6h-1.6zM179.6,849.6h1.2v1.2h-1.2zM187.0,849.5h2.4v2.4h-2.4zM183.3,855.3h1.6v1.6h-1.6zM186.5,854.0h2.4v2.4h-2.4zM190.4,854.7h1.6v1.6h-1.6zM187.9,851.2h2.4v2.4h-2.4zM187.6,851.9h1.2v1.2h-1.2zM188.6,851.3h2.4v2.4h-2.4zM188.3,854.2h1.6v1.6h-1.6zM190.4,855.0h1.6v1.6h-1.6zM187.0,850.9h2.0v2.0h-2.0zM186.9,852.8h1.2v1.2h-1.2zM187.5,854.9h2.4v2.4h-2.4zM182.0,850.4h1.6v1.6h-1.6zM197.2,852.7h2.0v2.0h-2.0zM187.8,853.8h2.4v2.4h-2.4zM187.8,849.6h2.0v2.0h-2.0zM184.0,854.7h2.0v2.0h-2.0zM191.0,854.2h1.2v1.2h-1.2zM186.3,854.9h1.6v1.6h-1.6zM191.2,857.0h1.6v1.6h-1.6zM185.0,853.6h1.2v1.2h-1.2zM188.1,850.2h2.0v2.0h-2.0zM185.6,851.2h2.0v2.0h-2.0zM187.2,852.3h1.2v1.2h-1.2zM184.6,851.8h1.2v1.2h-1.2zM186.9,856.2h1.6v1.6h-1.6zM181.2,854.5h2.4v2.4h-2.4zM187.4,851.4h2.4v2.4h-2.4zM187.9,850.1h2.0v2.0h-2.0zM185.9,852.6h2.4v2.4h-2.4zM193.0,855.6h1.6v1.6h-1.6zM195.5,854.5h1.6v1.6h-1.6zM191.4,854.4h1.2v1.2h-1.2zM186.6,854.0h2.0v2.0h-2.0zM185.8,853.6h2.4v2.4h-2.4zM185.4,850.3h1.2v1.2h-1.2zM193.7,854.1h1.6v1.6h-1.6zM182.3,852.7h2.0v2.0h-2.0zM189.0,855.3h2.4v2.4h-2.4zM187.9,854.3h2.4v2.4h-2.4z" fill="#ff1a1a"/>
<polygon points="224.972,896.639 221.927,901.964 216.886,903.019 208.451,902.85 206.352,898 206.83,894.265 211.46,888.108 216.736,888.719 224.311,891.295" fill="#f030f0"/>
<path d="M221.9,893.0h2.0v2.0h-2.0zM216.0,894.8h2.4v2.4h-2.4zM219.4,888.7h2.0v2.0h-2.0zM211.6,903.7h2.0v2.0h-2.0zM211.7,889.1h1.2v1.2h-1.2zM221.0,886.7h2.0v2.0h-2.0zM226.3,896.6h1.2v1.2h-1.2zM228.1,888.5h2.0v2.0h-2.0zM216.3,900.5h2.0v2.0h-2.0zM220.6,894.6h2.0v2.0h-2.0zM211.5,898.6h1.6v1.6h-1.6zM225.0,896.6h1.6v1.6h-1.6zM219.3,889.2h1.2v1.2h-1.2zM225.8,895.5h1.6v1.6h-1.6zM217.4,892.4h2.0v2.0h-2.0zM206.7,902.7h1.6v1.6h-1.6zM216.2,904.1h1.2v1.2h-1.2zM208.7,904.2h2.0v2.0h-2.0zM218.1,894.1h1.2v1.2h-1.2zM218.8,886.5h2.4v2.4h-2.4zM222.3,894.1h2.4v2.4h-2.4zM218.1,885.8h1.6v1.6h-1.6zM214.8,891.2h1.2v1.2h-1.2zM220.1,898.7h1.2v1.2h-1.2zM216.7,895.3h2.0v2.0h-2.0zM217.7,896.8h1.2v1.2h-1.2zM217.8,901.4h2.4v2.4h-2.4zM212.8,901.4h2.4v2.4h-2.4zM212.3,902.8h2.4v2.4h-2.4zM213.1,900.3h2.0v2.0h-2.0zM215.1,891.2h1.2v1.2h-1.2zM197.6,885.4h1.2v1.2h-1.2zM209.0,896.5h1.6v1.6h-1.6zM217.1,900.7h2.0v2.0h-2.0zM223.9,892.7h1.2v1.2h-1.2zM210.9,890.5h2.4v2.4h-2.4zM209.9,893.0h1.6v1.6h-1.6zM213.0,897.0h2.0v2.0h-2.0zM220.3,887.8h2.0v2.0h-2.0zM224.6,901.5h1.2v1.2h-1.2zM218.1,906.5h2.4v2.4h-2.4zM220.5,902.1h1.2v1.2h-1.2zM219.4,894.5h2.0v2.0h-2.0zM223.2,895.7h1.6v1.6h-1.6zM205.0,896.5h1.2v1.2h-1.2zM213.8,893.5h2.4v2.4h-2.4zM223.7,896.0h1.6v1.6h-1.6zM221.2,906.3h1.2v1.2h-1.2zM219.6,892.4h1.2v1.2h-1.2zM215.9,897.1h1.6v1.6h-1.6zM200.9,895.2h1.6v1.6h-1.6zM221.1,901.7h1.2v1.2h-1.2zM207.9,899.2h2.0v2.0h-2.0zM211.9,893.7h1.6v1.6h-1.6zM208.5,895.5h1.2v1.2h-1.2zM217.3,886.8h1.6v1.6h-1.6zM215.5,892.2h2.0v2.0h-2.0zM216.9,905.5h1.6v1.6h-1.6zM204.6,889.3h1.6v1.6h-1.6zM225.6,894.8h1.2v1.2h-1.2zM215.5,887.9h1.6v1.6h-1.6zM213.8,905.7h1.2v1.2h-1.2zM215.2,896.0h1.2v1.2h-1.2zM224.7,887.9h2.4v2.4h-2.4zM220.0,900.5h1.6v1.6h-1.6zM221.3,895.9h1.6v1.6h-1.6zM220.1,895.9h2.4v2.4h-2.4zM211.3,900.3h2.0v2.0h-2.0zM217.9,899.1h1.2v1.2h-1.2zM220.8,901.4h1.2v1.2h-1.2zM211.5,895.9h2.4v2.4h-2.4zM221.4,888.5h2.4v2.4h-2.4zM210.5,896.7h1.6v1.6h-1.6zM208.1,897.1h1.6v1.6h-1.6zM216.2,900.8h2.4v2.4h-2.4zM221.8,894.9h2.0v2.0h-2.0zM215.0,891.4h2.4v2.4h-2.4zM211.2,891.4h1.2v1.2h-1.2zM226.3,898.3h2.4v2.4h-2.4zM210.1,901.8h2.4v2.4h-2.4zM224.0,893.9h1.6v1.6h-1.6zM206.7,893.5h1.2v1.2h-1.2zM218.9,895.1h2.0v2.0h-2.0zM212.8,891.3h2.0v2.0h-2.0zM207.5,891.8h2.0v2.0h-2.0zM216.7,893.1h2.4v2.4h-2.4zM212.5,892.6h1.6v1.6h-1.6zM224.6,890.4h1.2v1.2h-1.2zM207.0,889.8h2.4v2.4h-2.4zM209.5,896.1h1.2v1.2h-1.2zM211.0,901.1h2.0v2.0h-2.0zM210.9,891.5h2.0v2.0h-2.0zM215.3,903.1h2.0v2.0h-2.0zM226.9,897.0h1.2v1.2h-1.2zM206.4,904.6h1.2v1.2h-1.2zM214.6,900.6h2.4v2.4h-2.4zM220.7,902.7h1.2v1.2h-1.2zM219.4,897.6h1.6v1.6h-1.6zM218.3,899.0h1.2v1.2h-1.2zM212.6,897.0h1.2v1.2h-1.2zM223.1,893.9h1.2v1.2h-1.2zM216.1,893.1h1.6v1.6h-1.6zM222.7,897.5h2.4v2.4h-2.4zM207.7,899.4h1.6v1.6h-1.6zM201.3,887.9h1.2v1.2h-1.2zM218.8,897.5h1.2v1.2h-1.2zM225.4,897.1h1.6v1.6h-1.6zM218.4,898.0h1.6v1.6h-1.6zM217.5,900.6h1.6v1.6h-1.6zM204.3,907.0h2.4v2.4h-2.4zM212.6,900.7h2.4v2.4h-2.4zM217.4,909.9h1.6v1.6h-1.6zM222.3,905.4h2.0v2.0h-2.0zM209.1,890.6h2.4v2.4h-2.4zM206.2,894.5h1.2v1.2h-1.2zM217.2,889.6h1.2v1.2h-1.2zM203.1,899.2h2.0v2.0h-2.0zM211.5,890.8h1.6v1.6h-1.6zM224.5,887.2h1.6v1.6h-1.6zM205.9,896.2h1.6v1.6h-1.6zM215.3,895.5h1.2v1.2h-1.2zM218.9,891.9h1.6v1.6h-1.6zM206.3,892.5h2.4v2.4h-2.4zM211.9,901.1h1.6v1.6h-1.6zM213.1,900.6h2.0v2.0h-2.0zM219.9,895.9h1.2v1.2h-1.2zM225.2,895.5h2.0v2.0h-2.0zM210.5,890.8h2.0v2.0h-2.0zM222.4,904.5h2.4v2.4h-2.4zM227.5,893.0h1.2v1.2h-1.2zM203.7,896.5h1.2v1.2h-1.2zM221.9,903.0h2.4v2.4h-2.4zM222.6,892.2h2.4v2.4h-2.4zM215.4,895.5h1.6v1.6h-1.6zM219.6,898.5h1.2v1.2h-1.2zM210.2,892.6h2.0v2.0h-2.0zM221.6,898.8h2.0v2.0h-2.0zM221.6,899.5h2.0v2.0h-2.0zM217.6,903.3h2.0v2.0h-2.0zM216.4,892.6h2.4v2.4h-2.4zM216.7,888.1h2.0v2.0h-2.0zM203.4,898.8h2.4v2.4h-2.4zM211.6,888.7h1.2v1.2h-1.2zM227.1,898.8h2.0v2.0h-2.0zM233.4,901.1h1.6v1.6h-1.6zM208.2,904.1h1.6v1.6h-1.6zM215.1,902.1h2.4v2.4h-2.4zM212.9,896.3h1.2v1.2h-1.2zM217.4,902.8h1.2v1.2h-1.2zM214.8,891.3h1.6v1.6h-1.6zM224.3,894.0h1.2v1.2h-1.2zM208.1,888.2h2.0v2.0h-2.0zM213.6,898.6h1.6v1.6h-1.6zM204.6,897.5h2.0v2.0h-2.0zM215.4,897.8h1.6v1.6h-1.6zM222.8,892.1h1.2v1.2h-1.2zM210.2,891.3h2.4v2.4h-2.4zM217.1,901.2h2.4v2.4h-2.4zM218.8,888.7h2.4v2.4h-2.4zM216.3,901.7h1.6v1.6h-1.6zM218.9,894.6h1.2v1.2h-1.2zM209.5,894.2h1.6v1.6h-1.6zM227.2,890.4h2.4v2.4h-2.4zM210.6,896.2h2.0v2.0h-2.0zM221.6,899.5h2.0v2.0h-2.0zM222.5,905.1h2.0v2.0h-2.0zM213.3,897.7h1.6v1.6h-1.6zM210.4,896.0h2.0v2.0h-2.0zM209.6,900.3h2.0v2.0h-2.0zM216.3,891.5h2.4v2.4h-2.4zM219.2,899.0h2.0v2.0h-2.0zM201.3,891.2h2.0v2.0h-2.0zM201.1,897.4h1.6v1.6h-1.6zM203.4,893.2h1.6v1.6h-1.6zM210.0,901.4h2.0v2.0h-2.0zM212.9,903.8h1.2v1.2h-1.2zM211.7,897.7h1.2v1.2h-1.2zM217.6,901.9h1.2v1.2h-1.2zM215.6,892.2h1.2v1.2h-1.2zM209.7,885.2h1.6v1.6h-1.6zM211.2,888.7h1.2v1.2h-1.2zM213.8,909.9h1.2v1.2h-1.2zM220.9,895.1h1.2v1.2h-1.2zM209.7,895.5h1.6v1.6h-1.6zM219.8,896.3h1.6v1.6h-1.6zM219.3,894.0h1.6v1.6h-1.6zM220.1,894.3h2.0v2.0h-2.0zM212.7,891.5h1.2v1.2h-1.2zM226.4,900.0h2.4v2.4h-2.4zM223.6,901.5h2.0v2.0h-2.0zM208.9,895.5h1.2v1.2h-1.2zM234.9,891.3h2.4v2.4h-2.4zM209.0,890.8h1.6v1.6h-1.6zM211.4,899.5h1.6v1.6h-1.6zM207.0,904.6h2.0v2.0h-2.0zM211.9,895.2h1.6v1.6h-1.6zM220.5,901.5h1.2v1.2h-1.2zM219.6,901.1h1.2v1.2h-1.2zM209.5,894.0h1.2v1.2h-1.2zM214.9,892.3h1.6v1.6h-1.6zM216.4,904.6h1.6v1.6h-1.6zM220.3,893.0h1.2v1.2h-1.2zM219.8,890.1h2.4v2.4h-2.4zM210.0,903.5h1.6v1.6h-1.6zM235.1,893.5h1.2v1.2h-1.2zM208.4,897.8h1.2v1.2h-1.2zM212.4,894.0h1.2v1.2h-1.2zM214.9,904.9h1.2v1.2h-1.2zM214.2,897.8h2.0v2.0h-2.0zM225.4,900.0h2.4v2.4h-2.4zM215.7,899.0h2.0v2.0h-2.0zM202.2,901.0h1.2v1.2h-1.2zM213.7,890.7h1.6v1.6h-1.6zM209.2,892.9h1.6v1.6h-1.6zM220.2,887.7h2.0v2.0h-2.0zM209.8,895.8h1.2v1.2h-1.2zM205.1,894.9h1.6v1.6h-1.6zM211.7,895.8h1.6v1.6h-1.6zM207.0,899.1h1.2v1.2h-1.2zM216.0,901.8h1.6v1.6h-1.6zM214.0,894.0h2.4v2.4h-2.4zM223.8,900.1h2.0v2.0h-2.0zM213.0,899.5h2.0v2.0h-2.0zM216.6,901.1h2.4v2.4h-2.4zM218.0,896.9h1.2v1.2h-1.2zM196.9,891.8h1.2v1.2h-1.2zM208.5,901.2h2.0v2.0h-2.0zM218.8,903.2h2.4v2.4h-2.4zM209.2,893.8h1.2v1.2h-1.2zM226.2,892.2h2.4v2.4h-2.4zM217.2,897.4h2.4v2.4h-2.4zM222.3,901.6h1.6v1.6h-1.6zM200.3,889.3h1.2v1.2h-1.2zM218.3,887.2h1.2v1.2h-1.2zM219.8,899.0h1.2v1.2h-1.2zM218.3,908.3h2.0v2.0h-2.0zM209.9,902.5h2.0v2.0h-2.0zM205.7,901.3h1.6v1.6h-1.6zM222.3,895.2h1.2v1.2h-1.2zM220.9,900.8h2.4v2.4h-2.4zM221.5,890.5h1.6v1.6h-1.6zM212.9,892.6h1.2v1.2h-1.2zM220.2,899.3h1.6v1.6h-1.6zM217.4,896.0h2.0v2.0h-2.0zM220.2,898.2h2.0v2.0h-2.0zM221.6,889.0h2.4v2.4h-2.4zM224.5,894.6h1.6v1.6h-1.6zM213.9,899.2h2.0v2.0h-2.0zM219.7,899.4h1.6v1.6h-1.6zM208.8,890.8h1.6v1.6h-1.6zM209.0,895.9h1.6v1.6h-1.6zM220.6,897.2h1.2v1.2h-1.2zM216.8,888.0h2.0v2.0h-2.0zM210.8,895.6h2.4v2.4h-2.4zM210.5,894.8h1.2v1.2h-1.2zM218.6,890.6h1.6v1.6h-1.6zM213.9,885.8h2.0v2.0h-2.0zM213.0,896.6h2.0v2.0h-2.0zM215.1,892.5h1.6v1.6h-1.6zM222.3,895.4h2.0v2.0h-2.0zM209.1,890.0h2.0v2.0h-2.0zM210.0,894.6h2.4v2.4h-2.4zM231.4,898.7h2.0v2.0h-2.0zM217.1,892.5h2.0v2.0h-2.0z" fill="#f030f0"/>
<polygon points="391.26,1032.14 390.466,1035.43 389.819,1036.5 388.204,1035.57 387.657,1034.46 387.222,1030.46 388.269,1028.51 389.321,1027.05 390.738,1029.46" fill="#70f0a0"/>
<path d="M391.0,1034.0h1.6v1.6h-1.6zM388.1,1037.6h1.2v1.2h-1.2zM388.5,1033.1h2.0v2.0h-2.0zM388.7,1032.1h2.0v2.0h-2.0zM388.1,1033.4h2.0v2.0h-2.0zM390.5,1031.9h1.6v1.6h-1.6zM389.1,1032.5h2.0v2.0h-2.0zM390.1,1034.0h1.6v1.6h-1.6zM388.5,1028.2h1.6v1.6h-1.6zM389.7,1036.3h1.6v1.6h-1.6zM389.0,1034.3h1.6v1.6h-1.6zM389.4,1036.4h2.0v2.0h-2.0zM390.4,1035.1h1.2v1.2h-1.2zM388.6,1032.1h1.6v1.6h-1.6zM385.7,1035.9h2.0v2.0h-2.0zM390.1,1032.4h2.0v2.0h-2.0zM390.2,1032.0h2.4v2.4h-2.4zM389.3,1036.5h2.4v2.4h-2.4zM388.3,1029.3h2.0v2.0h-2.0zM389.0,1037.7h2.4v2.4h-2.4zM389.1,1032.3h2.4v2.4h-2.4zM387.6,1033.2h1.6v1.6h-1.6zM389.7,1026.1h2.4v2.4h-2.4zM390.9,1039.0h2.0v2.0h-2.0zM389.4,1026.9h1.2v1.2h-1.2zM388.3,1038.2h1.2v1.2h-1.2zM391.7,1035.1h1.6v1.6h-1.6zM388.4,1034.7h2.4v2.4h-2.4zM388.8,1037.0h2.0v2.0h-2.0zM390.0,1032.0h2.4v2.4h-2.4zM390.0,1033.9h1.6v1.6h-1.6z" fill="#70f0a0"/>
<polygon points="354.824,1068.16 354.161,1070.87 352.84,1071.38 351.036,1071.09 349.95,1069.38 349.885,1067.48 351.522,1066 353.022,1065.81 353.91,1066.5" fill="#50ff20"/>
<path d="M353.4,1067.7h1.2v1.2h-1.2zM353.7,1071.0h2.4v2.4h-2.4zM351.7,1069.7h1.6v1.6h-1.6zM352.9,1066.4h2.0v2.0h-2.0zM352.7,1067.9h2.4v2.4h-2.4zM353.2,1073.5h2.4v2.4h-2.4zM351.7,1066.4h2.4v2.4h-2.4zM353.1,1066.1h1.2v1.2h-1.2zM351.0,1066.1h2.0v2.0h-2.0zM353.2,1066.3h1.6v1.6h-1.6zM350.8,1065.1h2.0v2.0h-2.0zM351.7,1068.2h2.4v2.4h-2.4zM352.4,1067.5h2.0v2.0h-2.0zM351.7,1071.3h1.6v1.6h-1.6zM351.3,1065.6h2.0v2.0h-2.0zM350.1,1067.1h2.0v2.0h-2.0zM350.5,1068.6h1.6v1.6h-1.6zM353.5,1065.9h1.2v1.2h-1.2zM354.4,1069.9h1.6v1.6h-1.6zM352.2,1072.3h1.6v1.6h-1.6zM355.7,1065.8h1.2v1.2h-1.2zM355.8,1068.9h2.4v2.4h-2.4zM355.0,1070.4h2.4v2.4h-2.4zM349.5,1067.7h1.6v1.6h-1.6zM351.6,1071.1h1.2v1.2h-1.2z" fill="#50ff20"/>
<polygon points="297.902,1077.16 297.433,1077.95 296.842,1078.16 296.032,1078.15 295.582,1077.74 295.66,1077.13 296.337,1076.34 297.184,1076.37 297.413,1076.62" fill="#5060ff"/>
<path d="M296.6,1077.8h2.4v2.4h-2.4zM295.6,1076.6h1.6v1.6h-1.6zM296.0,1077.8h2.4v2.4h-2.4z" fill="#5060ff"/>
<polygon points="248.414,1214.96 248.202,1215.91 244.525,1216.7 239.868,1216.15 237.837,1215.24 238.056,1214.34 241.217,1213.03 243.98,1212.88 246.725,1213.18" fill="#ff1a1a"/>
<path d="M242.8,1212.3h2.0v2.0h-2.0zM241.3,1215.2h2.4v2.4h-2.4zM242.4,1213.0h2.4v2.4h-2.4zM246.4,1216.5h2.4v2.4h-2.4zM246.5,1214.1h1.6v1.6h-1.6zM243.5,1214.0h1.6v1.6h-1.6zM239.1,1216.5h1.2v1.2h-1.2zM242.7,1215.9h1.2v1.2h-1.2zM239.6,1214.9h1.6v1.6h-1.6zM240.4,1216.8h2.0v2.0h-2.0zM242.8,1217.1h1.6v1.6h-1.6zM242.3,1214.0h1.2v1.2h-1.2zM244.2,1213.0h2.4v2.4h-2.4zM238.1,1215.5h2.4v2.4h-2.4zM243.6,1215.3h2.4v2.4h-2.4zM246.6,1217.1h2.0v2.0h-2.0zM244.3,1217.2h2.4v2.4h-2.4zM242.7,1215.3h1.6v1.6h-1.6zM245.5,1216.1h1.6v1.6h-1.6zM239.1,1215.3h1.2v1.2h-1.2zM251.2,1215.0h1.6v1.6h-1.6zM236.0,1215.6h1.2v1.2h-1.2zM240.6,1214.5h2.0v2.0h-2.0zM239.7,1213.5h1.6v1.6h-1.6zM241.0,1213.8h2.4v2.4h-2.4zM246.5,1211.5h1.6v1.6h-1.6zM242.3,1214.1h1.2v1.2h-1.2zM247.3,1215.3h1.2v1.2h-1.2zM243.8,1215.5h2.0v2.0h-2.0zM243.0,1215.3h2.4v2.4h-2.4zM243.0,1214.8h2.4v2.4h-2.4zM243.4,1215.6h2.4v2.4h-2.4zM244.9,1215.3h1.2v1.2h-1.2zM247.5,1216.1h2.4v2.4h-2.4zM241.0,1212.7h1.6v1.6h-1.6z" fill="#ff1a1a"/>
<text class="t" x="207.7" y="838.8" font-size="18">8</text>
<text class="t" x="164.6" y="850.5" font-size="18">9</text>
<text class="t" x="203" y="854" font-size="18">7</text>
<text class="t" x="170.3" y="865.5" font-size="18">6</text>
<text class="t" x="191.7" y="902.2" font-size="18">4</text>
<text class="t" x="230.9" y="903.3" font-size="18">5</text>
<text class="t" x="394.7" y="1040.4" font-size="18">2</text>
<text class="t" x="357" y="1076" font-size="18">1</text>
<text class="t" x="301" y="1085" font-size="18">3</text>
<text class="t" x="253.7" y="1214.7" font-size="18">8</text>
<path d="M577.6,846.4h2.0v2.0h-2.0zM568.0,846.4h2.0v2.0h-2.0zM576.2,847.6h2.0v2.0h-2.0zM568.9,849.4h2.0v2.0h-2.0zM573.2,844.3h1.6v1.6h-1.6zM580.2,846.5h1.0v1.0h-1.0zM575.4,849.5h2.0v2.0h-2.0zM578.7,849.7h2.0v2.0h-2.0zM576.8,848.6h1.3v1.3h-1.3zM566.6,846.2h1.0v1.0h-1.0zM571.9,845.7h1.3v1.3h-1.3zM570.1,844.3h1.0v1.0h-1.0zM569.2,849.1h1.6v1.6h-1.6zM578.3,848.4h1.3v1.3h-1.3zM566.1,848.7h1.0v1.0h-1.0zM576.7,847.8h2.0v2.0h-2.0zM572.4,846.9h2.0v2.0h-2.0zM570.9,846.5h1.3v1.3h-1.3zM570.8,844.8h2.0v2.0h-2.0zM575.6,849.4h2.0v2.0h-2.0zM573.3,847.4h1.0v1.0h-1.0zM574.6,848.1h1.6v1.6h-1.6zM579.7,844.9h2.0v2.0h-2.0zM571.0,847.8h1.6v1.6h-1.6zM566.7,847.1h2.0v2.0h-2.0zM566.7,845.4h1.3v1.3h-1.3zM565.5,847.8h1.6v1.6h-1.6zM580.4,846.6h1.0v1.0h-1.0zM565.8,849.2h2.0v2.0h-2.0zM569.4,848.6h1.0v1.0h-1.0zM578.6,846.0h2.0v2.0h-2.0zM573.1,848.0h1.0v1.0h-1.0zM573.9,847.8h1.0v1.0h-1.0zM566.5,849.3h2.0v2.0h-2.0zM571.9,847.6h1.6v1.6h-1.6zM577.4,844.1h2.0v2.0h-2.0zM569.5,843.8h1.0v1.0h-1.0z" fill="#ff2020"/>
<path d="M576.3,858.9h1.6v1.6h-1.6zM576.1,857.4h2.0v2.0h-2.0zM568.3,858.3h1.6v1.6h-1.6zM571.6,857.4h1.0v1.0h-1.0zM569.1,858.6h1.6v1.6h-1.6zM570.7,856.6h1.6v1.6h-1.6zM576.6,857.9h2.0v2.0h-2.0zM579.0,858.6h1.3v1.3h-1.3zM571.1,860.1h1.3v1.3h-1.3zM569.6,858.7h1.3v1.3h-1.3zM577.7,858.8h1.0v1.0h-1.0zM571.1,859.5h1.6v1.6h-1.6zM571.1,859.1h1.3v1.3h-1.3zM572.8,856.9h1.0v1.0h-1.0zM571.6,860.0h1.3v1.3h-1.3zM573.7,859.2h2.0v2.0h-2.0zM579.5,858.0h2.0v2.0h-2.0z" fill="#ff2080"/>
<path d="M577.3,866.9h1.6v1.6h-1.6zM578.0,866.6h2.0v2.0h-2.0zM580.0,866.3h1.0v1.0h-1.0z" fill="#ff6020"/>
<path d="M516.7,877.8h1.3v1.3h-1.3zM516.9,878.9h2.0v2.0h-2.0zM517.3,874.4h1.3v1.3h-1.3zM520.9,876.1h1.3v1.3h-1.3zM518.7,871.5h1.0v1.0h-1.0zM518.7,863.4h1.3v1.3h-1.3zM516.5,871.2h2.0v2.0h-2.0zM521.0,869.0h1.0v1.0h-1.0zM517.8,865.8h1.0v1.0h-1.0zM518.2,870.1h1.0v1.0h-1.0zM516.7,866.9h1.0v1.0h-1.0zM520.0,879.4h2.0v2.0h-2.0zM518.8,879.5h1.3v1.3h-1.3zM521.3,871.1h1.6v1.6h-1.6zM517.8,864.6h1.6v1.6h-1.6zM519.2,882.1h1.6v1.6h-1.6zM519.0,867.8h1.6v1.6h-1.6zM518.5,860.9h1.6v1.6h-1.6zM519.9,882.4h1.6v1.6h-1.6zM519.6,882.5h2.0v2.0h-2.0zM518.1,871.2h1.6v1.6h-1.6zM521.4,876.5h1.3v1.3h-1.3zM520.7,866.0h1.3v1.3h-1.3zM516.5,865.0h1.6v1.6h-1.6zM516.3,868.0h2.0v2.0h-2.0zM518.4,861.1h1.3v1.3h-1.3zM518.1,861.6h1.0v1.0h-1.0zM515.1,871.5h2.0v2.0h-2.0zM518.5,862.1h1.3v1.3h-1.3zM520.9,878.7h2.0v2.0h-2.0zM516.7,867.3h2.0v2.0h-2.0zM517.9,861.4h1.0v1.0h-1.0zM517.3,874.6h2.0v2.0h-2.0zM516.4,868.1h1.0v1.0h-1.0zM518.4,871.8h1.6v1.6h-1.6zM520.9,874.1h1.6v1.6h-1.6zM516.8,874.9h1.0v1.0h-1.0zM518.5,872.6h1.0v1.0h-1.0zM518.4,869.7h1.0v1.0h-1.0zM518.5,870.4h1.0v1.0h-1.0zM515.8,874.4h1.6v1.6h-1.6zM519.7,866.6h1.0v1.0h-1.0zM516.7,873.8h2.0v2.0h-2.0zM515.7,875.1h1.0v1.0h-1.0zM517.3,873.0h2.0v2.0h-2.0zM521.4,873.6h1.0v1.0h-1.0zM518.0,881.2h1.3v1.3h-1.3zM519.4,871.5h1.0v1.0h-1.0z" fill="#ff40f0"/>
<path d="M524.2,869.5h1.0v1.0h-1.0zM520.9,867.1h1.0v1.0h-1.0zM524.6,862.4h1.3v1.3h-1.3zM524.8,862.4h2.0v2.0h-2.0zM525.0,867.5h1.6v1.6h-1.6zM523.7,861.4h1.0v1.0h-1.0zM521.5,865.2h2.0v2.0h-2.0zM522.7,868.4h1.6v1.6h-1.6zM521.6,864.9h1.0v1.0h-1.0zM521.0,868.4h2.0v2.0h-2.0zM525.0,866.8h1.0v1.0h-1.0zM522.0,860.7h2.0v2.0h-2.0zM520.8,863.0h1.0v1.0h-1.0zM523.5,861.2h2.0v2.0h-2.0zM523.0,861.4h1.0v1.0h-1.0zM524.9,862.3h1.0v1.0h-1.0zM521.5,869.0h1.3v1.3h-1.3z" fill="#ff40f0"/>
<path d="M668.1,849.1h1.6v1.6h-1.6zM658.1,849.6h2.0v2.0h-2.0zM666.6,850.8h2.0v2.0h-2.0zM659.7,846.0h1.3v1.3h-1.3zM670.1,845.9h1.0v1.0h-1.0zM666.4,845.0h1.6v1.6h-1.6zM668.0,846.5h1.0v1.0h-1.0zM667.6,851.4h2.0v2.0h-2.0zM668.7,848.3h2.0v2.0h-2.0zM656.8,846.8h1.3v1.3h-1.3zM667.8,844.7h2.0v2.0h-2.0zM656.4,846.0h1.0v1.0h-1.0zM669.9,847.3h2.0v2.0h-2.0zM657.0,847.2h1.3v1.3h-1.3zM659.1,850.3h1.6v1.6h-1.6zM668.3,848.3h1.3v1.3h-1.3zM662.1,846.3h1.0v1.0h-1.0zM658.6,846.6h1.6v1.6h-1.6zM658.2,851.0h2.0v2.0h-2.0zM660.2,849.0h1.0v1.0h-1.0zM671.0,847.6h2.0v2.0h-2.0zM669.7,846.1h1.6v1.6h-1.6zM661.7,845.9h1.3v1.3h-1.3zM663.7,845.5h1.0v1.0h-1.0zM663.2,847.1h1.6v1.6h-1.6zM661.4,845.0h1.0v1.0h-1.0zM670.7,849.3h1.6v1.6h-1.6zM662.0,845.0h1.6v1.6h-1.6zM662.6,847.7h2.0v2.0h-2.0zM665.4,849.0h1.3v1.3h-1.3zM670.7,849.1h1.0v1.0h-1.0zM662.0,851.9h1.0v1.0h-1.0zM659.7,848.3h2.0v2.0h-2.0zM661.4,850.6h1.3v1.3h-1.3zM662.3,844.2h2.0v2.0h-2.0zM667.4,849.6h1.0v1.0h-1.0zM658.8,847.0h2.0v2.0h-2.0zM661.3,849.3h2.0v2.0h-2.0z" fill="#ff2020"/>
<path d="M671.0,851.6h1.0v1.0h-1.0zM666.5,851.2h1.0v1.0h-1.0zM670.4,852.1h2.0v2.0h-2.0zM671.3,853.0h1.3v1.3h-1.3zM666.6,853.4h2.0v2.0h-2.0zM667.6,851.7h2.0v2.0h-2.0zM669.5,852.6h1.0v1.0h-1.0zM667.3,849.6h1.3v1.3h-1.3zM666.6,854.5h2.0v2.0h-2.0zM673.9,851.9h1.0v1.0h-1.0zM671.3,853.8h2.0v2.0h-2.0zM665.7,852.7h1.6v1.6h-1.6zM668.0,850.0h1.6v1.6h-1.6zM671.2,850.6h1.0v1.0h-1.0zM664.9,851.3h2.0v2.0h-2.0zM670.9,851.0h2.0v2.0h-2.0zM669.1,850.1h2.0v2.0h-2.0zM672.3,849.9h2.0v2.0h-2.0zM667.3,851.5h1.6v1.6h-1.6zM669.9,853.5h1.0v1.0h-1.0zM670.1,851.7h1.6v1.6h-1.6zM664.1,852.1h2.0v2.0h-2.0z" fill="#ff2020"/>
<path d="M642.9,849.6h1.6v1.6h-1.6zM641.5,849.1h1.3v1.3h-1.3zM640.5,849.6h1.6v1.6h-1.6zM641.8,848.7h1.6v1.6h-1.6zM639.1,849.0h2.0v2.0h-2.0z" fill="#ff2020"/>
<path d="M653.1,858.3h2.0v2.0h-2.0zM650.9,858.7h1.3v1.3h-1.3zM652.3,856.1h1.3v1.3h-1.3zM651.5,858.7h1.6v1.6h-1.6zM651.3,858.4h1.3v1.3h-1.3z" fill="#ff2020"/>
<path d="M591.3,860.9h1.3v1.3h-1.3zM590.5,861.0h1.3v1.3h-1.3zM591.6,860.2h1.6v1.6h-1.6z" fill="#ff3080"/>
<path d="M608.7,854.8h1.6v1.6h-1.6zM608.6,856.6h1.3v1.3h-1.3zM608.2,856.6h1.0v1.0h-1.0z" fill="#ff2080"/>
<path d="M665.9,870.2h1.0v1.0h-1.0zM665.5,870.7h2.0v2.0h-2.0zM665.4,871.0h1.6v1.6h-1.6z" fill="#ff6020"/>
<path d="M683.4,879.2h1.6v1.6h-1.6zM680.3,875.4h1.3v1.3h-1.3zM683.6,874.8h1.6v1.6h-1.6zM684.3,874.9h1.3v1.3h-1.3zM680.6,878.8h1.6v1.6h-1.6zM678.8,873.9h1.6v1.6h-1.6zM681.5,875.9h1.0v1.0h-1.0zM680.4,881.7h1.6v1.6h-1.6zM681.9,877.0h1.6v1.6h-1.6zM684.4,874.6h1.6v1.6h-1.6zM682.3,873.0h1.3v1.3h-1.3zM682.9,874.5h2.0v2.0h-2.0zM680.5,877.3h1.0v1.0h-1.0zM679.3,878.6h2.0v2.0h-2.0zM681.6,877.0h1.0v1.0h-1.0zM679.9,873.2h1.3v1.3h-1.3zM681.6,881.4h1.0v1.0h-1.0zM681.6,873.6h2.0v2.0h-2.0zM678.9,874.3h1.6v1.6h-1.6zM681.3,881.9h1.6v1.6h-1.6zM683.5,874.2h1.6v1.6h-1.6z" fill="#ff2040"/>
<path d="M708.7,888.0h2.0v2.0h-2.0zM709.7,888.1h1.0v1.0h-1.0zM712.3,887.9h1.3v1.3h-1.3z" fill="#ff2040"/>
<path d="M722.4,848.0h1.3v1.3h-1.3zM719.6,849.7h1.6v1.6h-1.6zM721.0,847.9h1.0v1.0h-1.0zM724.2,848.7h2.0v2.0h-2.0z" fill="#ff8040"/>
<path d="M624.7,893.5h1.6v1.6h-1.6zM625.9,893.6h1.3v1.3h-1.3zM624.8,891.7h1.6v1.6h-1.6z" fill="#ff40f0"/>
<path d="M601.7,895.8h1.0v1.0h-1.0zM601.9,896.6h1.3v1.3h-1.3zM600.4,896.2h1.6v1.6h-1.6z" fill="#e040f0"/>
<path d="M537.2,892.2h1.0v1.0h-1.0zM533.5,892.7h1.3v1.3h-1.3zM536.1,892.0h1.3v1.3h-1.3zM532.2,893.1h1.6v1.6h-1.6z" fill="#f0e020"/>
<path d="M493.5,896.8h1.0v1.0h-1.0zM494.6,897.5h1.0v1.0h-1.0zM494.8,897.2h1.0v1.0h-1.0z" fill="#f0e020"/>
<path d="M550.3,895.1h2.0v2.0h-2.0zM549.0,896.7h2.0v2.0h-2.0zM552.5,895.1h2.0v2.0h-2.0zM549.6,895.0h1.0v1.0h-1.0z" fill="#ff40f0"/>
<path d="M555.9,908.1h1.0v1.0h-1.0zM559.7,907.6h1.3v1.3h-1.3zM554.6,906.2h2.0v2.0h-2.0zM556.1,908.8h1.3v1.3h-1.3zM558.6,906.9h1.3v1.3h-1.3zM553.1,908.2h2.0v2.0h-2.0zM558.7,906.4h1.6v1.6h-1.6zM556.7,906.5h1.6v1.6h-1.6z" fill="#a040ff"/>
<path d="M577.8,919.0h1.6v1.6h-1.6zM580.1,920.7h1.3v1.3h-1.3zM581.6,920.4h1.6v1.6h-1.6z" fill="#a040ff"/>
<path d="M724.9,906.0h2.0v2.0h-2.0zM724.9,905.1h2.0v2.0h-2.0zM725.1,904.9h1.3v1.3h-1.3z" fill="#ff40f0"/>
<path d="M699.9,900.1h2.0v2.0h-2.0zM698.4,899.8h1.6v1.6h-1.6zM699.3,900.3h1.0v1.0h-1.0z" fill="#e0f020"/>
<path d="M651.1,912.3h1.0v1.0h-1.0zM652.3,913.9h1.6v1.6h-1.6zM650.6,913.4h2.0v2.0h-2.0z" fill="#ff40f0"/>
<path d="M639.3,934.4h2.0v2.0h-2.0zM641.0,931.3h1.3v1.3h-1.3zM644.2,935.3h1.6v1.6h-1.6zM638.0,933.8h2.0v2.0h-2.0zM640.8,931.8h2.0v2.0h-2.0zM643.0,933.2h1.3v1.3h-1.3zM637.9,933.8h2.0v2.0h-2.0zM640.7,933.4h1.0v1.0h-1.0zM642.3,933.0h1.3v1.3h-1.3zM642.2,932.4h2.0v2.0h-2.0zM642.5,935.2h1.6v1.6h-1.6zM641.5,935.2h2.0v2.0h-2.0zM638.1,933.7h1.3v1.3h-1.3z" fill="#c0f040"/>
<path d="M699.0,932.6h1.3v1.3h-1.3zM699.2,932.5h1.6v1.6h-1.6zM699.2,933.1h2.0v2.0h-2.0zM698.5,931.5h1.6v1.6h-1.6z" fill="#80ff20"/>
<path d="M746.1,931.8h1.3v1.3h-1.3zM745.5,933.1h1.3v1.3h-1.3zM746.2,931.6h1.6v1.6h-1.6zM744.5,933.2h2.0v2.0h-2.0zM743.2,932.6h1.0v1.0h-1.0zM744.7,935.6h1.6v1.6h-1.6zM744.2,931.8h1.6v1.6h-1.6zM746.8,931.4h1.6v1.6h-1.6z" fill="#a060ff"/>
<path d="M515.4,937.5h1.3v1.3h-1.3zM512.4,936.1h1.6v1.6h-1.6zM514.7,934.7h1.6v1.6h-1.6zM513.4,936.9h1.3v1.3h-1.3zM517.8,937.9h1.0v1.0h-1.0zM517.0,939.0h1.0v1.0h-1.0zM515.9,934.4h1.6v1.6h-1.6zM516.4,938.9h1.3v1.3h-1.3zM517.5,936.1h1.0v1.0h-1.0zM518.4,935.9h1.0v1.0h-1.0zM514.3,938.4h1.6v1.6h-1.6zM517.1,938.3h1.6v1.6h-1.6zM513.3,935.7h1.0v1.0h-1.0z" fill="#6040ff"/>
<path d="M627.3,940.2h1.0v1.0h-1.0zM631.4,937.9h1.3v1.3h-1.3zM631.8,937.8h1.6v1.6h-1.6zM627.5,936.9h1.6v1.6h-1.6zM626.7,940.7h1.0v1.0h-1.0zM630.7,936.2h1.6v1.6h-1.6zM630.3,938.6h2.0v2.0h-2.0zM634.4,938.5h1.0v1.0h-1.0zM628.8,936.5h1.6v1.6h-1.6zM628.1,940.4h1.0v1.0h-1.0zM630.2,936.9h2.0v2.0h-2.0zM631.7,938.9h1.6v1.6h-1.6zM628.2,936.7h1.3v1.3h-1.3zM629.6,937.0h1.6v1.6h-1.6zM628.9,939.0h1.3v1.3h-1.3zM629.1,940.3h1.0v1.0h-1.0z" fill="#8040ff"/>
<path d="M564.3,936.5h2.0v2.0h-2.0zM564.9,936.3h1.0v1.0h-1.0zM564.4,936.5h1.3v1.3h-1.3z" fill="#6040ff"/>
<path d="M574.1,946.6h2.0v2.0h-2.0zM571.0,949.7h1.6v1.6h-1.6zM570.2,945.7h1.6v1.6h-1.6zM572.9,946.9h1.6v1.6h-1.6zM572.6,949.6h2.0v2.0h-2.0zM571.2,949.1h1.6v1.6h-1.6zM570.1,948.5h1.0v1.0h-1.0zM573.2,949.4h1.6v1.6h-1.6zM573.0,947.7h1.6v1.6h-1.6zM573.3,947.8h1.6v1.6h-1.6z" fill="#6040ff"/>
<path d="M583.6,953.1h1.0v1.0h-1.0zM584.9,953.5h1.0v1.0h-1.0zM584.5,954.4h2.0v2.0h-2.0z" fill="#b0a0f0"/>
<path d="M484.1,927.7h1.3v1.3h-1.3zM483.8,927.7h1.0v1.0h-1.0zM483.1,926.7h1.3v1.3h-1.3z" fill="#b0a0f0"/>
<path d="M460.7,953.6h1.0v1.0h-1.0zM459.8,952.6h1.3v1.3h-1.3zM456.4,954.0h2.0v2.0h-2.0zM456.9,953.2h2.0v2.0h-2.0zM458.0,952.5h2.0v2.0h-2.0z" fill="#80ff40"/>
<path d="M658.1,955.2h1.6v1.6h-1.6zM664.9,955.9h2.0v2.0h-2.0zM661.9,955.0h1.0v1.0h-1.0zM660.0,955.9h2.0v2.0h-2.0zM662.7,952.2h1.0v1.0h-1.0zM661.1,952.5h2.0v2.0h-2.0zM659.8,953.4h2.0v2.0h-2.0zM662.7,954.4h2.0v2.0h-2.0zM662.1,954.9h1.6v1.6h-1.6zM661.3,956.6h1.3v1.3h-1.3zM658.1,953.9h1.3v1.3h-1.3zM661.8,957.0h1.3v1.3h-1.3zM659.4,952.3h2.0v2.0h-2.0z" fill="#80ff40"/>
<path d="M515.2,954.4h2.0v2.0h-2.0zM516.4,953.5h1.3v1.3h-1.3zM515.9,953.9h1.6v1.6h-1.6z" fill="#80ff60"/>
<path d="M501.5,962.0h1.6v1.6h-1.6zM500.7,963.9h1.0v1.0h-1.0zM503.2,963.8h2.0v2.0h-2.0z" fill="#80ff40"/>
<path d="M647.5,962.6h1.6v1.6h-1.6zM645.7,963.4h1.0v1.0h-1.0zM645.6,966.0h1.6v1.6h-1.6zM644.9,966.5h1.0v1.0h-1.0zM646.5,966.8h1.0v1.0h-1.0zM646.1,967.9h1.6v1.6h-1.6zM644.8,963.6h2.0v2.0h-2.0z" fill="#a0ff60"/>
<path d="M650.8,973.3h1.6v1.6h-1.6zM650.8,970.3h1.6v1.6h-1.6zM651.7,972.2h1.0v1.0h-1.0zM651.1,973.3h2.0v2.0h-2.0zM652.6,970.9h1.0v1.0h-1.0z" fill="#a0ffa0"/>
<path d="M557.2,970.1h1.6v1.6h-1.6zM556.7,971.3h1.0v1.0h-1.0zM556.7,972.5h2.0v2.0h-2.0zM555.8,972.4h1.6v1.6h-1.6zM559.3,972.7h2.0v2.0h-2.0z" fill="#4060f0"/>
<path d="M535.6,973.8h1.3v1.3h-1.3zM537.3,974.6h1.6v1.6h-1.6zM537.4,974.1h2.0v2.0h-2.0z" fill="#80ff80"/>
<path d="M764.4,961.9h2.0v2.0h-2.0zM764.3,961.2h1.3v1.3h-1.3zM764.1,961.9h1.0v1.0h-1.0z" fill="#80ff40"/>
<path d="M495.4,989.0h2.0v2.0h-2.0zM497.6,989.8h1.3v1.3h-1.3zM496.9,988.6h1.6v1.6h-1.6zM495.4,991.9h1.3v1.3h-1.3zM494.7,988.1h1.6v1.6h-1.6zM494.3,991.9h2.0v2.0h-2.0zM496.8,988.5h1.3v1.3h-1.3zM493.5,991.9h1.0v1.0h-1.0zM494.8,989.9h2.0v2.0h-2.0zM495.5,988.8h2.0v2.0h-2.0z" fill="#2030ff"/>
<path d="M668.3,997.2h1.0v1.0h-1.0zM667.7,996.9h2.0v2.0h-2.0zM664.6,999.1h1.6v1.6h-1.6zM667.7,998.0h2.0v2.0h-2.0zM666.0,997.1h2.0v2.0h-2.0z" fill="#60ff40"/>
<path d="M703.2,1003.2h1.6v1.6h-1.6zM703.4,1002.9h1.3v1.3h-1.3zM702.6,996.8h1.3v1.3h-1.3zM702.3,1001.0h2.0v2.0h-2.0zM703.2,999.3h1.3v1.3h-1.3zM702.1,997.9h1.6v1.6h-1.6zM701.6,997.6h2.0v2.0h-2.0zM702.0,999.0h2.0v2.0h-2.0zM701.5,998.7h1.0v1.0h-1.0z" fill="#60e0e0"/>
<path d="M595.6,1013.4h1.6v1.6h-1.6zM596.3,1013.9h1.6v1.6h-1.6zM596.9,1012.0h1.6v1.6h-1.6z" fill="#2030ff"/>
<path d="M510.6,1019.6h1.0v1.0h-1.0zM510.3,1019.5h1.0v1.0h-1.0zM510.6,1018.4h1.0v1.0h-1.0z" fill="#2030ff"/>
<path d="M636.0,1018.8h2.0v2.0h-2.0zM635.8,1018.7h2.0v2.0h-2.0zM634.5,1017.7h2.0v2.0h-2.0z" fill="#2030ff"/>
<path d="M692.1,1019.7h1.0v1.0h-1.0zM691.5,1021.3h1.0v1.0h-1.0zM693.2,1019.8h1.0v1.0h-1.0z" fill="#2030ff"/>
<path d="M559.3,1034.2h1.3v1.3h-1.3zM559.3,1032.6h1.6v1.6h-1.6zM559.9,1033.7h2.0v2.0h-2.0z" fill="#2030ff"/>
<path d="M635.7,1036.9h1.0v1.0h-1.0zM634.5,1038.4h1.3v1.3h-1.3zM635.2,1038.7h1.6v1.6h-1.6z" fill="#60e0e0"/>
<path d="M663.1,1042.3h2.0v2.0h-2.0zM662.5,1042.8h1.0v1.0h-1.0zM664.0,1042.8h2.0v2.0h-2.0z" fill="#2030ff"/>
<path d="M625.5,1052.4h1.3v1.3h-1.3zM625.9,1054.6h2.0v2.0h-2.0zM626.9,1052.2h2.0v2.0h-2.0zM625.9,1050.7h1.0v1.0h-1.0zM628.0,1052.9h2.0v2.0h-2.0z" fill="#60c0e0"/>
<path d="M683.3,1053.7h1.3v1.3h-1.3zM684.0,1053.8h2.0v2.0h-2.0zM683.0,1054.3h1.0v1.0h-1.0z" fill="#60ff40"/>
<path d="M797.1,1047.1h1.3v1.3h-1.3zM796.2,1050.5h1.6v1.6h-1.6zM796.6,1049.7h1.3v1.3h-1.3z" fill="#2030ff"/>
<path d="M796.8,1063.2h1.0v1.0h-1.0zM795.4,1060.8h1.6v1.6h-1.6zM795.9,1064.1h2.0v2.0h-2.0z" fill="#60ff40"/>
<path d="M664.9,1077.9h2.0v2.0h-2.0zM664.9,1077.9h1.3v1.3h-1.3zM666.7,1078.5h1.0v1.0h-1.0z" fill="#2030ff"/>
<path d="M712.4,1081.0h2.0v2.0h-2.0zM711.9,1081.3h2.0v2.0h-2.0zM712.0,1082.2h1.0v1.0h-1.0z" fill="#60ff40"/>
<path d="M705.4,1076.2h2.0v2.0h-2.0zM705.3,1077.4h1.3v1.3h-1.3zM706.1,1077.9h1.6v1.6h-1.6z" fill="#2030ff"/>
<path d="M675.2,1081.6h1.3v1.3h-1.3zM676.2,1083.2h2.0v2.0h-2.0zM675.4,1081.2h2.0v2.0h-2.0z" fill="#60e0e0"/>
<path d="M733.0,1099.4h1.3v1.3h-1.3zM731.3,1097.5h2.0v2.0h-2.0zM734.2,1095.9h1.3v1.3h-1.3zM733.5,1095.6h1.3v1.3h-1.3zM732.6,1101.4h1.3v1.3h-1.3zM731.3,1095.6h1.0v1.0h-1.0zM732.5,1099.5h1.6v1.6h-1.6zM733.5,1095.2h1.3v1.3h-1.3zM733.0,1101.4h1.0v1.0h-1.0zM730.6,1097.2h2.0v2.0h-2.0z" fill="#80ff40"/>
<path d="M726.4,1090.9h2.0v2.0h-2.0zM726.5,1092.1h1.3v1.3h-1.3zM727.2,1092.0h1.0v1.0h-1.0zM725.3,1092.2h2.0v2.0h-2.0zM727.7,1091.4h2.0v2.0h-2.0z" fill="#a0a0f0"/>
<path d="M707.6,1113.0h2.0v2.0h-2.0zM709.6,1112.3h1.6v1.6h-1.6zM707.7,1112.9h2.0v2.0h-2.0z" fill="#2030ff"/>
<path d="M764.5,1102.4h2.0v2.0h-2.0zM763.6,1102.3h2.0v2.0h-2.0zM763.2,1104.3h1.6v1.6h-1.6z" fill="#6040ff"/>
<path d="M775.0,1100.0h1.0v1.0h-1.0zM777.0,1099.8h1.6v1.6h-1.6zM775.9,1099.4h1.6v1.6h-1.6z" fill="#b0b0f0"/>
<path d="M786.7,1095.1h1.0v1.0h-1.0zM787.3,1095.0h1.6v1.6h-1.6zM786.5,1095.6h1.6v1.6h-1.6z" fill="#80ff40"/>
<path d="M749.1,1110.4h1.0v1.0h-1.0zM750.5,1109.9h1.6v1.6h-1.6zM749.2,1111.8h2.0v2.0h-2.0z" fill="#80ff40"/>
<path d="M589.5,1114.3h1.0v1.0h-1.0zM589.7,1114.5h1.3v1.3h-1.3zM588.6,1112.5h1.3v1.3h-1.3z" fill="#8040ff"/>
<path d="M602.7,1108.3h1.0v1.0h-1.0zM604.5,1106.7h2.0v2.0h-2.0zM603.2,1106.6h1.6v1.6h-1.6zM601.0,1107.9h1.3v1.3h-1.3zM601.1,1106.5h2.0v2.0h-2.0zM603.7,1108.1h1.3v1.3h-1.3zM602.3,1109.8h2.0v2.0h-2.0z" fill="#a060ff"/>
<path d="M594.6,1125.5h1.6v1.6h-1.6zM595.3,1124.0h1.0v1.0h-1.0zM594.2,1125.8h2.0v2.0h-2.0z" fill="#8040ff"/>
<path d="M471.3,1080.2h2.0v2.0h-2.0zM470.7,1080.1h1.3v1.3h-1.3zM471.8,1080.2h1.3v1.3h-1.3z" fill="#a0ffa0"/>
<path d="M639.6,1097.3h1.0v1.0h-1.0zM638.8,1097.3h1.3v1.3h-1.3zM641.6,1099.0h1.0v1.0h-1.0zM644.7,1099.0h1.0v1.0h-1.0zM639.8,1099.2h1.3v1.3h-1.3zM642.5,1099.1h2.0v2.0h-2.0zM639.5,1099.9h1.6v1.6h-1.6zM640.2,1100.2h1.0v1.0h-1.0zM638.5,1097.9h2.0v2.0h-2.0zM639.1,1099.9h1.0v1.0h-1.0z" fill="#f0c8f0"/>
<path d="M661.4,1125.6h1.3v1.3h-1.3zM663.3,1125.5h1.0v1.0h-1.0zM661.8,1125.2h2.0v2.0h-2.0z" fill="#ff40f0"/>
<path d="M737.7,1127.6h1.6v1.6h-1.6zM738.1,1128.2h2.0v2.0h-2.0zM736.0,1129.0h2.0v2.0h-2.0z" fill="#a040ff"/>
<path d="M776.6,1136.3h1.3v1.3h-1.3zM774.9,1137.0h1.6v1.6h-1.6zM775.0,1137.8h1.3v1.3h-1.3z" fill="#80ff40"/>
<path d="M653.4,1136.3h2.0v2.0h-2.0zM652.9,1136.3h2.0v2.0h-2.0zM652.7,1137.6h1.0v1.0h-1.0z" fill="#ff40f0"/>
<path d="M654.0,1147.3h2.0v2.0h-2.0zM655.9,1145.3h1.3v1.3h-1.3zM657.4,1146.9h1.0v1.0h-1.0zM656.4,1145.2h1.0v1.0h-1.0zM653.8,1145.7h1.3v1.3h-1.3z" fill="#f0e020"/>
<path d="M625.0,1145.8h1.0v1.0h-1.0zM624.0,1144.7h2.0v2.0h-2.0zM625.5,1145.5h1.0v1.0h-1.0z" fill="#ff6020"/>
<path d="M529.9,1129.0h2.0v2.0h-2.0zM530.5,1128.0h1.0v1.0h-1.0zM530.6,1127.7h2.0v2.0h-2.0z" fill="#ff40f0"/>
<path d="M542.5,1138.7h2.0v2.0h-2.0zM541.0,1138.7h2.0v2.0h-2.0zM540.0,1139.5h1.6v1.6h-1.6z" fill="#ff6040"/>
<path d="M588.0,1157.1h1.3v1.3h-1.3zM584.0,1161.6h1.6v1.6h-1.6zM587.7,1161.5h2.0v2.0h-2.0zM586.6,1164.3h1.3v1.3h-1.3zM586.4,1159.3h1.6v1.6h-1.6zM585.7,1157.6h1.0v1.0h-1.0zM586.0,1162.6h1.6v1.6h-1.6zM588.7,1158.4h1.6v1.6h-1.6zM585.5,1157.8h2.0v2.0h-2.0zM588.1,1157.9h1.3v1.3h-1.3zM587.6,1164.7h1.6v1.6h-1.6zM588.4,1162.2h2.0v2.0h-2.0zM587.8,1165.3h2.0v2.0h-2.0zM590.6,1160.5h1.6v1.6h-1.6zM586.4,1158.8h1.0v1.0h-1.0zM587.5,1161.3h1.3v1.3h-1.3zM589.3,1157.8h1.0v1.0h-1.0zM586.6,1160.4h1.0v1.0h-1.0z" fill="#ff8020"/>
<path d="M516.4,1164.0h1.0v1.0h-1.0zM515.7,1164.1h1.0v1.0h-1.0zM516.3,1162.9h1.0v1.0h-1.0z" fill="#ff40f0"/>
<path d="M527.4,1166.0h1.3v1.3h-1.3zM526.2,1167.8h1.0v1.0h-1.0zM526.8,1167.4h1.3v1.3h-1.3z" fill="#ff6020"/>
<path d="M582.8,1173.6h1.0v1.0h-1.0zM582.6,1173.9h2.0v2.0h-2.0zM580.2,1171.7h1.6v1.6h-1.6zM581.4,1174.3h1.3v1.3h-1.3zM583.1,1173.8h1.0v1.0h-1.0zM582.1,1173.2h2.0v2.0h-2.0zM583.4,1172.8h1.0v1.0h-1.0zM577.9,1174.4h1.3v1.3h-1.3zM579.4,1172.2h1.6v1.6h-1.6z" fill="#ff40a0"/>
<path d="M596.8,1169.3h1.6v1.6h-1.6zM597.3,1168.9h1.3v1.3h-1.3zM595.5,1168.9h1.6v1.6h-1.6z" fill="#ff40f0"/>
<path d="M605.4,1175.4h1.6v1.6h-1.6zM604.9,1175.4h1.6v1.6h-1.6zM606.1,1176.3h1.3v1.3h-1.3z" fill="#ff40f0"/>
<path d="M622.3,1169.4h2.0v2.0h-2.0zM620.2,1169.7h1.0v1.0h-1.0zM622.5,1170.2h2.0v2.0h-2.0z" fill="#ff4020"/>
<path d="M683.0,1156.9h1.0v1.0h-1.0zM684.1,1156.9h1.6v1.6h-1.6zM683.9,1155.8h1.3v1.3h-1.3zM681.7,1159.0h1.3v1.3h-1.3zM683.6,1158.7h1.6v1.6h-1.6zM681.8,1159.1h1.3v1.3h-1.3zM681.5,1157.1h1.6v1.6h-1.6zM683.3,1158.8h1.6v1.6h-1.6z" fill="#ff8020"/>
<path d="M690.9,1159.7h2.0v2.0h-2.0zM688.4,1158.8h1.3v1.3h-1.3zM691.2,1159.5h1.6v1.6h-1.6zM693.0,1161.0h1.0v1.0h-1.0zM690.0,1161.7h1.6v1.6h-1.6zM689.7,1159.6h1.0v1.0h-1.0zM688.6,1158.5h1.0v1.0h-1.0zM690.2,1158.4h1.0v1.0h-1.0z" fill="#ff50f0"/>
<path d="M696.3,1165.4h1.3v1.3h-1.3zM695.9,1164.6h2.0v2.0h-2.0zM693.9,1164.5h1.6v1.6h-1.6zM697.4,1164.3h1.0v1.0h-1.0zM696.7,1165.2h1.0v1.0h-1.0zM695.0,1163.8h1.6v1.6h-1.6z" fill="#ff50f0"/>
<path d="M700.0,1161.0h1.0v1.0h-1.0zM698.2,1159.9h1.0v1.0h-1.0zM698.9,1159.5h1.3v1.3h-1.3zM699.2,1160.8h1.3v1.3h-1.3zM702.7,1160.2h2.0v2.0h-2.0z" fill="#ff50f0"/>
<path d="M694.9,1171.2h1.3v1.3h-1.3zM692.9,1171.0h1.3v1.3h-1.3zM692.0,1168.3h1.3v1.3h-1.3zM692.2,1169.6h1.0v1.0h-1.0zM693.2,1170.5h2.0v2.0h-2.0zM693.3,1171.3h1.6v1.6h-1.6z" fill="#ff50f0"/>
<path d="M703.3,1166.8h1.3v1.3h-1.3zM701.0,1166.1h1.0v1.0h-1.0zM704.0,1165.7h1.0v1.0h-1.0zM702.0,1167.6h1.0v1.0h-1.0zM704.9,1166.2h1.6v1.6h-1.6z" fill="#ff50f0"/>
<path d="M693.4,1169.8h2.0v2.0h-2.0zM693.1,1170.9h2.0v2.0h-2.0zM695.0,1172.5h1.0v1.0h-1.0zM691.5,1171.4h1.6v1.6h-1.6zM691.8,1170.7h1.6v1.6h-1.6z" fill="#ff40f0"/>
<path d="M610.7,1195.6h1.6v1.6h-1.6zM609.9,1194.7h2.0v2.0h-2.0zM609.2,1196.9h1.6v1.6h-1.6zM608.2,1196.5h1.6v1.6h-1.6zM610.9,1196.7h2.0v2.0h-2.0z" fill="#ff2040"/>
<path d="M585.4,1188.5h2.0v2.0h-2.0zM584.4,1188.2h1.3v1.3h-1.3zM587.0,1189.6h1.3v1.3h-1.3z" fill="#ff2040"/>
<path d="M585.3,1200.8h1.3v1.3h-1.3zM585.0,1201.4h1.6v1.6h-1.6zM583.8,1202.4h2.0v2.0h-2.0z" fill="#ff2040"/>
<path d="M593.7,1215.1h2.0v2.0h-2.0zM594.4,1213.4h1.0v1.0h-1.0zM591.3,1214.9h1.6v1.6h-1.6z" fill="#ff2020"/>
<path d="M647.2,1203.9h1.6v1.6h-1.6zM645.3,1205.0h2.0v2.0h-2.0zM641.9,1204.9h2.0v2.0h-2.0zM642.9,1203.6h2.0v2.0h-2.0zM645.0,1205.7h1.6v1.6h-1.6z" fill="#ff2020"/>
<path d="M667.0,1200.1h1.0v1.0h-1.0zM667.0,1199.0h1.3v1.3h-1.3zM666.0,1199.3h1.0v1.0h-1.0z" fill="#ff2040"/>
<path d="M538.0,1195.5h2.0v2.0h-2.0zM535.0,1194.7h1.0v1.0h-1.0zM535.2,1195.5h1.0v1.0h-1.0z" fill="#ff4040"/>
<path d="M528.7,1186.6h2.0v2.0h-2.0zM528.2,1185.4h1.6v1.6h-1.6zM530.2,1185.1h1.0v1.0h-1.0z" fill="#ff4040"/>
<path d="M557.6,1185.4h1.0v1.0h-1.0zM557.4,1185.9h1.6v1.6h-1.6zM559.5,1185.8h2.0v2.0h-2.0z" fill="#ff40f0"/>
<path d="M746.5,1176.6h1.3v1.3h-1.3zM746.7,1175.7h1.0v1.0h-1.0zM745.4,1177.3h1.3v1.3h-1.3z" fill="#ff8040"/>
<path d="M698.4,1207.3h2.0v2.0h-2.0zM698.1,1205.8h2.0v2.0h-2.0zM698.7,1207.2h2.0v2.0h-2.0z" fill="#ff8040"/>
<path d="M632.8,827.0h1.3v1.3h-1.3zM633.4,826.5h1.0v1.0h-1.0zM634.5,827.6h1.6v1.6h-1.6z" fill="#ff2020"/>
<path d="M560.6,836.9h1.6v1.6h-1.6zM561.7,838.2h1.6v1.6h-1.6zM560.7,836.9h1.0v1.0h-1.0z" fill="#ff6040"/>
<path d="M491.8,857.7h1.0v1.0h-1.0zM490.7,860.2h2.0v2.0h-2.0zM491.7,857.5h2.0v2.0h-2.0zM490.6,858.7h1.3v1.3h-1.3zM489.9,856.5h1.3v1.3h-1.3z" fill="#ff6040"/>
<path d="M600.7,1000.1h2.0v2.0h-2.0zM601.1,1001.6h1.0v1.0h-1.0zM601.6,1000.9h2.0v2.0h-2.0z" fill="#2030ff"/>
<path d="M452.7,1126.1h2.0v2.0h-2.0zM454.2,1125.1h1.0v1.0h-1.0zM454.4,1125.6h1.3v1.3h-1.3z" fill="#a0ffa0"/>
<path d="M756.5,1001.4h1.3v1.3h-1.3zM756.9,1002.6h1.3v1.3h-1.3zM755.8,1001.8h1.3v1.3h-1.3z" fill="#60e0ff"/>
<path d="M613.8,1105.9h2.0v2.0h-2.0zM613.6,1106.3h1.3v1.3h-1.3zM615.5,1106.3h2.0v2.0h-2.0z" fill="#f0e020"/>
<path d="M719.4,1152.0h2.0v2.0h-2.0zM721.1,1150.6h1.6v1.6h-1.6zM719.2,1151.6h1.3v1.3h-1.3z" fill="#ff40f0"/>
<path d="M760.8,1110.5h1.0v1.0h-1.0zM762.1,1110.1h1.6v1.6h-1.6zM763.7,1111.0h1.6v1.6h-1.6z" fill="#2030ff"/>
<path d="M772.2,1077.5h1.0v1.0h-1.0zM770.5,1076.6h1.0v1.0h-1.0zM773.2,1076.3h1.3v1.3h-1.3z" fill="#60e0e0"/>
<path d="M544.5,1158.4h1.3v1.3h-1.3zM542.1,1156.3h1.3v1.3h-1.3zM540.3,1157.7h1.6v1.6h-1.6zM542.6,1159.6h1.0v1.0h-1.0zM543.8,1157.1h2.0v2.0h-2.0z" fill="#ff40a0"/>
<path d="M566.1,1190.2h1.3v1.3h-1.3zM565.7,1192.5h1.3v1.3h-1.3zM567.9,1191.9h1.0v1.0h-1.0z" fill="#ff2040"/>
<text class="t" x="22" y="854" font-size="40">b</text>
<text class="t" x="429.5" y="854" font-size="40">c</text>
<text class="t" x="839.5" y="854" font-size="40">d</text>
<text class="t" x="197" y="821.4" font-size="21">0001</text>
<text class="t" x="605.3" y="821.4" font-size="21">0001</text>
<text class="t" x="1018" y="821.4" font-size="21">0001</text>
<defs><linearGradient id="cb" x1="0" y1="0" x2="0" y2="1"><stop offset="0" stop-color="#0000ff"/><stop offset="0.09" stop-color="#0010ff"/><stop offset="0.12" stop-color="#2080ff"/><stop offset="0.155" stop-color="#20a070"/><stop offset="0.18" stop-color="#30ff30"/><stop offset="0.45" stop-color="#48ff20"/><stop offset="0.55" stop-color="#b0ff20"/><stop offset="0.66" stop-color="#ffff20"/><stop offset="0.72" stop-color="#ffb020"/><stop offset="0.85" stop-color="#ff4010"/><stop offset="1" stop-color="#ff2010"/></linearGradient></defs>
<rect x="1255.5" y="1074" width="21.5" height="121" fill="url(#cb)" stroke="#333" stroke-width="0.8"/>
<rect x="1255.5" y="1094.8" width="21.5" height="2" fill="#000"/>
<rect x="1255.5" y="1117" width="21.5" height="2" fill="#000"/>
<rect x="1255.5" y="1139" width="21.5" height="2" fill="#000"/>
<rect x="1255.5" y="1160.7" width="21.5" height="2" fill="#000"/>
<rect x="1255.5" y="1183.7" width="21.5" height="2" fill="#000"/>
<text class="t" x="1243.6" y="1103.5" font-size="16">3</text>
<text class="t" x="1243.6" y="1124.3" font-size="16">6</text>
<text class="t" x="1243.6" y="1147" font-size="16">9</text>
<text class="t" x="1234.4" y="1168.6" font-size="16">12</text>
<text class="t" x="1234.4" y="1192.6" font-size="16">15</text>
<text class="t" x="1126.5" y="1220" font-size="20" textLength="156">1305 data points</text>
</svg>
<div id="ipf" style="background:radial-gradient(circle at 46px 74px, rgba(255,255,255,1) 0px, rgba(255,255,255,0.7) 6px, rgba(255,255,255,0.22) 24px, rgba(255,255,255,0) 42px),conic-gradient(from 0deg at 46px 74px, #ff7000 0deg, #ffc000 10deg, #ffff00 19deg, #b0ff00 37deg, #60ff10 60deg, #50ff30 100deg, #40ff90 140deg, #40f0f0 163deg, #2080ff 190deg, #0000ff 221deg, #4010ff 255deg, #a000ff 281deg, #ff10ff 302deg, #ff0060 325deg, #ff1000 340deg, #ff4000 352deg, #ff7000 360deg);"></div>
</body></html>
